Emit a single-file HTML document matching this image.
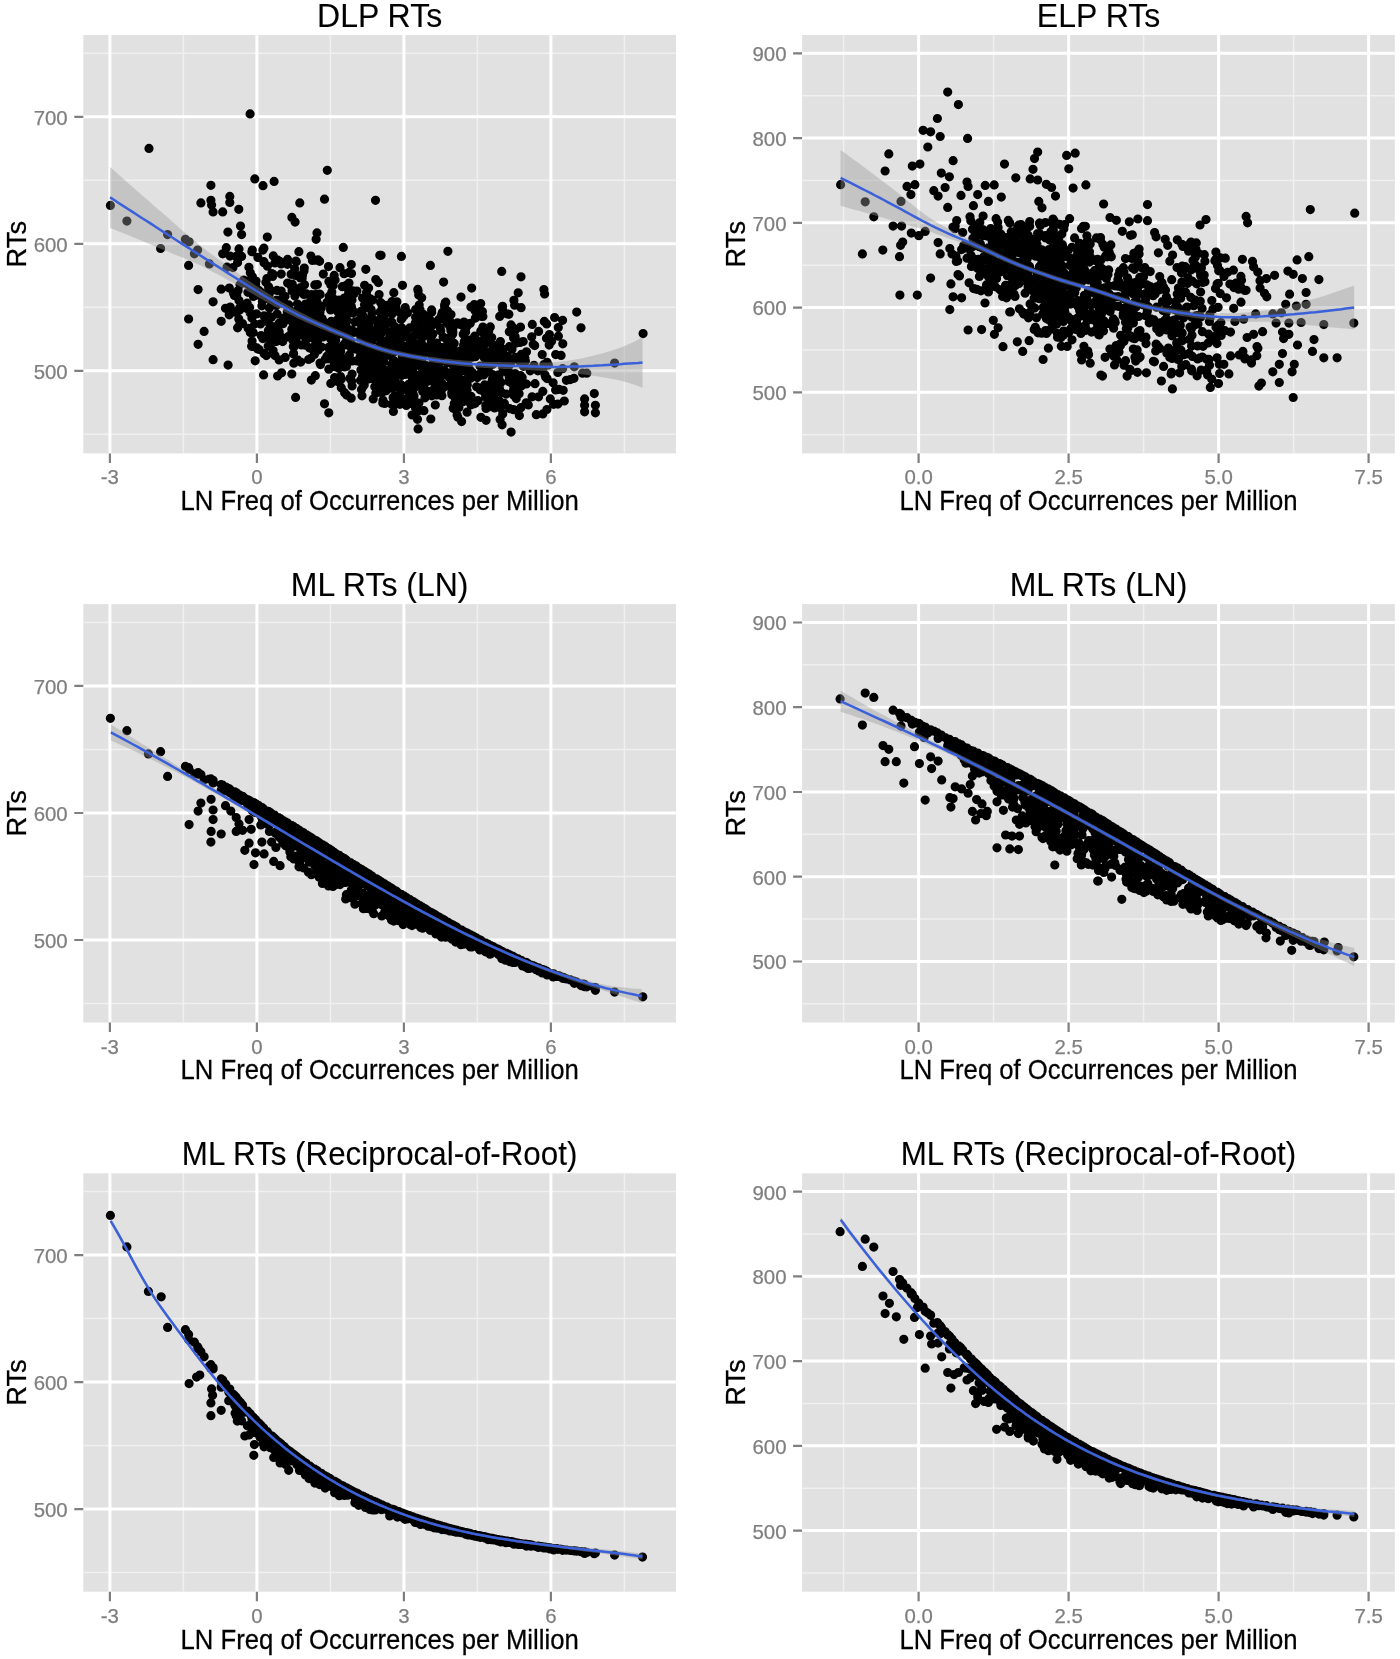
<!DOCTYPE html>
<html><head><meta charset="utf-8"><style>
html,body{margin:0;padding:0;background:#fff;}
svg{display:block;filter:blur(0.45px);}
.tk{font-family:'Liberation Sans', Arial, Helvetica, sans-serif;font-size:20.4px;fill:#7F7F7F;stroke:#7F7F7F;stroke-width:0.25px;}
.tt{font-family:'Liberation Sans', Arial, Helvetica, sans-serif;font-size:32px;fill:#000;stroke:#000;stroke-width:0.1px;}
.at{font-family:'Liberation Sans', Arial, Helvetica, sans-serif;font-size:25.7px;fill:#000;stroke:#000;stroke-width:0.25px;}
</style></head><body>
<svg width="1400" height="1659" viewBox="0 0 1400 1659">
<rect width="1400" height="1659" fill="#fff"/>
<rect x="83.3" y="35.0" width="592.7" height="418.4" fill="#E1E1E1"/>
<path d="M183.4 35.0V453.4M330.4 35.0V453.4M477.4 35.0V453.4M624.4 35.0V453.4M83.3 434.3H676.0M83.3 307.3H676.0M83.3 180.3H676.0M83.3 53.3H676.0" stroke="#F0F0F0" stroke-width="1.5" fill="none"/>
<path d="M109.9 35.0V453.4M256.9 35.0V453.4M403.9 35.0V453.4M550.9 35.0V453.4M83.3 370.8H676.0M83.3 243.8H676.0M83.3 116.8H676.0" stroke="#fff" stroke-width="3" fill="none"/>
<path d="M419.2 305.0h0M492.6 374.6h0M455.9 354.4h0M323.0 336.9h0M343.1 359.2h0M484.4 365.4h0M229.3 288.1h0M468.3 365.1h0M461.6 421.6h0M383.5 353.2h0M343.9 361.0h0M337.5 348.6h0M331.2 321.4h0M378.1 326.5h0M391.9 322.3h0M402.9 369.1h0M558.4 336.2h0M460.4 324.6h0M418.5 320.1h0M544.3 321.4h0M320.2 328.5h0M303.6 322.5h0M416.3 329.6h0M257.7 348.9h0M253.4 296.4h0M394.2 368.2h0M383.1 360.1h0M500.1 419.4h0M420.2 384.8h0M394.0 352.0h0M390.1 322.1h0M329.2 296.3h0M236.7 295.2h0M313.5 326.9h0M435.1 385.2h0M315.9 309.2h0M360.3 348.3h0M227.0 267.2h0M470.9 307.1h0M301.8 317.7h0M334.6 377.5h0M486.7 390.9h0M393.1 397.4h0M476.0 401.0h0M422.6 315.4h0M447.3 353.2h0M279.1 359.9h0M400.1 332.0h0M392.6 311.0h0M483.7 374.9h0M358.3 361.2h0M413.0 366.0h0M265.1 298.7h0M364.6 321.8h0M348.9 298.4h0M300.4 277.9h0M466.9 324.8h0M362.6 298.1h0M533.2 344.3h0M411.1 403.5h0M414.6 359.7h0M422.2 346.9h0M431.3 370.4h0M300.6 287.5h0M377.0 358.0h0M327.0 356.2h0M368.1 297.6h0M281.2 291.0h0M524.9 358.1h0M320.1 294.4h0M430.2 324.3h0M343.2 322.7h0M484.6 384.9h0M427.9 372.2h0M294.2 346.4h0M475.4 356.7h0M512.1 326.7h0M495.0 379.3h0M406.5 390.1h0M298.9 251.7h0M313.5 335.2h0M504.4 403.4h0M402.6 345.7h0M309.9 305.7h0M488.0 386.0h0M423.0 331.9h0M406.5 369.5h0M361.9 370.4h0M370.1 338.5h0M327.0 302.3h0M254.7 324.0h0M485.3 353.0h0M383.4 351.5h0M401.6 375.5h0M348.7 291.9h0M449.7 362.4h0M247.1 303.2h0M360.9 317.8h0M250.3 272.8h0M291.1 274.3h0M524.5 354.6h0M426.9 376.6h0M374.2 362.6h0M396.2 335.7h0M484.2 345.0h0M354.1 293.7h0M411.2 341.7h0M433.0 324.8h0M356.9 291.0h0M395.2 346.4h0M453.2 408.3h0M497.0 401.5h0M300.7 362.1h0M506.7 313.8h0M229.2 314.8h0M450.1 321.6h0M465.3 343.7h0M295.9 261.1h0M372.0 313.0h0M466.6 365.6h0M239.0 300.4h0M420.0 353.8h0M460.5 356.3h0M393.8 368.1h0M443.3 360.9h0M323.3 274.1h0M315.3 375.7h0M358.7 331.7h0M309.6 347.9h0M354.6 332.3h0M513.6 338.0h0M407.4 356.0h0M353.1 313.1h0M335.7 380.9h0M515.6 329.6h0M378.0 366.0h0M534.7 345.6h0M394.4 345.6h0M395.6 375.7h0M492.3 356.8h0M447.5 311.1h0M409.0 345.4h0M373.8 337.3h0M486.0 408.4h0M370.3 298.8h0M502.3 306.8h0M269.4 308.1h0M374.6 352.7h0M395.3 403.0h0M515.1 336.6h0M330.2 305.3h0M464.0 322.0h0M431.3 341.0h0M441.2 390.9h0M420.2 314.1h0M527.5 404.3h0M351.3 343.6h0M367.1 334.2h0M316.6 294.2h0M261.1 293.3h0M319.5 311.3h0M499.4 388.3h0M473.9 403.8h0M287.3 311.7h0M414.3 378.0h0M386.1 390.8h0M412.2 395.3h0M427.2 373.2h0M344.8 393.0h0M520.8 407.7h0M383.0 400.3h0M419.9 350.7h0M421.6 343.8h0M310.9 256.0h0M266.3 355.6h0M370.3 365.8h0M452.9 332.1h0M466.6 369.3h0M444.4 370.4h0M287.6 259.4h0M498.6 374.8h0M462.9 398.8h0M485.8 405.4h0M396.1 341.2h0M499.5 354.4h0M259.1 349.5h0M250.3 332.4h0M243.7 280.0h0M330.6 310.0h0M329.5 348.3h0M312.0 300.4h0M405.9 335.8h0M255.2 360.8h0M411.2 364.9h0M305.5 304.1h0M431.6 376.5h0M244.3 306.4h0M345.8 310.8h0M508.9 314.3h0M399.5 388.4h0M465.6 331.9h0M426.9 318.4h0M415.9 324.6h0M313.1 316.0h0M407.6 391.1h0M255.6 284.5h0M462.8 384.8h0M520.1 342.4h0M478.1 305.4h0M261.1 335.5h0M352.8 290.9h0M347.7 284.9h0M287.4 264.3h0M419.5 357.1h0M461.7 400.1h0M346.6 340.6h0M480.9 417.3h0M461.6 359.0h0M293.3 346.5h0M453.6 366.4h0M487.5 367.1h0M314.9 260.2h0M407.4 313.0h0M422.4 358.3h0M415.6 317.3h0M281.0 336.9h0M427.7 368.4h0M420.8 327.7h0M469.1 402.0h0M463.3 371.0h0M349.9 378.3h0M442.4 356.1h0M482.4 311.6h0M491.1 387.7h0M304.0 309.9h0M248.1 328.3h0M425.2 393.8h0M320.0 363.0h0M405.2 307.6h0M512.0 349.2h0M362.6 364.1h0M330.6 305.9h0M380.8 358.3h0M426.7 332.1h0M282.9 303.4h0M362.9 332.6h0M294.9 296.0h0M428.0 376.1h0M471.0 375.5h0M362.0 395.8h0M360.8 354.7h0M399.8 397.8h0M320.1 328.4h0M329.2 358.1h0M350.6 333.4h0M381.0 333.4h0M275.0 355.6h0M450.0 386.6h0M408.6 384.4h0M343.0 309.8h0M273.3 255.9h0M452.7 334.0h0M294.0 326.2h0M294.7 268.8h0M293.8 363.2h0M274.9 262.9h0M496.0 384.8h0M335.1 280.1h0M344.7 367.0h0M471.7 357.4h0M418.0 362.9h0M311.9 316.9h0M375.8 393.2h0M487.9 385.3h0M361.7 326.2h0M439.6 352.4h0M281.2 274.1h0M443.7 357.4h0M456.1 384.1h0M469.6 354.4h0M430.8 419.0h0M360.5 380.4h0M267.4 266.2h0M395.1 381.5h0M451.2 344.0h0M313.0 322.6h0M334.3 363.0h0M399.0 363.5h0M448.9 376.9h0M492.4 379.3h0M292.1 290.8h0M311.0 299.0h0M462.2 380.3h0M423.7 385.9h0M442.1 350.8h0M562.6 368.7h0M509.3 331.8h0M474.7 336.2h0M456.3 362.5h0M366.4 348.2h0M423.0 384.1h0M311.1 348.6h0M451.7 392.8h0M451.3 373.4h0M442.2 373.3h0M378.1 323.2h0M362.3 353.9h0M372.2 351.2h0M252.1 341.0h0M475.1 310.8h0M400.4 336.7h0M364.6 285.3h0M401.7 327.8h0M442.3 312.5h0M363.1 349.5h0M471.0 339.9h0M501.0 403.0h0M364.5 304.8h0M296.3 261.7h0M452.0 347.6h0M551.6 341.3h0M299.7 275.6h0M440.1 380.8h0M469.5 349.3h0M501.4 392.4h0M291.3 336.5h0M279.2 331.7h0M542.8 370.1h0M288.9 309.3h0M308.8 304.0h0M407.7 400.4h0M378.4 282.6h0M449.5 323.1h0M312.9 297.0h0M499.0 375.7h0M320.7 327.0h0M454.2 343.4h0M268.9 295.5h0M384.7 403.5h0M251.6 277.9h0M346.6 395.1h0M346.2 302.4h0M441.8 347.7h0M380.5 351.2h0M264.0 262.7h0M557.9 404.1h0M489.6 358.4h0M499.7 316.4h0M328.9 334.0h0M366.1 356.3h0M323.5 321.6h0M291.8 329.2h0M251.9 251.7h0M391.6 380.3h0M291.2 286.0h0M308.6 359.5h0M480.2 341.4h0M387.2 353.0h0M310.9 319.9h0M429.7 392.8h0M334.2 344.3h0M396.9 301.8h0M338.7 368.2h0M394.5 386.0h0M420.0 309.4h0M399.0 348.7h0M366.5 292.5h0M459.9 351.2h0M484.4 392.3h0M309.6 321.2h0M295.8 275.4h0M287.6 283.0h0M534.0 365.3h0M510.4 362.9h0M324.5 329.4h0M526.4 384.0h0M318.0 259.8h0M392.3 350.7h0M390.2 387.3h0M499.2 379.7h0M256.0 281.0h0M347.0 314.2h0M413.4 359.8h0M268.4 330.5h0M326.2 325.6h0M382.8 402.9h0M486.9 406.1h0M452.1 334.9h0M470.6 378.3h0M452.1 348.7h0M438.9 319.6h0M476.8 341.9h0M432.5 357.7h0M445.8 338.4h0M343.5 345.3h0M306.0 293.5h0M451.0 347.5h0M305.4 345.2h0M501.0 361.8h0M412.6 360.6h0M350.5 342.2h0M508.2 373.7h0M302.0 331.0h0M394.1 405.0h0M279.1 323.2h0M523.4 366.3h0M407.8 351.0h0M463.4 399.2h0M338.4 310.9h0M462.9 401.7h0M437.7 366.5h0M423.5 314.4h0M514.9 387.3h0M375.4 362.7h0M371.1 309.5h0M435.1 371.3h0M472.3 372.5h0M351.9 329.9h0M429.7 323.8h0M318.4 350.1h0M402.5 386.1h0M454.2 396.6h0M267.9 336.4h0M443.8 387.3h0M240.0 284.8h0M519.1 393.8h0M383.6 344.6h0M369.7 330.9h0M442.0 383.5h0M396.1 347.6h0M444.6 306.8h0M276.3 300.4h0M405.0 374.5h0M403.9 355.6h0M506.2 394.1h0M255.5 295.6h0M380.0 319.4h0M420.6 383.2h0M402.3 360.0h0M271.8 273.5h0M411.9 371.2h0M322.1 318.6h0M314.4 354.5h0M486.1 390.1h0M315.1 338.2h0M380.3 360.5h0M449.4 377.5h0M438.8 377.2h0M402.9 358.6h0M464.3 341.4h0M383.0 342.3h0M418.1 290.8h0M467.7 355.7h0M431.7 312.3h0M423.1 348.2h0M369.0 324.5h0M404.0 399.4h0M366.6 346.9h0M447.9 362.7h0M362.9 349.2h0M383.2 320.5h0M450.7 373.1h0M391.7 364.6h0M352.6 345.5h0M469.9 369.9h0M363.0 328.6h0M475.3 403.3h0M458.4 391.2h0M378.7 337.8h0M440.1 354.9h0M252.7 314.6h0M365.1 360.5h0M480.1 389.8h0M408.8 356.3h0M403.9 316.0h0M428.5 391.4h0M431.6 309.9h0M409.7 327.9h0M372.4 359.3h0M310.8 294.8h0M341.2 379.3h0M341.3 387.7h0M374.8 386.7h0M574.0 378.3h0M356.2 349.2h0M378.7 363.4h0M360.8 337.5h0M409.2 338.8h0M513.5 409.7h0M489.7 384.7h0M362.1 354.3h0M334.4 366.6h0M488.1 407.2h0M389.4 382.1h0M433.5 358.9h0M271.4 290.8h0M482.1 345.5h0M346.4 366.5h0M389.6 375.3h0M315.1 350.8h0M372.3 330.6h0M470.3 323.3h0M470.1 378.0h0M384.8 373.8h0M453.9 350.4h0M381.2 315.0h0M361.2 329.9h0M401.2 319.5h0M316.1 317.8h0M347.3 296.2h0M438.6 319.7h0M454.6 364.4h0M263.9 261.7h0M445.1 354.9h0M467.2 359.7h0M378.2 376.1h0M266.6 317.3h0M432.9 333.8h0M328.8 369.2h0M423.5 336.4h0M362.0 330.1h0M422.0 348.0h0M332.1 332.2h0M385.4 328.5h0M396.4 376.1h0M420.6 353.7h0M316.7 301.0h0M521.3 385.9h0M340.3 304.7h0M344.6 392.7h0M331.6 306.7h0M268.9 316.3h0M373.0 319.5h0M454.9 390.7h0M439.3 379.0h0M314.4 347.6h0M296.0 338.0h0M348.5 344.5h0M454.0 393.6h0M388.1 312.0h0M502.5 309.5h0M426.5 379.9h0M418.2 411.0h0M453.8 324.0h0M449.4 325.5h0M354.0 311.9h0M331.8 292.1h0M376.4 373.9h0M388.4 355.2h0M297.6 359.8h0M377.3 391.6h0M422.6 325.7h0M295.6 336.8h0M296.4 313.3h0M307.8 338.6h0M338.8 306.4h0M521.1 307.7h0M247.5 284.0h0M310.9 358.3h0M305.2 305.4h0M384.9 305.3h0M239.7 310.1h0M381.2 372.4h0M304.5 284.8h0M335.2 325.8h0M460.3 396.8h0M311.0 331.8h0M417.4 380.0h0M369.0 334.4h0M371.7 341.2h0M467.1 325.9h0M303.9 294.5h0M502.7 413.9h0M491.3 350.9h0M429.4 329.5h0M260.5 291.9h0M428.2 325.1h0M413.5 372.8h0M455.0 391.5h0M319.7 294.1h0M516.3 398.6h0M488.7 331.1h0M288.0 336.8h0M347.0 344.8h0M251.6 346.3h0M471.1 404.8h0M499.3 400.8h0M545.6 377.0h0M416.2 344.1h0M428.8 334.0h0M431.8 395.8h0M406.6 387.9h0M515.8 343.2h0M415.2 358.0h0M352.1 386.0h0M393.8 292.7h0M242.5 323.6h0M442.9 352.0h0M435.5 352.5h0M372.5 300.2h0M477.3 377.6h0M450.7 328.8h0M352.3 360.9h0M273.3 274.4h0M294.4 339.4h0M311.0 331.2h0M344.1 273.7h0M378.7 337.0h0M504.4 360.8h0M337.5 319.7h0M493.1 389.8h0M432.3 335.1h0M478.0 400.7h0M368.3 307.7h0M226.3 247.7h0M458.9 379.9h0M328.6 347.4h0M297.9 310.3h0M462.2 361.5h0M433.7 389.6h0M319.3 305.4h0M334.6 343.7h0M509.3 377.3h0M334.9 338.8h0M437.6 349.4h0M293.5 354.0h0M466.5 343.7h0M289.2 319.8h0M394.5 372.1h0M253.1 346.3h0M402.1 390.7h0M475.8 351.6h0M276.2 341.4h0M336.4 328.7h0M453.1 327.4h0M415.3 322.9h0M346.3 285.3h0M420.1 365.9h0M380.4 382.0h0M480.8 330.9h0M341.3 322.9h0M451.3 325.2h0M421.7 356.4h0M447.0 322.4h0M362.4 314.4h0M443.1 337.1h0M436.6 343.0h0M364.6 329.5h0M247.9 292.3h0M521.8 357.7h0M440.3 328.1h0M317.1 338.7h0M444.6 305.0h0M337.6 334.6h0M383.8 317.3h0M480.0 366.1h0M378.8 354.9h0M340.0 267.7h0M344.5 343.9h0M273.1 350.5h0M321.4 347.0h0M335.6 340.5h0M307.6 311.6h0M266.9 278.6h0M383.0 380.2h0M319.9 312.5h0M446.5 339.0h0M502.2 307.0h0M336.1 352.7h0M407.1 335.0h0M392.4 341.3h0M272.2 342.2h0M291.8 315.3h0M488.2 372.0h0M384.9 329.9h0M463.6 345.0h0M268.5 322.6h0M412.2 397.6h0M481.7 316.4h0M482.3 354.9h0M230.0 256.1h0M395.8 307.0h0M360.1 357.0h0M451.9 335.2h0M271.4 317.2h0M333.9 331.7h0M465.9 365.0h0M383.8 348.7h0M380.0 312.1h0M525.4 361.1h0M348.1 340.5h0M256.6 313.9h0M365.7 331.7h0M301.5 345.0h0M275.1 326.5h0M406.1 355.6h0M516.5 382.7h0M408.7 358.2h0M424.3 376.6h0M349.1 272.4h0M406.9 311.9h0M449.9 346.4h0M411.0 356.6h0M463.1 351.8h0M402.2 355.9h0M315.2 312.0h0M409.5 344.9h0M388.7 305.2h0M305.4 317.9h0M417.8 289.4h0M467.1 390.4h0M295.4 293.4h0M401.0 384.7h0M445.3 302.5h0M368.3 354.0h0M335.3 332.1h0M360.9 311.4h0M400.3 312.9h0M433.8 393.9h0M404.2 364.6h0M285.2 357.4h0M467.4 358.1h0M502.7 367.5h0M283.0 323.7h0M329.7 349.7h0M307.8 330.5h0M476.6 386.8h0M497.4 347.2h0M257.9 257.4h0M351.2 398.2h0M313.5 324.6h0M383.8 361.9h0M501.8 348.6h0M270.1 339.4h0M307.1 322.6h0M387.9 382.8h0M396.3 329.7h0M448.2 357.4h0M376.4 351.4h0M297.4 304.1h0M356.4 346.8h0M536.3 414.7h0M449.5 341.8h0M288.7 304.8h0M464.6 367.1h0M345.9 303.4h0M457.4 322.8h0M237.6 327.8h0M483.7 388.3h0M304.3 268.0h0M380.6 302.6h0M427.8 381.2h0M392.6 388.5h0M305.3 337.5h0M296.7 331.5h0M339.1 382.2h0M261.9 305.8h0M320.5 364.6h0M293.6 353.5h0M382.7 319.2h0M357.1 360.9h0M410.4 357.1h0M338.1 311.5h0M252.4 276.7h0M350.9 347.4h0M450.7 359.4h0M331.5 354.9h0M368.6 288.1h0M450.6 340.2h0M369.1 378.8h0M489.0 363.6h0M500.4 341.5h0M345.8 319.4h0M445.8 302.2h0M330.7 284.8h0M296.9 332.8h0M376.5 349.2h0M414.0 396.1h0M507.7 356.5h0M299.0 311.3h0M440.0 356.4h0M385.2 370.3h0M294.2 311.6h0M528.3 405.0h0M436.0 386.5h0M293.2 326.6h0M495.7 353.1h0M283.7 318.0h0M279.6 340.0h0M351.0 311.8h0M508.8 381.6h0M251.9 318.0h0M500.5 408.0h0M416.1 380.8h0M268.7 288.1h0M406.3 405.4h0M381.3 350.1h0M405.3 331.0h0M446.1 372.2h0M431.8 350.7h0M564.3 401.0h0M302.5 275.2h0M465.9 327.4h0M370.2 336.7h0M457.9 417.3h0M490.6 397.0h0M549.4 334.6h0M334.2 275.4h0M380.0 338.0h0M511.0 324.9h0M512.4 383.9h0M361.1 346.8h0M509.8 364.5h0M368.9 330.3h0M361.5 389.5h0M451.0 331.0h0M384.2 306.7h0M378.9 383.6h0M364.2 385.0h0M375.3 334.8h0M297.0 336.5h0M265.9 282.3h0M450.4 355.8h0M405.4 369.0h0M430.2 353.7h0M463.0 386.0h0M324.4 322.4h0M325.4 359.1h0M337.4 355.3h0M344.1 321.7h0M452.1 378.6h0M361.4 355.2h0M349.0 283.0h0M421.8 329.5h0M311.7 294.6h0M285.0 296.3h0M436.3 343.6h0M451.0 314.6h0M342.2 333.8h0M421.7 297.8h0M252.5 332.7h0M368.6 351.7h0M408.4 398.2h0M330.8 339.3h0M355.1 322.0h0M415.6 309.6h0M411.1 376.0h0M301.7 316.5h0M438.6 370.7h0M274.3 333.8h0M526.2 402.8h0M316.4 320.3h0M330.8 383.4h0M315.8 318.4h0M548.4 364.9h0M339.6 353.0h0M414.6 387.6h0M546.9 409.5h0M514.6 305.2h0M256.9 347.9h0M395.6 302.3h0M413.7 336.3h0M437.6 370.7h0M352.1 374.0h0M350.1 303.3h0M227.9 232.1h0M253.2 332.6h0M402.1 362.6h0M272.6 276.5h0M316.5 311.5h0M351.5 273.5h0M270.2 327.3h0M250.6 284.2h0M504.0 404.0h0M375.8 279.6h0M317.2 345.7h0M439.1 363.3h0M234.4 295.6h0M328.5 266.6h0M520.5 375.6h0M492.8 364.3h0M421.7 337.9h0M279.8 261.4h0M347.7 337.4h0M248.9 267.3h0M321.3 307.9h0M247.3 308.7h0M292.3 312.3h0M421.1 355.7h0M282.7 341.6h0M302.2 278.2h0M494.6 407.9h0M352.0 300.0h0M351.4 306.6h0M277.1 314.0h0M461.3 386.2h0M431.3 365.4h0M401.5 338.0h0M417.5 332.5h0M282.7 303.4h0M332.7 297.7h0M409.7 372.4h0M515.7 357.3h0M467.1 412.2h0M422.8 332.7h0M395.1 346.7h0M239.7 307.7h0M490.3 326.9h0M268.6 286.8h0M293.3 313.7h0M435.3 405.0h0M465.7 328.4h0M458.7 378.1h0M379.9 345.0h0M308.9 326.7h0M253.2 291.8h0M477.3 342.6h0M532.3 324.4h0M328.3 358.7h0M482.0 313.5h0M368.1 373.0h0M346.0 325.9h0M392.0 314.0h0M233.0 267.6h0M377.6 376.5h0M315.6 344.1h0M440.0 374.2h0M391.4 352.3h0M482.9 327.0h0M492.4 404.9h0M347.3 320.5h0M338.0 312.0h0M509.3 346.7h0M391.7 336.0h0M281.1 263.9h0M258.7 290.3h0M546.5 338.3h0M408.7 336.6h0M262.9 250.1h0M393.4 411.5h0M391.8 310.1h0M375.9 354.4h0M515.2 373.6h0M513.9 395.4h0M291.8 374.0h0M300.9 328.6h0M369.3 365.7h0M472.0 347.1h0M418.9 403.0h0M444.3 314.6h0M408.0 345.7h0M318.7 331.0h0M467.3 385.0h0M238.8 318.9h0M436.6 394.9h0M314.1 338.4h0M384.2 348.5h0M530.2 370.8h0M399.7 397.5h0M264.0 315.9h0M374.3 374.0h0M427.4 352.6h0M263.9 248.2h0M330.6 308.5h0M242.3 306.1h0M399.9 404.3h0M363.1 386.5h0M391.7 404.3h0M342.0 310.0h0M426.6 381.8h0M307.6 316.2h0M496.0 383.7h0M520.1 362.0h0M389.2 305.6h0M382.9 370.1h0M479.9 374.1h0M340.5 358.0h0M463.2 334.3h0M339.8 364.7h0M441.9 395.7h0M351.6 381.1h0M414.0 400.2h0M503.5 349.3h0M262.8 338.6h0M464.4 332.0h0M400.3 344.8h0M362.5 376.3h0M355.6 347.4h0M269.7 316.5h0M332.2 350.9h0M418.7 295.0h0M281.6 372.8h0M429.6 345.9h0M521.4 354.4h0M535.0 383.7h0M489.8 359.0h0M464.2 334.3h0M309.1 314.0h0M526.5 351.8h0M316.5 300.2h0M482.9 316.5h0M485.9 332.4h0M418.5 324.0h0M395.7 396.4h0M315.9 325.7h0M395.2 377.4h0M340.7 351.2h0M292.2 284.0h0M293.0 340.4h0M462.7 366.2h0M502.1 424.8h0M297.7 320.9h0M238.1 290.6h0M333.6 351.9h0M295.1 338.2h0M312.4 260.5h0M409.6 393.1h0M372.8 378.5h0M374.4 371.3h0M317.4 284.5h0M428.5 347.3h0M340.4 355.2h0M367.3 356.7h0M382.4 314.4h0M495.2 392.9h0M328.9 281.4h0M441.6 314.7h0M345.5 332.3h0M491.6 343.3h0M366.1 318.9h0M392.0 301.5h0M485.6 396.9h0M430.4 320.6h0M280.3 323.8h0M296.0 339.9h0M547.1 362.3h0M249.6 307.5h0M343.3 365.0h0M519.4 415.6h0M239.7 324.4h0M304.0 270.9h0M319.6 261.3h0M277.0 290.4h0M384.4 311.1h0M411.7 371.4h0M347.7 337.9h0M285.9 304.3h0M465.4 396.6h0M463.6 393.5h0M404.8 350.6h0M296.3 325.8h0M400.3 386.5h0M420.2 344.2h0M374.2 353.9h0M481.2 330.9h0M365.2 342.5h0M393.3 360.7h0M287.9 309.7h0M405.2 359.2h0M453.5 382.3h0M444.7 372.8h0M331.8 305.0h0M549.2 345.1h0M441.9 318.9h0M373.2 399.0h0M371.1 357.0h0M456.8 374.6h0M308.4 313.1h0M422.6 371.2h0M441.6 376.0h0M394.5 326.6h0M484.3 357.8h0M383.6 385.6h0M382.8 305.9h0M339.1 300.2h0M500.9 382.4h0M347.2 308.8h0M435.8 382.2h0M369.8 308.3h0M507.6 371.3h0M513.5 390.1h0M250.2 312.9h0M555.6 389.9h0M414.5 349.4h0M271.7 304.1h0M390.1 349.2h0M260.5 324.0h0M401.9 350.2h0M311.4 380.1h0M359.9 332.6h0M344.3 298.1h0M413.9 346.7h0M468.6 374.9h0M508.1 370.1h0M350.4 340.7h0M406.5 371.5h0M230.2 307.0h0M360.9 370.0h0M520.5 327.1h0M289.6 314.7h0M483.2 333.1h0M425.6 365.3h0M341.5 330.6h0M456.5 366.9h0M340.3 317.7h0M491.7 337.6h0M275.5 303.1h0M289.7 335.6h0M449.4 385.4h0M379.1 294.5h0M299.5 325.1h0M393.9 360.5h0M342.3 286.7h0M402.0 318.6h0M447.8 343.5h0M479.0 375.9h0M265.0 295.2h0M411.7 337.7h0M537.9 370.8h0M381.6 392.8h0M454.3 403.6h0M281.4 299.3h0M484.4 351.0h0M409.3 362.2h0M489.4 400.9h0M458.9 407.5h0M483.0 373.8h0M264.2 353.7h0M440.8 331.0h0M314.8 284.9h0M334.2 301.9h0M349.4 354.9h0M411.4 382.7h0M419.8 375.3h0M505.9 370.0h0M237.6 262.4h0M313.8 301.6h0M358.4 321.1h0M467.4 355.6h0M402.1 332.2h0M393.6 305.2h0M451.9 394.8h0M426.2 372.0h0M340.5 376.5h0M277.3 259.8h0M382.2 306.9h0M486.6 339.7h0M413.0 393.3h0M262.3 301.4h0M377.0 353.9h0M363.9 339.3h0M409.4 360.6h0M410.5 338.3h0M515.3 377.2h0M352.6 310.3h0M369.5 336.2h0M416.5 365.2h0M488.8 367.2h0M438.5 373.3h0M384.1 322.9h0M466.4 371.0h0M387.5 340.3h0M522.2 377.4h0M338.6 378.8h0M292.7 286.1h0M471.0 396.3h0M342.4 311.7h0M476.1 349.7h0M415.6 408.3h0M392.9 381.0h0M277.3 327.5h0M458.7 387.7h0M268.2 346.1h0M523.2 341.5h0M485.6 371.1h0M343.9 321.6h0M292.9 328.6h0M488.5 354.0h0M386.2 373.1h0M291.8 315.5h0M390.5 332.0h0M329.0 326.2h0M369.4 358.4h0M422.7 391.4h0M499.4 358.8h0M462.6 351.1h0M303.9 325.2h0M385.6 373.6h0M389.0 332.8h0M545.1 375.1h0M277.2 300.4h0M393.3 339.2h0M499.0 360.2h0M367.3 365.6h0M333.1 285.4h0M403.5 361.5h0M348.2 360.3h0M504.0 371.2h0M276.4 305.6h0M317.7 340.5h0M250.1 113.9h0M149.0 148.4h0M110.4 205.4h0M126.9 221.1h0M167.6 234.6h0M160.6 248.5h0M185.4 239.3h0M189.1 241.8h0M197.6 250.0h0M194.4 253.8h0M209.4 263.9h0M188.6 265.4h0M210.9 185.3h0M200.9 202.9h0M210.9 200.3h0M211.6 205.0h0M213.1 211.9h0M222.7 211.9h0M229.8 196.4h0M229.8 202.4h0M238.8 209.3h0M240.5 226.0h0M241.6 234.6h0M254.8 178.9h0M263.0 185.7h0M274.1 181.4h0M327.3 170.3h0M324.5 199.2h0M375.5 200.3h0M299.8 202.9h0M291.9 217.4h0M295.1 222.1h0M317.0 232.9h0M316.1 239.3h0M267.3 237.1h0M343.3 247.4h0M222.7 253.8h0M239.0 248.9h0M236.2 256.4h0M241.6 256.4h0M252.3 250.0h0M198.1 289.6h0M221.2 289.2h0M233.6 293.5h0M213.1 301.8h0M225.5 308.3h0M235.1 312.1h0M188.6 319.0h0M221.2 321.3h0M204.1 331.4h0M198.1 344.3h0M213.1 359.7h0M228.1 365.1h0M263.6 374.9h0M277.6 376.0h0M295.6 397.4h0M324.5 403.8h0M328.8 412.8h0M351.3 264.6h0M365.8 269.3h0M379.8 255.3h0M447.9 251.3h0M401.4 256.4h0M381.1 255.3h0M430.4 265.4h0M443.6 282.1h0M402.5 285.3h0M501.7 271.4h0M521.0 276.8h0M471.7 288.1h0M461.0 297.1h0M543.9 289.6h0M544.6 293.9h0M518.2 292.8h0M513.9 300.3h0M502.6 306.3h0M474.3 304.6h0M480.7 303.6h0M475.4 318.1h0M576.7 312.1h0M581.0 327.8h0M554.6 317.5h0M562.6 320.3h0M558.3 327.6h0M546.7 323.9h0M538.6 331.4h0M531.7 336.8h0M549.9 340.4h0M562.8 343.8h0M542.2 354.6h0M555.7 354.6h0M561.1 355.4h0M643.1 333.6h0M614.6 363.1h0M574.3 366.8h0M557.8 372.5h0M582.5 373.2h0M586.8 373.2h0M543.9 364.6h0M530.0 368.9h0M511.8 361.0h0M547.1 378.6h0M553.1 382.8h0M566.4 380.3h0M570.3 379.6h0M558.9 389.3h0M563.2 390.3h0M542.8 391.4h0M538.6 396.8h0M532.1 396.8h0M550.3 398.9h0M553.6 404.3h0M594.3 393.6h0M584.6 398.9h0M584.6 405.3h0M584.6 411.8h0M595.4 405.3h0M595.4 412.8h0M542.8 413.9h0M509.6 408.6h0M511.1 432.1h0M418.1 428.9h0M457.1 415.0h0M412.1 415.0h0M417.5 419.3h0M486.1 420.3h0M425.0 397.8h0M423.9 410.7h0" stroke="#000" stroke-width="9.2" stroke-linecap="round" fill="none"/>
<path d="M110.1 167.0L114.6 171.0L119.0 175.0L123.5 178.9L128.0 182.9L132.5 186.8L136.9 190.8L141.4 194.7L145.9 198.6L150.4 202.5L154.8 206.4L159.3 210.2L163.8 214.1L168.3 218.1L172.7 222.0L177.2 225.9L181.7 229.9L186.2 233.7L190.6 237.6L195.1 241.3L199.6 245.0L204.1 248.5L208.5 251.9L213.0 255.3L217.5 258.6L222.0 261.8L226.4 265.1L230.9 268.3L235.4 271.4L239.8 274.6L244.3 277.7L248.8 280.8L253.3 283.8L257.7 286.8L262.2 289.7L266.7 292.6L271.2 295.4L275.6 298.2L280.1 300.9L284.6 303.6L289.1 306.1L293.5 308.6L298.0 311.0L302.5 313.3L307.0 315.6L311.4 317.8L315.9 319.9L320.4 321.9L324.9 323.9L329.3 325.9L333.8 327.9L338.3 329.8L342.8 331.7L347.2 333.6L351.7 335.5L356.2 337.4L360.7 339.1L365.1 340.9L369.6 342.6L374.1 344.1L378.6 345.6L383.0 347.0L387.5 348.3L392.0 349.5L396.4 350.6L400.9 351.6L405.4 352.6L409.9 353.4L414.3 354.2L418.8 355.0L423.3 355.7L427.8 356.4L432.2 357.0L436.7 357.6L441.2 358.2L445.7 358.7L450.1 359.2L454.6 359.7L459.1 360.1L463.6 360.5L468.0 360.8L472.5 361.1L477.0 361.4L481.5 361.6L485.9 361.7L490.4 361.9L494.9 362.0L499.4 362.1L503.8 362.2L508.3 362.3L512.8 362.4L517.3 362.5L521.7 362.5L526.2 362.6L530.7 362.6L535.1 362.6L539.6 362.6L544.1 362.5L548.6 362.4L553.0 362.2L557.5 361.9L562.0 361.4L566.5 360.9L570.9 360.2L575.4 359.5L579.9 358.8L584.4 357.8L588.8 356.8L593.3 355.7L597.8 354.6L602.3 353.4L606.7 352.1L611.2 350.7L615.7 349.3L620.2 347.7L624.6 346.0L629.1 344.1L633.6 342.0L638.1 339.7L642.5 337.2L642.5 387.9L638.1 386.1L633.6 384.4L629.1 383.0L624.6 381.7L620.2 380.6L615.7 379.6L611.2 378.8L606.7 378.0L602.3 377.2L597.8 376.5L593.3 375.8L588.8 375.2L584.4 374.5L579.9 374.0L575.4 373.5L570.9 373.1L566.5 372.6L562.0 372.2L557.5 371.9L553.0 371.5L548.6 371.3L544.1 371.1L539.6 370.8L535.1 370.6L530.7 370.3L526.2 370.1L521.7 369.8L517.3 369.6L512.8 369.3L508.3 369.1L503.8 368.9L499.4 368.6L494.9 368.4L490.4 368.2L485.9 367.9L481.5 367.7L477.0 367.4L472.5 367.0L468.0 366.7L463.6 366.3L459.1 365.8L454.6 365.3L450.1 364.8L445.7 364.2L441.2 363.6L436.7 363.0L432.2 362.3L427.8 361.6L423.3 360.9L418.8 360.1L414.3 359.3L409.9 358.5L405.4 357.6L400.9 356.7L396.4 355.7L392.0 354.7L387.5 353.5L383.0 352.2L378.6 350.9L374.1 349.4L369.6 347.9L365.1 346.3L360.7 344.6L356.2 342.9L351.7 341.2L347.2 339.4L342.8 337.6L338.3 335.8L333.8 334.0L329.3 332.2L324.9 330.3L320.4 328.5L315.9 326.6L311.4 324.6L307.0 322.7L302.5 320.6L298.0 318.5L293.5 316.3L289.1 314.0L284.6 311.7L280.1 309.3L275.6 306.9L271.2 304.4L266.7 301.9L262.2 299.4L257.7 296.9L253.3 294.3L248.8 291.7L244.3 289.2L239.8 286.6L235.4 284.1L230.9 281.6L226.4 279.2L222.0 276.7L217.5 274.3L213.0 271.9L208.5 269.6L204.1 267.3L199.6 265.1L195.1 263.0L190.6 261.0L186.2 259.1L181.7 257.3L177.2 255.5L172.7 253.7L168.3 251.8L163.8 250.0L159.3 248.2L154.8 246.3L150.4 244.4L145.9 242.5L141.4 240.6L136.9 238.8L132.5 236.9L128.0 235.1L123.5 233.3L119.0 231.5L114.6 229.7L110.1 227.9Z" fill="#999" fill-opacity="0.4"/>
<path d="M110.1 197.4L114.6 200.3L119.0 203.2L123.5 206.1L128.0 209.0L132.5 211.9L136.9 214.8L141.4 217.7L145.9 220.5L150.4 223.4L154.8 226.3L159.3 229.2L163.8 232.1L168.3 235.0L172.7 237.8L177.2 240.7L181.7 243.6L186.2 246.4L190.6 249.3L195.1 252.2L199.6 255.0L204.1 257.9L208.5 260.7L213.0 263.6L217.5 266.4L222.0 269.3L226.4 272.1L230.9 275.0L235.4 277.8L239.8 280.6L244.3 283.4L248.8 286.2L253.3 289.0L257.7 291.8L262.2 294.6L266.7 297.3L271.2 299.9L275.6 302.6L280.1 305.1L284.6 307.6L289.1 310.1L293.5 312.5L298.0 314.8L302.5 317.0L307.0 319.1L311.4 321.2L315.9 323.2L320.4 325.2L324.9 327.1L329.3 329.0L333.8 330.9L338.3 332.8L342.8 334.7L347.2 336.5L351.7 338.3L356.2 340.1L360.7 341.9L365.1 343.6L369.6 345.2L374.1 346.8L378.6 348.3L383.0 349.6L387.5 350.9L392.0 352.1L396.4 353.2L400.9 354.2L405.4 355.1L409.9 356.0L414.3 356.8L418.8 357.5L423.3 358.3L427.8 359.0L432.2 359.7L436.7 360.3L441.2 360.9L445.7 361.5L450.1 362.0L454.6 362.5L459.1 363.0L463.6 363.4L468.0 363.8L472.5 364.1L477.0 364.4L481.5 364.6L485.9 364.8L490.4 365.0L494.9 365.2L499.4 365.4L503.8 365.5L508.3 365.7L512.8 365.9L517.3 366.0L521.7 366.2L526.2 366.3L530.7 366.5L535.1 366.6L539.6 366.7L544.1 366.8L548.6 366.8L553.0 366.9L557.5 366.9L562.0 366.8L566.5 366.7L570.9 366.6L575.4 366.5L579.9 366.4L584.4 366.2L588.8 366.0L593.3 365.8L597.8 365.5L602.3 365.3L606.7 365.0L611.2 364.7L615.7 364.5L620.2 364.2L624.6 363.8L629.1 363.5L633.6 363.2L638.1 362.9L642.5 362.5" stroke="#3A60DA" stroke-width="2.5" fill="none"/>
<path d="M109.9 453.4v9.5M256.9 453.4v9.5M403.9 453.4v9.5M550.9 453.4v9.5M74.3 370.8h9M74.3 243.8h9M74.3 116.8h9" stroke="#7F7F7F" stroke-width="2.2" fill="none"/>
<text x="109.9" y="484.3" text-anchor="middle" class="tk">-3</text>
<text x="256.9" y="484.3" text-anchor="middle" class="tk">0</text>
<text x="403.9" y="484.3" text-anchor="middle" class="tk">3</text>
<text x="550.9" y="484.3" text-anchor="middle" class="tk">6</text>
<text x="67.7" y="378.7" text-anchor="end" class="tk">500</text>
<text x="67.7" y="251.7" text-anchor="end" class="tk">600</text>
<text x="67.7" y="124.7" text-anchor="end" class="tk">700</text>
<text transform="translate(379.6,26.7) scale(1.0,1.02)" text-anchor="middle" class="tt">DLP RTs</text>
<text transform="translate(379.6,510.2) scale(1,1.04)" text-anchor="middle" class="at">LN Freq of Occurrences per Million</text>
<text transform="translate(26.3,244.2) rotate(-90) scale(1.06,1.04)" text-anchor="middle" class="at">RTs</text>
<rect x="802.1" y="35.0" width="592.7" height="418.4" fill="#E1E1E1"/>
<path d="M843.6 35.0V453.4M993.6 35.0V453.4M1143.6 35.0V453.4M1293.6 35.0V453.4M802.1 434.7H1394.8M802.1 349.9H1394.8M802.1 265.2H1394.8M802.1 180.4H1394.8M802.1 95.7H1394.8" stroke="#F0F0F0" stroke-width="1.5" fill="none"/>
<path d="M918.6 35.0V453.4M1068.6 35.0V453.4M1218.6 35.0V453.4M1368.6 35.0V453.4M802.1 392.3H1394.8M802.1 307.6H1394.8M802.1 222.8H1394.8M802.1 138.1H1394.8M802.1 53.3H1394.8" stroke="#fff" stroke-width="3" fill="none"/>
<path d="M1128.4 280.6h0M1197.8 315.5h0M1107.1 289.0h0M980.5 265.0h0M1224.8 330.7h0M1028.9 245.4h0M1059.5 224.3h0M1096.3 300.2h0M1116.8 360.0h0M1058.7 238.8h0M1078.4 266.3h0M1118.6 275.1h0M1081.8 281.8h0M1046.8 274.6h0M1072.4 267.8h0M1067.2 346.4h0M1048.6 296.4h0M1112.6 323.0h0M1093.2 292.6h0M1072.5 273.5h0M1138.9 335.0h0M1167.7 245.3h0M1123.9 341.4h0M1058.5 295.9h0M1212.9 309.2h0M1006.5 297.8h0M1165.5 290.2h0M1074.5 264.3h0M1069.6 294.4h0M1177.3 239.8h0M1125.4 299.4h0M1233.7 308.3h0M1189.2 353.4h0M1009.7 312.0h0M1091.3 313.1h0M1154.6 322.8h0M1000.4 271.6h0M1099.7 266.2h0M1251.5 363.1h0M1037.7 331.4h0M1009.8 223.1h0M1048.0 295.7h0M1059.1 298.3h0M1047.3 312.8h0M1076.7 255.7h0M1174.2 329.9h0M1094.3 284.0h0M1110.0 254.6h0M1007.8 250.2h0M994.9 240.2h0M1220.0 270.7h0M1059.7 287.8h0M1218.1 325.3h0M1057.4 256.8h0M1121.7 285.3h0M1126.9 312.0h0M1002.6 258.1h0M996.9 271.1h0M1078.6 262.4h0M1012.4 236.0h0M1049.4 277.7h0M1028.5 317.8h0M1052.8 286.6h0M1081.5 228.6h0M1052.5 292.7h0M1057.4 333.5h0M1087.7 240.8h0M1132.2 284.0h0M986.5 284.9h0M1260.1 288.1h0M1076.4 321.6h0M1206.7 370.2h0M963.7 245.5h0M992.3 268.1h0M1005.2 292.6h0M1202.4 331.7h0M1072.6 319.6h0M1178.4 312.0h0M1135.1 306.2h0M1002.0 237.5h0M1062.6 297.4h0M1056.6 324.2h0M1080.9 333.5h0M1150.7 318.9h0M1000.8 234.0h0M1208.2 343.0h0M1085.8 256.2h0M1063.4 321.4h0M1135.9 267.2h0M1045.4 288.7h0M1139.7 277.4h0M1073.4 264.2h0M1086.1 298.9h0M1027.0 259.5h0M1030.1 303.9h0M1183.4 317.9h0M1107.1 256.8h0M1074.7 261.7h0M1156.6 307.2h0M1202.2 357.0h0M1020.1 234.7h0M1261.4 383.0h0M971.4 266.5h0M1115.7 285.8h0M1042.8 314.1h0M1040.4 225.5h0M1089.5 251.8h0M1113.4 318.9h0M1077.6 305.9h0M1140.1 356.9h0M1219.6 373.5h0M1022.4 254.3h0M1037.4 253.7h0M1114.6 285.7h0M1072.3 276.0h0M1053.3 297.5h0M1091.6 278.1h0M1135.7 361.1h0M1200.8 316.9h0M1214.9 260.8h0M1169.8 261.2h0M1059.6 296.6h0M1191.3 329.1h0M1139.1 254.0h0M1023.7 314.1h0M1221.2 335.5h0M1039.4 266.8h0M1132.0 258.5h0M1135.1 336.9h0M1200.6 292.0h0M1128.1 314.3h0M1241.0 302.2h0M993.1 258.7h0M984.6 260.0h0M1028.4 237.4h0M1106.9 271.2h0M1075.0 323.1h0M1000.4 252.0h0M1029.8 312.3h0M1107.8 323.5h0M1070.7 328.8h0M1153.4 361.3h0M1083.8 312.4h0M1189.1 354.1h0M1152.1 289.1h0M1089.5 262.1h0M1061.9 289.9h0M1032.4 306.6h0M1048.6 251.3h0M1061.3 346.3h0M1062.5 257.6h0M1024.7 248.5h0M1085.1 254.7h0M1008.5 268.3h0M1185.9 364.7h0M1101.4 312.2h0M1004.0 243.4h0M1055.8 305.2h0M1041.1 297.2h0M1019.4 308.8h0M1086.6 330.1h0M1025.7 243.0h0M1018.4 252.4h0M1137.1 349.9h0M1076.2 323.5h0M1129.5 324.6h0M1084.4 269.5h0M1091.5 332.1h0M1052.4 284.2h0M1075.5 329.3h0M1086.7 274.5h0M1058.8 250.9h0M1171.9 358.5h0M1039.2 298.7h0M1033.8 247.0h0M1059.1 294.0h0M1159.5 332.3h0M1178.7 293.9h0M1104.6 287.9h0M1062.4 244.7h0M1123.9 272.1h0M1172.0 335.8h0M1038.5 277.6h0M1128.4 305.4h0M1139.0 357.9h0M1068.3 316.9h0M1016.7 236.1h0M1114.1 356.4h0M1031.6 240.2h0M1063.9 272.8h0M1100.1 298.4h0M1226.5 297.8h0M1017.1 251.2h0M997.7 222.3h0M1098.9 307.4h0M1216.0 327.3h0M988.2 259.3h0M1122.3 231.3h0M979.8 222.6h0M1101.6 327.1h0M1010.4 272.5h0M1126.3 328.7h0M1062.5 281.5h0M1125.2 294.0h0M1041.7 333.2h0M998.1 227.6h0M1025.4 255.3h0M1044.9 298.6h0M1021.5 271.8h0M1029.1 285.5h0M1100.1 291.5h0M1077.8 251.7h0M1171.6 372.3h0M1090.2 243.9h0M1099.1 306.3h0M1139.1 249.0h0M1180.7 298.2h0M1109.0 251.5h0M984.3 234.8h0M1082.2 250.0h0M982.3 247.9h0M1113.6 328.2h0M994.9 236.3h0M1099.1 267.5h0M1018.0 271.6h0M1181.4 272.8h0M1003.8 296.0h0M1126.4 310.6h0M1137.5 251.8h0M1045.1 304.2h0M1110.8 244.9h0M1056.2 240.5h0M1041.8 249.8h0M1042.0 262.5h0M972.8 238.4h0M1129.7 335.6h0M997.1 271.1h0M1028.8 247.1h0M1001.7 254.4h0M1165.2 239.3h0M1096.9 303.8h0M1083.9 299.6h0M1108.7 285.8h0M1166.4 296.8h0M1118.0 296.6h0M1093.5 319.9h0M1052.9 229.4h0M1094.2 314.5h0M1244.8 290.5h0M1105.7 305.2h0M1085.9 330.3h0M1193.0 260.4h0M991.3 277.4h0M994.3 242.6h0M1160.8 324.5h0M1215.5 288.4h0M990.0 255.6h0M978.1 259.4h0M967.1 248.2h0M1107.3 300.9h0M1015.0 296.4h0M1103.8 320.8h0M1127.5 277.8h0M972.5 229.3h0M1186.4 314.4h0M1040.5 296.1h0M1102.2 268.8h0M1061.0 337.6h0M1058.9 291.4h0M1070.9 292.4h0M957.7 261.0h0M1076.0 280.0h0M1043.1 296.0h0M1061.8 307.8h0M1021.0 243.8h0M1057.2 239.7h0M1136.4 302.5h0M1241.5 280.2h0M1028.8 245.1h0M1185.2 266.7h0M1115.8 306.0h0M1005.7 252.1h0M971.9 245.3h0M1191.4 369.1h0M1036.7 271.5h0M1007.1 241.7h0M1125.5 322.2h0M1138.2 261.8h0M1195.5 265.0h0M1090.7 303.7h0M1052.6 231.0h0M1053.9 220.5h0M1030.4 255.2h0M1120.6 335.3h0M1215.6 259.6h0M1001.1 262.1h0M1067.6 295.0h0M1060.6 276.2h0M999.7 272.2h0M1111.3 256.8h0M1240.8 287.0h0M1045.5 235.7h0M1143.5 283.7h0M1197.6 346.0h0M1044.2 279.6h0M1205.0 281.7h0M1149.2 322.8h0M1123.1 308.7h0M1028.1 286.7h0M1045.6 238.0h0M1005.8 237.6h0M1195.8 315.9h0M1166.6 319.6h0M1001.6 245.2h0M1097.2 261.3h0M1032.3 246.4h0M1154.0 319.9h0M1106.4 278.5h0M1217.1 283.9h0M1143.6 276.7h0M1005.6 285.3h0M1064.8 307.4h0M1107.1 302.6h0M1202.1 308.6h0M1064.5 250.2h0M1026.7 249.0h0M1046.8 279.4h0M1039.6 272.1h0M1019.0 283.5h0M1059.1 269.3h0M1039.8 223.2h0M1092.9 277.4h0M1195.2 300.1h0M1221.8 332.2h0M1020.2 268.9h0M1105.6 255.9h0M1130.0 284.4h0M1018.6 272.8h0M1097.4 259.3h0M1029.4 255.6h0M1063.1 277.2h0M1055.0 268.2h0M1168.4 301.0h0M1036.7 282.5h0M1099.2 308.0h0M1109.2 294.1h0M1056.2 310.0h0M1209.5 365.3h0M1056.7 235.8h0M1055.5 286.2h0M1134.6 304.3h0M1088.1 292.9h0M1142.9 304.8h0M1018.7 264.2h0M1017.5 262.4h0M1145.9 337.2h0M1068.0 250.7h0M1181.9 340.0h0M1036.6 239.1h0M1038.0 332.8h0M1184.0 354.7h0M1062.6 247.4h0M1008.0 264.7h0M1033.8 291.7h0M1155.1 293.9h0M1043.2 307.5h0M1102.6 290.0h0M1174.5 329.5h0M1114.8 320.7h0M1150.4 286.7h0M1235.9 283.2h0M1050.0 304.2h0M1188.6 251.2h0M1101.6 313.6h0M1029.7 221.5h0M1013.6 265.4h0M1055.8 299.7h0M1015.0 285.7h0M1155.7 351.0h0M1102.9 244.4h0M987.4 253.2h0M1189.3 244.2h0M1111.5 303.0h0M1078.9 256.3h0M1015.8 274.7h0M1084.4 295.3h0M1204.3 254.7h0M1108.9 304.4h0M1082.2 246.1h0M1114.3 296.9h0M1101.4 319.2h0M1117.9 279.4h0M1029.2 287.6h0M1017.7 227.5h0M970.0 216.8h0M1173.7 309.3h0M956.7 220.6h0M1041.2 255.4h0M1109.1 304.9h0M1090.6 257.5h0M1198.0 323.9h0M1032.3 250.9h0M1009.1 288.8h0M1020.4 262.5h0M1090.2 274.2h0M1048.4 301.4h0M1081.4 300.5h0M1133.4 323.0h0M1054.5 254.0h0M1127.8 328.0h0M975.4 233.3h0M1100.5 237.5h0M1200.3 301.3h0M1211.7 379.1h0M1106.1 289.2h0M1240.9 276.4h0M1037.0 280.7h0M1049.7 240.1h0M1079.9 264.2h0M1092.5 274.4h0M1169.8 321.0h0M1079.8 303.1h0M988.9 258.5h0M1136.5 301.2h0M1034.3 254.2h0M1190.8 297.4h0M1032.0 279.1h0M1049.3 273.8h0M1014.9 251.4h0M1050.7 329.2h0M1112.7 323.7h0M1043.5 299.4h0M989.0 257.0h0M1109.4 304.6h0M1145.6 315.7h0M1007.8 285.5h0M1075.1 260.9h0M996.0 246.6h0M973.6 288.6h0M1065.2 280.5h0M1047.5 311.5h0M1188.2 246.9h0M970.9 255.2h0M1123.3 313.8h0M1145.3 302.5h0M1073.6 290.2h0M1090.8 290.5h0M1039.4 223.2h0M1040.5 265.4h0M990.7 228.6h0M1199.6 270.7h0M980.5 273.7h0M1014.9 242.3h0M1142.8 268.5h0M1081.9 315.6h0M1093.2 260.2h0M1049.1 262.2h0M1020.6 281.4h0M1163.6 287.3h0M1011.6 268.5h0M1049.4 269.3h0M1150.2 271.6h0M1049.8 239.1h0M1220.2 293.6h0M1023.9 229.2h0M1096.5 237.9h0M1098.7 334.7h0M1090.8 305.3h0M1156.5 344.5h0M988.1 247.9h0M1100.4 239.8h0M1160.9 283.4h0M989.9 280.7h0M1100.5 301.8h0M1078.4 249.2h0M1071.1 300.6h0M1098.7 294.2h0M1118.1 286.2h0M1137.4 372.3h0M1196.7 283.8h0M1125.7 287.2h0M1264.5 293.3h0M1127.7 337.0h0M1043.9 298.3h0M1017.3 281.6h0M996.8 247.6h0M1043.7 271.4h0M1010.4 257.1h0M1132.3 234.8h0M1133.9 253.3h0M1115.2 322.6h0M1066.8 303.3h0M1083.2 226.4h0M1041.9 283.1h0M1204.9 261.3h0M972.8 258.2h0M1054.4 286.1h0M1106.3 290.3h0M1025.1 293.2h0M1181.0 350.2h0M1086.6 301.0h0M1064.4 251.8h0M994.2 266.2h0M1046.4 281.2h0M1110.1 311.4h0M1046.4 318.5h0M987.8 268.6h0M1107.8 273.6h0M1051.0 321.6h0M1178.4 288.1h0M1134.4 255.5h0M1142.1 337.4h0M1193.7 305.7h0M1166.9 353.2h0M1056.1 261.1h0M1105.5 289.8h0M1041.8 266.1h0M1029.7 226.3h0M1030.7 254.3h0M1008.3 220.4h0M1037.7 251.5h0M1034.7 308.0h0M1129.6 291.4h0M1040.3 256.9h0M988.3 291.0h0M1074.6 237.9h0M1029.6 266.4h0M1133.8 288.6h0M1034.1 298.3h0M1102.8 289.5h0M1024.0 257.3h0M1086.9 298.5h0M1185.4 309.6h0M1050.9 231.8h0M1096.4 329.6h0M1078.0 317.6h0M996.6 278.4h0M976.1 230.3h0M1177.1 347.2h0M1058.3 269.2h0M1133.0 338.2h0M1072.8 264.4h0M1175.7 350.9h0M1028.3 247.6h0M1087.3 320.7h0M1101.0 270.9h0M1162.0 282.7h0M980.9 290.8h0M1062.8 318.1h0M1085.5 327.4h0M1109.9 349.1h0M1015.9 285.1h0M1099.9 325.5h0M1134.9 357.3h0M1145.1 301.9h0M1034.7 253.4h0M1078.4 330.1h0M1049.8 294.0h0M1067.8 281.4h0M1062.9 288.0h0M1217.0 343.6h0M970.8 220.8h0M1218.3 283.3h0M982.7 229.6h0M999.0 261.9h0M1030.7 281.7h0M1047.5 279.1h0M1182.2 266.2h0M1176.7 342.9h0M1211.8 300.5h0M1068.2 280.4h0M972.8 262.8h0M1118.4 306.3h0M1197.1 375.8h0M1007.4 275.7h0M1172.4 388.9h0M953.0 227.1h0M1144.9 267.7h0M1089.3 243.6h0M1200.6 275.5h0M1188.1 277.7h0M988.3 276.5h0M1090.3 273.5h0M1038.4 289.0h0M1078.1 325.7h0M995.3 286.8h0M1062.4 266.0h0M1071.9 247.3h0M958.0 274.6h0M1085.4 226.3h0M1195.3 257.3h0M993.5 264.4h0M1216.8 334.7h0M1088.4 290.7h0M1031.7 239.3h0M1230.5 332.1h0M1085.1 325.7h0M1077.6 273.2h0M1065.6 276.7h0M1190.4 268.9h0M1013.1 253.4h0M1031.7 245.6h0M1046.8 259.4h0M994.1 233.4h0M1177.6 306.7h0M1088.3 317.2h0M1112.8 304.4h0M1191.9 317.2h0M1089.6 244.4h0M1045.4 222.6h0M1097.3 276.0h0M1090.7 315.4h0M1050.0 300.1h0M1036.2 277.5h0M1061.8 234.0h0M1145.7 293.6h0M1021.6 267.7h0M1257.0 346.5h0M1036.9 244.0h0M1044.6 265.3h0M1011.3 263.3h0M1068.6 278.9h0M1064.6 224.6h0M1131.9 308.6h0M1195.9 249.0h0M1039.5 233.4h0M1166.7 308.6h0M1051.9 248.2h0M1071.6 287.5h0M1012.7 287.0h0M1194.6 325.1h0M1064.9 311.8h0M1136.7 284.7h0M979.4 246.7h0M1135.8 282.3h0M1035.1 245.2h0M1080.6 275.2h0M1129.9 369.3h0M1022.8 261.5h0M1096.4 321.8h0M1174.9 307.9h0M1021.1 224.5h0M1083.9 346.3h0M1025.9 261.9h0M1016.4 266.3h0M1088.6 354.6h0M1081.7 263.8h0M1122.7 298.3h0M1182.2 332.9h0M1138.2 331.7h0M1057.5 292.0h0M1087.8 351.0h0M1129.9 336.7h0M1175.9 326.4h0M1132.2 317.1h0M1091.2 291.9h0M1014.0 294.1h0M1185.8 292.4h0M1046.4 290.8h0M1071.2 329.6h0M1191.6 346.1h0M1031.0 281.6h0M1202.9 282.5h0M1035.7 256.2h0M1001.8 267.4h0M1093.5 289.1h0M1162.5 301.5h0M1070.7 304.1h0M1177.2 294.1h0M1069.5 258.1h0M1168.4 348.1h0M1008.8 255.2h0M1046.8 270.1h0M1011.2 275.7h0M1146.9 284.9h0M1084.3 251.3h0M1125.5 258.6h0M1037.6 278.1h0M1145.6 299.1h0M1251.5 359.9h0M999.4 250.1h0M1054.0 248.6h0M1186.2 307.7h0M1180.1 287.1h0M1187.1 307.0h0M1035.1 247.5h0M1104.2 247.2h0M1001.5 263.8h0M1076.5 278.0h0M1107.1 296.3h0M1041.7 286.4h0M1074.7 284.9h0M1063.5 318.8h0M1001.1 235.8h0M996.1 218.7h0M1158.4 346.7h0M956.0 256.2h0M1243.7 319.2h0M1196.3 242.9h0M1244.9 358.9h0M1159.7 276.6h0M954.9 228.7h0M1009.6 265.6h0M1054.0 306.5h0M1025.3 254.5h0M993.4 266.8h0M1204.2 275.0h0M1201.4 267.7h0M1154.4 361.8h0M1040.6 289.2h0M1180.3 325.2h0M1169.7 357.2h0M1055.0 314.9h0M1012.5 259.7h0M1014.5 269.4h0M1072.0 339.8h0M1173.7 332.7h0M998.6 241.3h0M1076.2 326.1h0M1061.2 310.9h0M1194.5 252.8h0M1018.7 225.2h0M1125.5 360.7h0M1054.9 322.5h0M1123.3 285.9h0M1170.6 357.7h0M1171.4 321.2h0M1178.1 330.0h0M1048.7 257.9h0M1045.3 314.2h0M1011.3 231.8h0M1041.1 278.3h0M1010.4 311.9h0M1159.2 290.0h0M988.6 231.7h0M1027.6 275.9h0M1161.0 322.5h0M1154.8 291.4h0M1233.4 270.2h0M1067.0 276.8h0M987.7 236.2h0M1166.3 312.4h0M1047.4 287.9h0M1156.1 344.2h0M975.2 238.2h0M983.4 257.2h0M1112.0 304.8h0M1132.5 267.9h0M1103.9 275.7h0M1097.5 260.1h0M1111.8 353.1h0M1013.3 246.1h0M994.5 270.9h0M1060.2 306.7h0M1100.8 322.6h0M1039.8 234.4h0M1024.7 241.9h0M1079.6 310.4h0M1072.2 322.3h0M1043.8 273.9h0M1208.5 334.1h0M1215.9 252.0h0M988.4 292.0h0M1086.5 351.6h0M1037.5 280.1h0M1057.5 278.6h0M980.4 243.9h0M999.7 235.0h0M982.9 258.1h0M1012.0 278.3h0M1124.0 365.2h0M999.2 249.4h0M1192.1 281.1h0M1164.7 320.4h0M1043.9 236.5h0M1134.4 302.2h0M1220.5 257.9h0M1009.7 251.3h0M1103.5 331.0h0M1083.5 308.9h0M1052.3 327.3h0M1047.7 331.8h0M1001.6 249.8h0M1123.4 267.7h0M1028.9 270.6h0M1074.8 292.4h0M1208.9 359.4h0M1059.9 246.9h0M1053.5 264.9h0M1210.9 339.6h0M1108.7 269.9h0M1105.8 273.6h0M1034.2 329.4h0M1122.0 272.0h0M1066.1 277.1h0M1100.0 305.8h0M1069.8 297.0h0M1000.0 289.8h0M1189.1 339.5h0M1134.4 269.3h0M1223.9 364.3h0M1051.5 300.4h0M1046.4 333.4h0M1014.5 231.5h0M1051.4 262.0h0M1055.3 271.0h0M1025.8 280.5h0M1043.0 286.7h0M1049.0 256.1h0M1182.2 340.8h0M1079.6 243.3h0M1169.9 330.4h0M989.5 276.3h0M1026.9 228.2h0M1220.9 322.6h0M989.7 236.4h0M996.4 266.9h0M1094.5 270.7h0M1048.1 319.4h0M1028.1 235.2h0M1114.4 353.4h0M1114.5 364.9h0M1026.8 258.6h0M1099.0 276.4h0M1081.3 282.5h0M1178.4 359.8h0M996.0 229.7h0M1036.5 317.8h0M1104.6 310.1h0M982.8 270.3h0M1178.1 327.2h0M1229.9 284.0h0M1055.9 299.3h0M1156.6 286.8h0M1039.8 250.9h0M1218.5 383.6h0M1032.0 306.3h0M961.6 249.6h0M996.0 271.8h0M1082.1 275.7h0M985.0 303.0h0M1238.6 289.2h0M1119.7 271.2h0M1105.5 299.8h0M1118.5 349.0h0M1073.9 283.8h0M1192.0 335.3h0M1139.8 283.4h0M1076.3 287.7h0M1047.0 251.9h0M1016.6 277.0h0M1053.3 230.3h0M1060.9 313.9h0M999.8 242.6h0M1207.6 375.0h0M1041.6 250.1h0M1099.2 335.0h0M995.3 251.9h0M1101.8 325.2h0M1123.2 316.1h0M999.6 251.6h0M1234.9 321.4h0M1021.1 277.4h0M1042.6 273.6h0M1146.0 343.6h0M1057.6 248.3h0M1188.8 281.9h0M1037.6 233.5h0M1053.0 219.0h0M1134.6 338.7h0M1182.9 271.8h0M1191.3 269.8h0M1047.8 275.7h0M1097.2 282.3h0M1072.4 303.2h0M1130.5 235.3h0M1035.3 327.3h0M1176.0 333.0h0M1139.9 294.0h0M1023.8 249.3h0M1053.0 224.1h0M1057.5 337.2h0M1209.8 314.6h0M1081.6 256.5h0M1116.2 345.5h0M1210.1 317.9h0M1069.6 218.7h0M1217.5 265.5h0M1048.6 258.5h0M970.2 246.4h0M1006.1 248.3h0M1134.6 315.0h0M1066.5 284.0h0M1174.2 320.2h0M1097.7 325.6h0M1132.9 293.8h0M1060.8 290.5h0M1109.6 306.3h0M1136.0 307.1h0M1065.6 255.5h0M1088.7 280.0h0M1177.5 359.2h0M1209.4 321.4h0M1060.3 264.1h0M995.6 268.0h0M1177.0 267.5h0M1079.7 258.9h0M1230.6 355.9h0M1153.2 295.7h0M1063.9 228.7h0M1179.7 314.8h0M1100.9 260.1h0M1140.0 330.5h0M1191.7 370.8h0M1108.0 274.5h0M1218.1 307.3h0M1069.9 265.4h0M1066.0 282.5h0M1121.8 287.3h0M1071.2 300.7h0M1138.4 286.6h0M1097.3 261.4h0M1147.6 309.1h0M1171.7 279.7h0M1105.1 357.3h0M1203.1 346.3h0M1158.4 252.8h0M1181.9 244.3h0M975.3 238.4h0M972.4 246.7h0M1120.5 345.6h0M1056.9 266.7h0M1187.4 283.4h0M1068.6 332.7h0M1148.0 285.5h0M1039.2 257.1h0M1119.3 282.2h0M1197.6 359.0h0M1183.6 292.1h0M1063.6 331.1h0M1086.9 235.8h0M1098.2 286.5h0M1059.2 318.1h0M1087.3 240.9h0M1227.7 272.3h0M1189.9 339.4h0M1053.1 310.4h0M1132.5 291.0h0M1218.7 270.8h0M1062.7 247.1h0M1179.1 315.1h0M1163.1 310.6h0M1192.4 356.4h0M1001.0 247.7h0M1206.7 359.3h0M1239.2 355.0h0M1038.2 286.5h0M1120.1 343.9h0M1002.6 296.4h0M1113.0 323.8h0M1138.7 316.5h0M1148.5 306.9h0M1181.9 282.1h0M1048.9 249.5h0M1009.6 270.0h0M1169.0 326.0h0M979.0 245.9h0M1036.5 245.8h0M1037.3 250.0h0M1156.7 328.8h0M1078.7 252.6h0M1175.6 301.8h0M1128.5 288.8h0M1177.2 332.6h0M1159.8 348.4h0M1190.0 327.1h0M1045.3 282.0h0M1061.4 301.1h0M1119.0 351.9h0M1108.6 306.1h0M1157.4 286.5h0M1166.5 329.9h0M1051.2 276.1h0M1010.9 267.8h0M1147.3 311.4h0M1133.3 349.0h0M1045.5 330.5h0M992.2 241.5h0M977.5 268.2h0M1039.6 257.3h0M1044.8 288.1h0M1031.0 250.3h0M989.8 261.5h0M1022.8 312.4h0M1060.3 282.7h0M1003.2 267.8h0M1030.8 249.2h0M1077.9 300.7h0M1178.9 327.9h0M1186.9 280.2h0M947.7 92.1h0M958.4 104.6h0M937.4 118.5h0M923.1 130.3h0M930.6 131.8h0M940.2 136.5h0M967.6 138.4h0M927.8 147.0h0M888.8 153.9h0M885.1 171.0h0M912.3 166.1h0M919.9 164.1h0M953.1 160.7h0M941.3 173.1h0M949.4 176.8h0M907.0 186.4h0M914.9 184.7h0M910.9 194.6h0M933.8 190.7h0M938.1 196.1h0M945.1 187.5h0M961.0 195.4h0M947.7 207.4h0M840.6 184.7h0M865.2 201.8h0M901.0 201.4h0M873.8 216.8h0M893.1 226.1h0M901.6 226.1h0M911.3 233.1h0M918.8 235.7h0M925.2 231.4h0M902.7 242.1h0M900.6 245.3h0M938.1 242.6h0M940.2 253.9h0M882.8 250.1h0M862.4 253.9h0M899.5 256.7h0M930.6 278.1h0M899.9 295.1h0M917.3 295.1h0M1004.5 164.1h0M1015.8 177.8h0M1037.7 152.1h0M1034.5 158.6h0M1033.0 169.3h0M1030.2 178.9h0M1037.7 180.0h0M1046.3 184.3h0M1051.6 187.5h0M1055.5 196.1h0M1038.8 201.4h0M1042.0 207.8h0M1066.6 155.4h0M1075.2 153.2h0M1068.8 168.8h0M1073.1 188.1h0M1085.9 184.9h0M985.2 185.4h0M994.2 184.9h0M967.0 182.1h0M968.1 186.4h0M977.7 194.6h0M973.4 205.7h0M988.4 201.4h0M1001.3 197.1h0M983.1 216.0h0M976.6 225.0h0M982.0 231.4h0M983.1 235.7h0M955.2 226.1h0M962.7 232.5h0M949.8 248.6h0M952.0 253.9h0M956.3 261.4h0M967.0 258.2h0M959.5 276.0h0M950.9 283.9h0M953.1 296.8h0M949.8 309.6h0M961.6 297.8h0M979.4 276.4h0M987.3 285.0h0M969.1 282.8h0M976.6 289.3h0M968.1 330.0h0M981.6 329.6h0M993.3 320.3h0M998.1 327.8h0M994.4 334.3h0M1003.0 346.7h0M1017.3 341.8h0M1029.1 340.7h0M1022.7 351.4h0M1043.1 359.5h0M1048.4 348.2h0M1063.4 335.3h0M1080.6 353.6h0M1081.6 360.0h0M1090.2 363.2h0M1100.9 375.0h0M1103.6 204.0h0M1147.5 204.6h0M1147.5 220.7h0M1129.3 221.8h0M1137.9 219.0h0M1110.0 217.5h0M1116.4 220.3h0M1154.6 232.5h0M1156.1 236.8h0M1200.0 225.0h0M1206.0 219.6h0M1246.1 216.4h0M1247.6 222.8h0M1310.3 209.6h0M1354.7 213.2h0M1182.9 246.4h0M1191.0 242.1h0M1198.3 253.3h0M1172.6 255.0h0M1225.3 258.2h0M1242.4 259.3h0M1252.5 261.4h0M1253.6 266.8h0M1257.8 272.1h0M1297.1 259.9h0M1308.8 256.7h0M1224.0 276.4h0M1260.0 280.7h0M1266.4 278.6h0M1274.6 275.3h0M1287.9 271.1h0M1293.2 274.3h0M1302.4 278.6h0M1318.9 279.6h0M1233.9 287.6h0M1246.1 290.3h0M1266.8 296.8h0M1289.6 294.2h0M1306.1 292.5h0M1285.7 304.3h0M1296.4 306.0h0M1306.1 304.3h0M1255.7 313.9h0M1272.8 313.9h0M1281.4 312.8h0M1276.1 323.1h0M1288.9 323.1h0M1301.1 322.5h0M1323.8 324.6h0M1353.8 323.1h0M1282.5 332.1h0M1288.9 334.3h0M1283.6 338.6h0M1314.0 339.6h0M1297.5 345.0h0M1312.5 351.4h0M1323.8 357.8h0M1337.1 357.8h0M1282.5 353.6h0M1262.6 331.7h0M1253.6 334.3h0M1247.1 337.5h0M1242.9 351.4h0M1245.0 357.8h0M1257.9 348.2h0M1256.8 355.7h0M1279.3 364.3h0M1272.8 371.8h0M1294.3 364.3h0M1292.1 371.8h0M1279.3 382.5h0M1293.2 397.5h0M1258.9 386.1h0M1228.9 373.9h0M1210.3 387.4h0M1201.1 370.1h0M1161.4 381.0h0M1127.1 376.1h0M1130.4 370.7h0M1102.5 376.1h0M1146.4 372.8h0M1171.1 373.9h0M1179.6 372.8h0M1181.8 366.4h0M1163.6 366.4h0M1219.3 364.3h0M1217.1 357.8h0M1200.0 357.8h0" stroke="#000" stroke-width="9.2" stroke-linecap="round" fill="none"/>
<path d="M840.6 149.9L844.9 153.1L849.2 156.3L853.5 159.4L857.9 162.6L862.2 165.8L866.5 169.0L870.8 172.2L875.1 175.4L879.4 178.7L883.8 181.9L888.1 185.2L892.4 188.5L896.7 191.9L901.0 195.4L905.3 199.0L909.7 202.5L914.0 206.0L918.3 209.4L922.6 212.7L926.9 215.9L931.2 218.8L935.6 221.6L939.9 224.1L944.2 226.5L948.5 228.8L952.8 231.1L957.1 233.3L961.4 235.4L965.8 237.5L970.1 239.6L974.4 241.7L978.7 243.8L983.0 245.9L987.3 248.0L991.7 250.1L996.0 252.2L1000.3 254.3L1004.6 256.3L1008.9 258.3L1013.2 260.1L1017.6 262.0L1021.9 263.7L1026.2 265.4L1030.5 267.1L1034.8 268.7L1039.1 270.3L1043.5 271.8L1047.8 273.3L1052.1 274.8L1056.4 276.2L1060.7 277.6L1065.0 279.0L1069.3 280.3L1073.7 281.6L1078.0 282.8L1082.3 284.1L1086.6 285.3L1090.9 286.6L1095.2 288.0L1099.6 289.4L1103.9 290.8L1108.2 292.3L1112.5 293.7L1116.8 295.2L1121.1 296.7L1125.5 298.1L1129.8 299.4L1134.1 300.7L1138.4 301.9L1142.7 303.0L1147.0 304.1L1151.3 305.0L1155.7 305.9L1160.0 306.7L1164.3 307.4L1168.6 308.1L1172.9 308.8L1177.2 309.4L1181.6 309.9L1185.9 310.5L1190.2 311.0L1194.5 311.4L1198.8 311.8L1203.1 312.2L1207.5 312.5L1211.8 312.8L1216.1 313.0L1220.4 313.1L1224.7 313.2L1229.0 313.2L1233.4 313.1L1237.7 312.9L1242.0 312.7L1246.3 312.4L1250.6 312.1L1254.9 311.7L1259.2 311.3L1263.6 310.8L1267.9 310.3L1272.2 309.6L1276.5 308.8L1280.8 307.9L1285.1 306.9L1289.5 305.8L1293.8 304.6L1298.1 303.5L1302.4 302.2L1306.7 301.0L1311.0 299.8L1315.4 298.5L1319.7 297.2L1324.0 295.9L1328.3 294.5L1332.6 293.1L1336.9 291.6L1341.3 290.1L1345.6 288.6L1349.9 287.1L1354.2 285.5L1354.2 329.6L1349.9 329.1L1345.6 328.6L1341.3 328.2L1336.9 327.8L1332.6 327.4L1328.3 327.0L1324.0 326.6L1319.7 326.2L1315.4 325.8L1311.0 325.4L1306.7 325.1L1302.4 324.7L1298.1 324.2L1293.8 323.7L1289.5 323.3L1285.1 322.8L1280.8 322.5L1276.5 322.1L1272.2 321.9L1267.9 321.8L1263.6 321.8L1259.2 321.8L1254.9 321.8L1250.6 321.8L1246.3 321.8L1242.0 321.7L1237.7 321.6L1233.4 321.5L1229.0 321.4L1224.7 321.1L1220.4 320.9L1216.1 320.5L1211.8 320.1L1207.5 319.6L1203.1 319.1L1198.8 318.5L1194.5 317.9L1190.2 317.3L1185.9 316.6L1181.6 315.9L1177.2 315.2L1172.9 314.5L1168.6 313.8L1164.3 313.0L1160.0 312.1L1155.7 311.3L1151.3 310.3L1147.0 309.3L1142.7 308.2L1138.4 307.0L1134.1 305.7L1129.8 304.4L1125.5 303.0L1121.1 301.5L1116.8 300.0L1112.5 298.5L1108.2 297.0L1103.9 295.5L1099.6 294.1L1095.2 292.7L1090.9 291.4L1086.6 290.1L1082.3 288.8L1078.0 287.6L1073.7 286.3L1069.3 285.0L1065.0 283.7L1060.7 282.4L1056.4 281.0L1052.1 279.5L1047.8 278.1L1043.5 276.6L1039.1 275.0L1034.8 273.4L1030.5 271.9L1026.2 270.2L1021.9 268.6L1017.6 266.9L1013.2 265.1L1008.9 263.3L1004.6 261.5L1000.3 259.5L996.0 257.6L991.7 255.6L987.3 253.6L983.0 251.7L978.7 249.7L974.4 247.9L970.1 246.1L965.8 244.4L961.4 242.9L957.1 241.3L952.8 239.8L948.5 238.3L944.2 236.8L939.9 235.3L935.6 233.7L931.2 232.1L926.9 230.6L922.6 229.3L918.3 227.9L914.0 226.7L909.7 225.4L905.3 224.2L901.0 223.0L896.7 221.8L892.4 220.6L888.1 219.3L883.8 218.1L879.4 216.8L875.1 215.5L870.8 214.3L866.5 213.1L862.2 211.8L857.9 210.6L853.5 209.4L849.2 208.2L844.9 207.0L840.6 205.8Z" fill="#999" fill-opacity="0.4"/>
<path d="M840.6 177.9L844.9 180.1L849.2 182.2L853.5 184.4L857.9 186.6L862.2 188.8L866.5 191.0L870.8 193.2L875.1 195.5L879.4 197.7L883.8 200.0L888.1 202.3L892.4 204.6L896.7 206.9L901.0 209.2L905.3 211.6L909.7 214.0L914.0 216.3L918.3 218.7L922.6 221.0L926.9 223.2L931.2 225.5L935.6 227.6L939.9 229.7L944.2 231.7L948.5 233.6L952.8 235.5L957.1 237.3L961.4 239.1L965.8 241.0L970.1 242.9L974.4 244.8L978.7 246.8L983.0 248.8L987.3 250.8L991.7 252.9L996.0 254.9L1000.3 256.9L1004.6 258.9L1008.9 260.8L1013.2 262.6L1017.6 264.4L1021.9 266.1L1026.2 267.8L1030.5 269.5L1034.8 271.1L1039.1 272.6L1043.5 274.2L1047.8 275.7L1052.1 277.2L1056.4 278.6L1060.7 280.0L1065.0 281.3L1069.3 282.7L1073.7 283.9L1078.0 285.2L1082.3 286.5L1086.6 287.7L1090.9 289.0L1095.2 290.3L1099.6 291.7L1103.9 293.2L1108.2 294.6L1112.5 296.1L1116.8 297.6L1121.1 299.1L1125.5 300.5L1129.8 301.9L1134.1 303.2L1138.4 304.5L1142.7 305.6L1147.0 306.7L1151.3 307.7L1155.7 308.6L1160.0 309.4L1164.3 310.2L1168.6 310.9L1172.9 311.6L1177.2 312.3L1181.6 312.9L1185.9 313.5L1190.2 314.1L1194.5 314.7L1198.8 315.2L1203.1 315.7L1207.5 316.1L1211.8 316.4L1216.1 316.7L1220.4 317.0L1224.7 317.2L1229.0 317.3L1233.4 317.3L1237.7 317.3L1242.0 317.2L1246.3 317.1L1250.6 316.9L1254.9 316.7L1259.2 316.5L1263.6 316.3L1267.9 316.0L1272.2 315.8L1276.5 315.5L1280.8 315.2L1285.1 314.9L1289.5 314.5L1293.8 314.2L1298.1 313.8L1302.4 313.4L1306.7 313.0L1311.0 312.6L1315.4 312.2L1319.7 311.7L1324.0 311.2L1328.3 310.7L1332.6 310.2L1336.9 309.7L1341.3 309.2L1345.6 308.6L1349.9 308.1L1354.2 307.6" stroke="#3A60DA" stroke-width="2.5" fill="none"/>
<path d="M918.6 453.4v9.5M1068.6 453.4v9.5M1218.6 453.4v9.5M1368.6 453.4v9.5M793.1 392.3h9M793.1 307.6h9M793.1 222.8h9M793.1 138.1h9M793.1 53.3h9" stroke="#7F7F7F" stroke-width="2.2" fill="none"/>
<text x="918.6" y="484.3" text-anchor="middle" class="tk">0.0</text>
<text x="1068.6" y="484.3" text-anchor="middle" class="tk">2.5</text>
<text x="1218.6" y="484.3" text-anchor="middle" class="tk">5.0</text>
<text x="1368.6" y="484.3" text-anchor="middle" class="tk">7.5</text>
<text x="786.5" y="400.2" text-anchor="end" class="tk">500</text>
<text x="786.5" y="315.4" text-anchor="end" class="tk">600</text>
<text x="786.5" y="230.7" text-anchor="end" class="tk">700</text>
<text x="786.5" y="146.0" text-anchor="end" class="tk">800</text>
<text x="786.5" y="61.2" text-anchor="end" class="tk">900</text>
<text transform="translate(1098.5,26.7) scale(1.0,1.02)" text-anchor="middle" class="tt">ELP RTs</text>
<text transform="translate(1098.5,510.2) scale(1,1.04)" text-anchor="middle" class="at">LN Freq of Occurrences per Million</text>
<text transform="translate(745.1,244.2) rotate(-90) scale(1.06,1.04)" text-anchor="middle" class="at">RTs</text>
<rect x="83.3" y="604.1" width="592.7" height="418.4" fill="#E1E1E1"/>
<path d="M183.4 604.1V1022.5M330.4 604.1V1022.5M477.4 604.1V1022.5M624.4 604.1V1022.5M83.3 1003.5H676.0M83.3 876.5H676.0M83.3 749.5H676.0M83.3 622.4H676.0" stroke="#F0F0F0" stroke-width="1.5" fill="none"/>
<path d="M109.9 604.1V1022.5M256.9 604.1V1022.5M403.9 604.1V1022.5M550.9 604.1V1022.5M83.3 940.0H676.0M83.3 813.0H676.0M83.3 685.9H676.0" stroke="#fff" stroke-width="3" fill="none"/>
<path d="M354.6 866.1h0M443.7 926.1h0M316.6 841.3h0M456.1 926.9h0M318.6 844.9h0M375.3 897.1h0M341.1 863.6h0M292.8 829.9h0M487.9 944.2h0M353.2 877.2h0M449.7 923.7h0M490.5 945.5h0M338.6 855.4h0M229.8 792.7h0M396.5 892.1h0M325.9 850.8h0M484.5 942.8h0M305.1 850.9h0M442.2 936.6h0M247.4 800.4h0M335.5 864.0h0M314.8 851.7h0M477.5 938.9h0M413.2 902.4h0M427.3 924.0h0M275.3 832.4h0M345.3 878.8h0M490.9 946.0h0M416.4 904.8h0M451.3 928.4h0M391.2 888.6h0M317.3 841.8h0M498.8 949.7h0M333.6 852.4h0M306.7 839.8h0M424.8 909.4h0M277.0 831.0h0M453.0 926.3h0M439.9 917.8h0M363.5 872.2h0M394.3 906.4h0M387.8 888.8h0M272.0 820.3h0M274.2 816.2h0M356.1 867.5h0M231.0 791.5h0M311.4 859.5h0M359.3 880.1h0M419.7 909.9h0M394.4 898.0h0M307.8 838.0h0M451.7 924.6h0M460.9 937.4h0M428.0 911.3h0M434.1 914.2h0M330.8 850.1h0M473.3 943.8h0M410.0 899.7h0M309.0 845.1h0M433.2 921.1h0M419.7 905.6h0M406.3 898.1h0M384.2 883.7h0M453.6 928.3h0M444.4 923.8h0M410.9 907.2h0M268.7 819.0h0M324.9 846.2h0M533.3 965.9h0M368.1 873.8h0M421.0 917.7h0M294.2 834.9h0M406.9 897.9h0M415.4 904.6h0M452.4 925.2h0M525.7 962.9h0M380.7 882.2h0M346.3 876.4h0M303.5 833.8h0M351.7 894.4h0M377.8 901.4h0M522.6 966.0h0M393.4 889.8h0M431.0 925.1h0M445.2 921.4h0M238.4 794.6h0M325.2 847.3h0M399.9 894.2h0M264.2 810.9h0M300.6 831.8h0M450.0 924.4h0M430.7 913.5h0M296.6 846.1h0M289.3 829.3h0M474.8 938.9h0M384.5 884.4h0M347.2 860.9h0M441.7 926.5h0M429.5 912.0h0M554.9 975.7h0M283.9 830.0h0M454.0 926.0h0M381.7 882.5h0M329.4 852.7h0M390.4 888.4h0M243.9 797.6h0M291.7 843.8h0M285.9 822.2h0M435.1 915.5h0M439.0 917.5h0M328.2 848.7h0M344.9 863.3h0M455.1 926.4h0M364.6 871.4h0M355.2 883.4h0M512.3 962.3h0M400.9 902.9h0M399.5 896.5h0M415.8 905.8h0M256.3 804.2h0M367.3 885.8h0M459.3 934.1h0M425.3 922.0h0M490.0 954.2h0M345.8 859.9h0M385.2 904.4h0M325.7 855.5h0M311.4 874.7h0M278.9 836.4h0M315.4 841.2h0M304.8 842.3h0M376.7 879.6h0M370.2 883.1h0M452.9 925.2h0M456.5 939.1h0M400.1 897.1h0M426.6 916.3h0M383.6 884.0h0M345.7 899.0h0M391.6 894.9h0M420.6 917.3h0M517.2 961.3h0M467.0 941.7h0M268.5 811.4h0M422.7 926.2h0M278.9 833.0h0M418.5 906.9h0M476.7 938.2h0M436.8 915.9h0M289.9 832.2h0M373.2 878.3h0M314.3 873.5h0M427.5 910.8h0M439.6 917.4h0M446.1 933.7h0M357.1 867.3h0M412.9 901.8h0M318.1 874.1h0M505.2 953.3h0M508.9 954.6h0M250.3 808.0h0M405.2 898.0h0M441.4 937.1h0M324.6 846.9h0M251.9 802.1h0M224.0 791.1h0M438.7 917.8h0M237.2 793.4h0M364.3 895.1h0M461.9 936.6h0M262.0 807.6h0M438.6 933.8h0M374.9 888.0h0M365.1 877.1h0M387.2 886.9h0M356.0 875.5h0M480.6 940.5h0M429.8 914.9h0M364.6 872.3h0M290.2 830.7h0M391.8 888.5h0M573.7 981.1h0M490.6 954.0h0M269.1 825.3h0M357.0 875.2h0M383.8 902.6h0M368.8 901.9h0M287.1 825.2h0M311.7 838.1h0M398.7 893.5h0M442.1 919.7h0M441.0 918.7h0M430.2 930.3h0M430.7 921.7h0M233.4 792.2h0M321.0 844.5h0M352.3 884.1h0M331.6 874.1h0M364.7 871.8h0M367.4 873.3h0M353.0 864.3h0M235.4 793.0h0M481.6 941.6h0M518.2 959.3h0M417.0 904.7h0M336.0 873.6h0M379.4 880.7h0M498.1 949.6h0M413.3 901.7h0M436.2 915.9h0M437.0 916.8h0M535.1 966.7h0M426.2 911.8h0M285.7 845.8h0M392.1 915.5h0M502.1 951.4h0M293.4 835.2h0M261.3 812.9h0M260.9 815.9h0M270.0 821.5h0M304.7 834.4h0M454.7 926.8h0M413.3 907.3h0M444.8 920.4h0M403.6 897.4h0M356.5 867.0h0M458.7 938.7h0M306.6 839.1h0M357.9 868.4h0M371.2 876.0h0M432.2 913.1h0M452.1 924.9h0M405.9 913.9h0M415.3 903.4h0M338.2 855.1h0M411.9 925.6h0M474.8 938.5h0M376.8 879.7h0M449.8 923.9h0M392.7 889.4h0M393.7 921.1h0M415.3 903.8h0M297.0 839.2h0M320.2 843.8h0M308.4 872.2h0M398.8 905.7h0M429.6 912.6h0M438.8 927.3h0M318.2 871.6h0M351.6 864.2h0M299.0 830.1h0M425.9 910.0h0M372.4 876.9h0M336.0 872.0h0M322.9 845.0h0M514.1 957.1h0M386.6 885.4h0M547.7 972.1h0M348.5 872.7h0M320.3 850.4h0M440.9 919.4h0M498.1 950.9h0M304.8 854.9h0M480.6 940.8h0M410.5 900.2h0M495.2 949.0h0M512.7 956.2h0M373.9 879.5h0M510.2 955.2h0M309.9 845.7h0M377.9 880.0h0M377.7 879.7h0M328.5 886.0h0M387.1 886.0h0M450.0 925.0h0M285.7 831.6h0M386.5 914.5h0M396.6 891.5h0M314.7 865.5h0M423.2 915.5h0M330.6 859.5h0M406.8 921.0h0M407.0 898.1h0M449.1 936.8h0M507.4 954.1h0M503.6 953.6h0M391.3 900.4h0M333.3 852.3h0M327.7 848.5h0M458.7 929.7h0M451.9 938.8h0M460.8 939.4h0M471.9 947.0h0M405.5 897.4h0M492.7 946.7h0M426.7 910.7h0M420.7 927.2h0M472.9 936.2h0M425.5 917.5h0M453.9 932.7h0M505.2 955.8h0M366.5 908.4h0M449.6 923.6h0M342.7 858.1h0M387.7 886.1h0M484.4 943.2h0M529.0 964.4h0M513.3 956.7h0M451.3 925.4h0M476.4 938.1h0M488.1 944.2h0M415.7 907.6h0M328.1 849.4h0M241.8 800.5h0M452.2 924.7h0M452.0 928.4h0M444.6 923.3h0M408.9 899.5h0M426.9 911.8h0M441.5 922.4h0M398.0 894.7h0M427.0 913.8h0M322.7 881.5h0M398.6 920.7h0M420.0 909.5h0M406.3 912.8h0M331.8 851.9h0M292.5 845.9h0M426.1 910.9h0M287.3 827.0h0M460.8 931.1h0M310.4 837.6h0M454.9 939.3h0M356.9 866.7h0M494.1 949.1h0M323.1 849.2h0M302.8 838.3h0M431.0 913.4h0M455.4 926.6h0M355.4 866.1h0M384.4 889.7h0M427.8 914.3h0M341.9 857.3h0M364.9 874.9h0M405.7 905.1h0M343.8 859.0h0M299.0 866.8h0M496.8 948.9h0M291.0 847.7h0M541.6 969.3h0M475.2 937.4h0M378.6 881.7h0M480.2 940.2h0M267.4 824.0h0M404.9 896.8h0M356.4 866.3h0M343.3 858.0h0M491.7 946.3h0M254.8 809.0h0M480.7 940.8h0M273.8 815.0h0M431.5 913.5h0M339.4 855.4h0M396.9 916.3h0M503.3 952.2h0M461.7 930.2h0M282.2 840.0h0M344.4 859.6h0M388.1 886.2h0M441.1 929.3h0M229.8 789.4h0M481.3 945.1h0M474.4 937.0h0M517.9 960.0h0M316.4 842.8h0M319.6 844.5h0M471.7 935.7h0M394.2 906.9h0M328.6 853.8h0M241.2 796.9h0M320.5 843.8h0M431.0 915.1h0M445.1 926.1h0M356.6 872.9h0M500.2 951.6h0M393.0 896.3h0M394.8 890.6h0M366.3 872.6h0M368.3 873.7h0M357.7 881.9h0M469.3 939.7h0M377.0 880.2h0M324.7 880.3h0M375.9 878.6h0M503.4 953.5h0M422.4 917.0h0M284.5 834.5h0M372.1 876.2h0M383.2 884.3h0M238.7 799.4h0M520.9 960.4h0M499.7 950.5h0M283.1 820.5h0M402.6 898.1h0M346.3 860.4h0M319.2 877.2h0M336.4 884.4h0M262.4 819.6h0M434.1 914.3h0M359.6 869.8h0M436.9 917.2h0M466.6 932.8h0M407.2 899.1h0M354.0 878.1h0M297.0 829.1h0M425.4 909.0h0M430.9 924.8h0M457.3 942.0h0M296.3 828.3h0M258.8 805.7h0M486.3 944.5h0M414.9 914.4h0M280.2 821.3h0M439.2 917.6h0M263.7 809.5h0M420.8 927.5h0M403.2 919.4h0M440.7 927.8h0M280.1 837.4h0M496.8 949.7h0M509.9 956.3h0M539.0 968.0h0M453.4 939.5h0M346.1 860.1h0M533.0 965.7h0M416.7 908.3h0M441.5 920.1h0M427.7 924.5h0M317.7 859.2h0M477.8 939.9h0M424.3 927.0h0M321.8 864.4h0M362.3 870.2h0M298.2 829.8h0M375.3 905.0h0M545.1 970.6h0M363.7 906.9h0M366.5 895.5h0M463.2 931.2h0M275.5 833.3h0M289.9 851.9h0M448.3 922.5h0M293.7 826.7h0M416.0 908.5h0M467.0 937.1h0M405.0 907.7h0M274.4 815.3h0M317.6 841.7h0M400.0 902.3h0M516.7 959.4h0M425.9 909.6h0M436.2 915.5h0M412.4 902.8h0M349.6 897.4h0M415.2 903.2h0M234.5 797.2h0M370.9 898.3h0M465.7 933.0h0M317.0 841.4h0M424.6 911.2h0M442.0 928.7h0M302.5 832.3h0M479.3 947.8h0M328.2 852.7h0M521.7 962.5h0M354.2 871.1h0M416.1 924.1h0M513.9 957.0h0M467.9 933.7h0M387.6 886.0h0M314.1 839.8h0M416.8 904.4h0M410.6 924.7h0M267.3 824.2h0M363.4 908.7h0M501.5 951.8h0M396.7 892.3h0M310.1 837.1h0M423.6 909.8h0M380.2 881.9h0M498.8 949.7h0M388.5 886.5h0M247.7 805.7h0M304.0 835.9h0M308.4 837.1h0M515.2 962.2h0M357.8 868.2h0M355.3 866.1h0M531.0 966.5h0M317.5 842.0h0M418.5 916.6h0M513.4 957.5h0M497.3 948.8h0M303.7 868.0h0M384.2 898.1h0M330.4 866.4h0M437.0 917.8h0M328.8 848.8h0M308.8 853.6h0M335.8 860.7h0M293.9 827.2h0M441.0 919.2h0M337.8 855.3h0M367.6 897.4h0M336.7 878.9h0M362.8 893.2h0M344.4 868.3h0M356.4 866.2h0M439.2 918.0h0M307.9 844.4h0M433.8 914.3h0M354.9 904.2h0M279.9 837.8h0M290.0 828.1h0M493.8 951.8h0M256.7 812.5h0M336.9 868.6h0M481.1 944.5h0M274.1 818.6h0M318.9 842.5h0M334.9 882.2h0M472.6 943.1h0M288.5 845.0h0M512.3 958.9h0M290.0 850.6h0M405.6 898.7h0M455.3 934.9h0M404.0 896.4h0M392.5 889.0h0M376.4 879.6h0M330.6 850.9h0M550.7 973.5h0M368.5 880.0h0M422.6 928.2h0M409.4 916.0h0M521.2 960.3h0M328.2 864.7h0M302.0 852.2h0M493.3 947.7h0M392.9 889.8h0M422.9 908.4h0M419.2 915.3h0M457.6 938.9h0M473.2 939.7h0M437.3 916.4h0M228.9 788.7h0M473.0 936.3h0M257.0 812.8h0M479.3 939.7h0M221.6 784.9h0M455.6 942.1h0M422.4 915.5h0M247.6 799.7h0M450.3 924.4h0M408.8 900.1h0M290.4 826.0h0M485.5 951.8h0M411.4 925.2h0M382.2 905.0h0M512.2 961.4h0M316.6 841.5h0M308.6 836.2h0M490.9 946.6h0M303.7 833.6h0M467.3 940.8h0M318.6 868.8h0M466.2 938.3h0M369.5 874.4h0M417.4 904.7h0M415.1 903.1h0M366.3 872.6h0M395.0 900.2h0M424.9 909.4h0M295.8 836.7h0M499.6 950.1h0M468.9 935.5h0M318.1 849.3h0M323.0 877.3h0M366.2 872.6h0M454.8 939.1h0M394.6 891.6h0M346.9 860.9h0M454.0 926.1h0M314.4 855.4h0M439.1 933.1h0M450.3 924.1h0M283.3 823.0h0M406.6 913.7h0M412.0 913.7h0M527.3 964.0h0M342.8 860.2h0M381.6 882.2h0M507.9 954.1h0M293.8 859.0h0M492.5 950.1h0M359.3 868.4h0M354.0 864.9h0M556.9 976.5h0M365.3 899.5h0M329.1 848.9h0M317.9 871.0h0M435.9 933.9h0M421.7 915.0h0M326.9 847.7h0M389.7 916.4h0M339.6 856.0h0M473.0 936.2h0M357.4 869.0h0M417.0 914.6h0M498.7 951.0h0M326.8 847.9h0M515.7 961.6h0M387.5 897.8h0M422.7 922.5h0M335.8 854.0h0M435.6 918.0h0M442.8 920.2h0M411.6 912.3h0M480.8 940.4h0M384.3 892.6h0M239.6 795.2h0M498.6 949.7h0M406.1 904.8h0M416.9 904.0h0M413.1 906.7h0M256.3 805.3h0M339.9 861.7h0M278.4 817.5h0M425.0 925.6h0M478.3 940.3h0M427.5 910.5h0M466.1 933.6h0M351.3 863.5h0M251.0 801.7h0M369.8 874.7h0M306.3 834.8h0M344.4 858.6h0M326.8 866.6h0M310.0 856.3h0M434.0 917.7h0M412.9 908.4h0M468.8 934.0h0M538.5 967.8h0M326.4 849.5h0M508.8 958.4h0M453.8 926.4h0M405.0 896.8h0M528.3 964.4h0M393.6 890.0h0M249.1 800.3h0M291.8 826.7h0M346.4 894.7h0M436.1 915.9h0M405.8 914.5h0M432.9 914.9h0M242.6 796.3h0M329.3 882.2h0M403.2 924.6h0M426.0 909.6h0M375.1 880.5h0M321.0 844.5h0M345.6 859.5h0M452.1 939.2h0M441.3 919.9h0M329.1 854.6h0M514.9 962.5h0M257.7 805.3h0M325.6 846.8h0M376.5 879.6h0M463.6 944.2h0M405.5 897.5h0M431.1 912.5h0M515.2 962.4h0M359.7 896.0h0M310.2 837.8h0M369.8 875.9h0M405.1 908.1h0M295.1 839.5h0M255.0 803.4h0M443.4 919.6h0M544.0 970.6h0M505.9 957.5h0M361.9 903.7h0M380.3 881.9h0M470.5 947.0h0M539.2 968.8h0M357.0 894.5h0M515.6 961.6h0M436.7 916.8h0M299.5 863.0h0M379.4 882.2h0M225.9 787.0h0M369.3 895.9h0M396.1 900.4h0M461.8 930.3h0M350.8 864.0h0M424.9 910.4h0M428.1 911.3h0M396.3 891.2h0M416.5 904.6h0M381.6 898.3h0M415.8 909.6h0M381.8 915.9h0M498.0 949.9h0M287.5 823.0h0M481.3 940.7h0M448.1 922.9h0M236.2 792.8h0M441.6 928.4h0M358.6 868.2h0M392.4 888.9h0M394.8 891.2h0M445.6 937.2h0M387.7 894.5h0M421.7 907.9h0M321.3 844.5h0M270.3 812.6h0M429.3 927.5h0M543.7 970.9h0M273.3 819.0h0M497.6 949.8h0M363.8 871.1h0M425.8 909.6h0M334.2 868.8h0M434.9 916.7h0M376.0 878.8h0M461.0 930.2h0M337.1 854.5h0M351.4 863.7h0M419.3 907.6h0M284.6 822.1h0M530.3 965.3h0M415.1 902.9h0M528.1 968.4h0M309.2 836.6h0M439.2 917.5h0M316.2 841.1h0M275.6 816.9h0M377.7 882.3h0M384.2 914.3h0M403.9 904.4h0M383.1 884.2h0M314.4 840.9h0M432.7 913.9h0M334.2 852.4h0M340.6 859.8h0M457.4 928.2h0M432.6 913.5h0M443.6 920.2h0M501.9 958.7h0M477.7 939.4h0M321.4 861.2h0M531.0 965.2h0M395.4 905.3h0M404.0 896.8h0M337.5 882.5h0M364.6 871.5h0M403.8 900.6h0M252.2 802.3h0M441.9 919.1h0M355.3 883.5h0M435.0 914.7h0M444.9 922.2h0M417.7 905.6h0M272.1 814.0h0M405.1 896.9h0M356.6 866.6h0M440.6 918.5h0M439.7 924.4h0M391.4 919.7h0M444.7 931.3h0M298.2 830.5h0M466.9 934.0h0M525.9 962.3h0M493.8 947.2h0M465.7 932.7h0M368.8 874.3h0M506.4 953.3h0M404.9 915.3h0M320.1 843.9h0M400.4 901.0h0M477.1 938.9h0M431.7 913.5h0M471.7 946.8h0M253.1 804.8h0M526.3 963.3h0M502.2 952.1h0M391.5 920.1h0M502.5 953.0h0M310.3 837.6h0M359.2 871.7h0M306.4 846.7h0M429.7 913.6h0M500.2 952.5h0M505.9 953.2h0M274.3 815.3h0M454.0 936.0h0M404.1 896.7h0M321.8 853.7h0M491.7 947.6h0M397.3 908.8h0M256.8 806.5h0M361.8 870.2h0M432.7 914.1h0M477.1 939.9h0M315.4 857.1h0M411.6 906.3h0M277.1 822.3h0M498.0 949.3h0M234.7 791.8h0M527.1 962.9h0M405.6 897.7h0M449.8 924.8h0M429.6 913.0h0M392.1 913.8h0M376.5 879.8h0M318.0 843.0h0M339.6 858.1h0M280.2 818.5h0M334.8 871.3h0M426.0 909.4h0M402.5 895.5h0M406.0 898.8h0M397.4 892.6h0M512.4 957.5h0M476.9 938.5h0M333.7 857.3h0M403.7 895.8h0M525.7 967.1h0M334.6 878.2h0M437.3 922.2h0M424.5 910.7h0M429.6 924.6h0M403.6 896.6h0M447.0 922.1h0M361.7 869.5h0M508.3 954.6h0M406.0 898.7h0M352.6 898.4h0M422.4 909.4h0M433.5 914.4h0M500.9 951.2h0M421.7 915.0h0M395.9 892.3h0M356.3 878.0h0M373.6 878.6h0M339.6 884.0h0M418.1 924.1h0M480.4 940.3h0M411.8 918.4h0M316.6 842.4h0M253.8 802.7h0M485.9 943.2h0M341.9 881.5h0M434.3 914.8h0M512.3 956.7h0M509.7 955.9h0M403.2 897.2h0M498.5 954.6h0M368.2 874.6h0M510.0 961.7h0M431.9 913.5h0M274.5 816.3h0M465.7 933.1h0M303.8 833.5h0M563.7 977.6h0M260.4 807.0h0M451.1 938.1h0M301.2 844.1h0M399.9 894.4h0M360.9 869.3h0M485.0 943.1h0M336.3 854.1h0M441.9 918.8h0M509.8 955.1h0M267.4 816.3h0M440.4 919.3h0M276.0 816.9h0M456.7 927.5h0M479.1 942.6h0M296.8 828.8h0M488.0 952.6h0M376.5 879.3h0M345.2 859.3h0M523.4 963.8h0M363.8 871.1h0M318.6 873.3h0M350.6 876.7h0M495.4 948.2h0M538.3 968.1h0M380.5 882.8h0M389.4 916.1h0M413.0 910.8h0M473.7 939.1h0M234.0 794.3h0M461.2 938.2h0M528.3 966.1h0M368.8 901.6h0M376.4 885.0h0M518.7 959.6h0M369.2 886.3h0M362.0 870.2h0M479.8 949.9h0M384.7 912.1h0M424.3 908.4h0M339.6 875.2h0M432.2 913.3h0M359.9 894.4h0M457.9 931.3h0M389.1 887.5h0M500.9 954.9h0M401.6 895.5h0M479.2 949.1h0M377.1 881.2h0M429.6 912.2h0M334.5 852.7h0M410.3 900.0h0M428.1 919.8h0M313.0 840.2h0M400.7 895.1h0M501.9 952.3h0M316.2 841.7h0M388.1 903.6h0M473.0 936.5h0M373.7 913.7h0M250.1 804.4h0M396.6 892.6h0M382.1 896.8h0M504.3 956.8h0M428.3 925.5h0M456.1 927.4h0M359.9 884.6h0M492.3 946.3h0M470.4 934.9h0M278.9 826.6h0M427.6 911.2h0M495.3 951.3h0M425.1 908.8h0M527.3 963.9h0M332.9 886.5h0M410.6 901.8h0M398.4 903.1h0M341.9 861.2h0M457.4 928.0h0M374.9 887.3h0M424.9 921.7h0M457.6 928.3h0M443.7 920.8h0M282.7 842.1h0M263.2 808.8h0M468.0 933.6h0M425.1 916.5h0M299.7 831.2h0M293.6 857.9h0M390.3 887.5h0M309.1 862.1h0M505.5 960.2h0M322.6 851.8h0M511.5 960.8h0M440.8 919.0h0M403.4 922.1h0M430.0 912.1h0M435.1 916.6h0M339.3 855.8h0M388.1 886.4h0M268.4 814.2h0M259.7 806.5h0M511.4 956.3h0M477.0 939.1h0M450.3 937.7h0M284.1 844.0h0M418.9 905.5h0M440.7 918.4h0M374.7 905.3h0M362.3 882.4h0M443.4 920.0h0M235.3 792.7h0M384.1 883.6h0M331.6 850.6h0M377.8 899.5h0M402.7 896.4h0M372.4 911.1h0M485.5 943.7h0M487.2 949.6h0M451.8 924.7h0M460.9 941.5h0M391.0 895.6h0M335.6 854.7h0M466.7 938.2h0M288.8 841.2h0M412.1 901.7h0M421.1 907.0h0M286.0 823.1h0M317.0 841.5h0M430.3 912.3h0M479.3 942.1h0M365.4 898.1h0M397.9 909.4h0M439.0 917.1h0M409.3 913.2h0M382.3 889.1h0M422.2 917.2h0M439.4 918.1h0M462.7 931.2h0M404.6 897.1h0M427.6 910.8h0M314.3 847.8h0M304.1 848.5h0M465.1 932.3h0M322.5 844.8h0M376.3 890.3h0M488.3 947.8h0M299.3 857.4h0M431.8 914.2h0M329.5 849.2h0M419.4 906.4h0M467.0 943.3h0M468.1 934.0h0M456.4 936.8h0M394.9 917.4h0M400.7 895.1h0M307.3 835.8h0M288.8 824.5h0M448.8 931.0h0M261.8 813.0h0M506.4 958.5h0M311.5 855.8h0M441.9 922.9h0M378.7 896.7h0M416.3 903.9h0M451.0 924.4h0M342.1 870.1h0M469.5 945.7h0M450.7 924.1h0M408.9 901.1h0M407.6 912.9h0M363.7 878.1h0M525.8 964.6h0M364.6 906.8h0M327.4 848.7h0M404.0 897.4h0M501.6 958.1h0M503.6 956.2h0M408.4 899.8h0M365.7 877.4h0M448.6 922.8h0M404.1 896.4h0M468.8 934.4h0M471.8 935.7h0M437.6 930.2h0M528.5 966.4h0M424.7 909.8h0M529.9 965.3h0M425.5 919.3h0M321.0 859.5h0M419.8 925.9h0M453.9 925.7h0M373.0 882.1h0M306.0 844.1h0M356.0 865.9h0M457.4 932.2h0M318.0 842.6h0M236.4 792.8h0M486.2 944.0h0M527.7 966.4h0M482.9 942.2h0M462.7 931.5h0M444.3 924.3h0M402.4 907.5h0M425.5 909.0h0M448.4 922.5h0M350.3 868.3h0M317.3 843.6h0M435.5 931.0h0M414.2 902.5h0M546.4 971.1h0M371.0 888.5h0M370.9 875.5h0M290.8 856.8h0M239.5 801.1h0M296.8 856.1h0M411.6 903.9h0M522.4 961.5h0M287.6 823.5h0M303.6 832.8h0M432.6 927.8h0M343.6 858.3h0M258.6 806.0h0M489.2 945.1h0M300.0 831.5h0M376.1 880.4h0M450.5 927.4h0M457.0 927.4h0M517.7 959.3h0M411.7 920.5h0M299.7 848.1h0M274.5 815.1h0M423.4 918.6h0M398.8 893.4h0M329.7 869.9h0M305.1 840.5h0M355.6 866.0h0M340.0 884.6h0M356.6 888.0h0M355.9 872.3h0M450.0 924.0h0M382.0 883.3h0M476.2 941.9h0M391.3 890.1h0M340.6 876.7h0M502.9 956.2h0M425.4 910.0h0M474.7 938.2h0M325.2 846.8h0M528.8 967.2h0M421.5 907.1h0M361.5 870.0h0M330.2 850.7h0M282.1 833.5h0M251.8 802.3h0M314.5 842.1h0M345.6 882.5h0M397.8 895.6h0M367.1 873.8h0M258.5 806.1h0M298.5 830.1h0M242.3 796.7h0M255.9 804.4h0M342.4 876.1h0M422.3 907.2h0M301.4 831.9h0M487.8 950.9h0M542.1 972.9h0M416.9 904.0h0M259.9 808.8h0M310.2 852.3h0M393.3 893.4h0M507.4 957.4h0M536.1 969.7h0M446.1 922.2h0M490.1 946.9h0M281.4 838.4h0M392.5 889.3h0M385.8 909.3h0M320.5 857.1h0M405.3 906.1h0M405.0 897.5h0M527.5 965.6h0M268.7 813.2h0M342.9 858.5h0M307.0 835.2h0M322.4 883.5h0M347.7 897.8h0M360.1 868.8h0M518.6 960.7h0M350.3 862.5h0M387.1 886.1h0M305.4 857.5h0M321.7 868.8h0M320.6 848.1h0M406.4 898.5h0M343.3 878.6h0M337.3 873.8h0M396.2 891.7h0M240.8 796.5h0M481.1 941.3h0M261.4 807.7h0M370.2 875.4h0M543.7 970.4h0M306.1 846.2h0M258.3 811.6h0M387.6 911.8h0M420.5 913.1h0M363.3 871.4h0M321.5 851.9h0M434.8 914.7h0M411.1 919.4h0M354.8 878.5h0M417.0 914.4h0M473.8 936.7h0M394.2 890.4h0M364.6 875.8h0M417.0 904.5h0M392.0 888.7h0M282.0 821.0h0M494.8 948.1h0M291.6 825.9h0M447.5 922.0h0M375.4 878.8h0M457.9 929.2h0M250.1 801.8h0M185.4 766.4h0M189.1 769.4h0M197.6 772.9h0M194.4 774.0h0M209.4 779.0h0M188.6 767.8h0M210.9 778.9h0M200.9 774.5h0M210.9 779.2h0M211.6 780.3h0M213.1 783.0h0M222.7 785.2h0M229.8 789.2h0M229.8 789.4h0M238.8 798.9h0M240.5 795.5h0M241.6 796.4h0M254.8 812.3h0M263.0 819.5h0M274.1 815.1h0M327.3 873.5h0M324.5 868.7h0M375.5 879.2h0M299.8 833.5h0M291.9 825.7h0M295.1 827.9h0M317.0 841.7h0M316.1 840.7h0M267.3 811.1h0M343.3 858.3h0M222.7 789.4h0M239.0 796.0h0M236.2 796.3h0M241.6 797.1h0M252.3 810.8h0M198.1 774.2h0M221.2 790.2h0M233.6 796.1h0M213.1 781.2h0M225.5 790.6h0M235.1 792.6h0M188.6 767.7h0M221.2 784.5h0M204.1 779.8h0M198.1 772.6h0M213.1 780.3h0M228.1 788.4h0M263.6 808.9h0M277.6 834.6h0M295.6 828.6h0M324.5 846.9h0M328.8 885.4h0M351.3 890.0h0M365.8 883.5h0M379.8 891.6h0M447.9 922.7h0M401.4 894.4h0M381.1 882.1h0M430.4 913.3h0M443.6 919.7h0M402.5 912.2h0M501.7 951.8h0M521.0 961.5h0M471.7 941.6h0M461.0 944.7h0M543.9 970.1h0M544.6 970.2h0M518.2 958.9h0M513.9 958.3h0M502.6 954.3h0M474.3 937.8h0M480.7 940.3h0M475.4 939.0h0M576.7 982.2h0M581.0 985.6h0M554.6 974.7h0M562.6 978.3h0M558.3 976.4h0M546.7 971.4h0M538.6 970.9h0M531.7 965.9h0M549.9 974.1h0M562.8 977.6h0M542.2 969.3h0M555.7 976.1h0M561.1 976.8h0M614.6 992.1h0M574.3 983.3h0M557.8 975.8h0M582.5 984.1h0M586.8 986.8h0M543.9 972.3h0M530.0 968.3h0M511.8 956.0h0M547.1 974.9h0M553.1 976.9h0M566.4 978.9h0M570.3 979.9h0M558.9 975.8h0M563.2 978.5h0M542.8 969.5h0M538.6 968.4h0M532.1 967.5h0M550.3 973.7h0M553.6 973.8h0M594.3 987.7h0M584.6 986.7h0M584.6 984.4h0M584.6 984.8h0M595.4 987.5h0M595.4 990.3h0M542.8 971.1h0M509.6 960.5h0M511.1 956.6h0M418.1 905.0h0M457.1 927.9h0M412.1 901.5h0M417.5 906.5h0M486.1 945.1h0M425.0 908.8h0M423.9 908.9h0M110.4 718.3h0M126.9 730.7h0M160.6 751.7h0M148.4 753.9h0M167.6 776.4h0M189.1 824.6h0M200.9 803.1h0M198.1 811.1h0M211.1 799.3h0M213.1 810.0h0M213.1 819.6h0M211.1 831.4h0M221.2 834.0h0M210.9 842.1h0M225.5 805.7h0M230.8 811.1h0M236.2 817.5h0M239.0 823.9h0M236.2 831.4h0M242.6 830.3h0M249.1 819.6h0M251.2 829.3h0M249.1 843.2h0M244.8 850.3h0M254.0 864.6h0M255.5 852.8h0M260.8 825.0h0M261.9 842.1h0M264.1 853.9h0M269.4 831.4h0M271.6 842.1h0M273.7 861.4h0M280.1 865.7h0M275.9 847.5h0M642.8 996.8h0" stroke="#000" stroke-width="9.2" stroke-linecap="round" fill="none"/>
<path d="M110.9 724.5L115.4 727.3L119.8 730.0L124.3 732.8L128.7 735.6L133.2 738.3L137.7 741.1L142.1 743.9L146.6 746.6L151.0 749.4L155.5 752.2L160.0 755.0L164.4 757.8L168.9 760.6L173.3 763.4L177.8 766.2L182.3 769.0L186.7 771.7L191.2 774.5L195.6 777.2L200.1 779.9L204.6 782.6L209.0 785.3L213.5 788.0L218.0 790.6L222.4 793.3L226.9 796.0L231.3 798.7L235.8 801.4L240.3 804.1L244.7 806.8L249.2 809.5L253.6 812.2L258.1 814.9L262.6 817.6L267.0 820.3L271.5 823.0L275.9 825.7L280.4 828.3L284.9 831.0L289.3 833.7L293.8 836.3L298.2 839.0L302.7 841.7L307.2 844.3L311.6 846.9L316.1 849.6L320.5 852.2L325.0 854.8L329.5 857.5L333.9 860.1L338.4 862.7L342.8 865.3L347.3 867.9L351.8 870.5L356.2 873.1L360.7 875.7L365.1 878.3L369.6 880.8L374.1 883.4L378.5 885.9L383.0 888.4L387.5 891.0L391.9 893.5L396.4 895.9L400.8 898.4L405.3 900.9L409.8 903.3L414.2 905.8L418.7 908.2L423.1 910.6L427.6 912.9L432.1 915.3L436.5 917.6L441.0 920.0L445.4 922.3L449.9 924.6L454.4 926.8L458.8 929.1L463.3 931.3L467.7 933.5L472.2 935.6L476.7 937.8L481.1 939.9L485.6 942.0L490.0 944.1L494.5 946.1L499.0 948.1L503.4 950.1L507.9 952.1L512.3 954.0L516.8 955.8L521.3 957.7L525.7 959.5L530.2 961.3L534.6 963.0L539.1 964.7L543.6 966.3L548.0 967.9L552.5 969.5L557.0 971.0L561.4 972.5L565.9 974.0L570.3 975.4L574.8 976.7L579.3 978.1L583.7 979.3L588.2 980.5L592.6 981.7L597.1 982.9L601.6 984.0L606.0 984.9L610.5 985.8L614.9 986.5L619.4 987.1L623.9 987.6L628.3 988.1L632.8 988.4L637.2 988.8L641.7 989.0L641.7 1003.0L637.2 1001.6L632.8 1000.2L628.3 998.8L623.9 997.3L619.4 995.8L614.9 994.3L610.5 992.9L606.0 991.4L601.6 990.1L597.1 988.7L592.6 987.3L588.2 985.9L583.7 984.5L579.3 983.0L574.8 981.4L570.3 979.9L565.9 978.3L561.4 976.7L557.0 975.0L552.5 973.4L548.0 971.7L543.6 969.9L539.1 968.2L534.6 966.4L530.2 964.5L525.7 962.7L521.3 960.8L516.8 958.9L512.3 957.0L507.9 955.1L503.4 953.1L499.0 951.1L494.5 949.1L490.0 947.1L485.6 945.0L481.1 942.9L476.7 940.8L472.2 938.6L467.7 936.5L463.3 934.3L458.8 932.1L454.4 929.8L449.9 927.6L445.4 925.3L441.0 923.0L436.5 920.6L432.1 918.3L427.6 915.9L423.1 913.6L418.7 911.2L414.2 908.8L409.8 906.3L405.3 903.9L400.8 901.4L396.4 898.9L391.9 896.5L387.5 894.0L383.0 891.4L378.5 888.9L374.1 886.4L369.6 883.8L365.1 881.3L360.7 878.7L356.2 876.1L351.8 873.5L347.3 870.9L342.8 868.3L338.4 865.7L333.9 863.1L329.5 860.5L325.0 857.8L320.5 855.2L316.1 852.6L311.6 849.9L307.2 847.3L302.7 844.7L298.2 842.0L293.8 839.4L289.3 836.7L284.9 834.1L280.4 831.4L275.9 828.8L271.5 826.2L267.0 823.5L262.6 820.9L258.1 818.3L253.6 815.7L249.2 813.1L244.7 810.5L240.3 807.9L235.8 805.3L231.3 802.7L226.9 800.2L222.4 797.6L218.0 795.0L213.5 792.5L209.0 789.9L204.6 787.4L200.1 784.9L195.6 782.4L191.2 780.0L186.7 777.5L182.3 775.2L177.8 772.8L173.3 770.5L168.9 768.2L164.4 766.0L160.0 763.7L155.5 761.5L151.0 759.3L146.6 757.1L142.1 754.9L137.7 752.7L133.2 750.6L128.7 748.5L124.3 746.4L119.8 744.4L115.4 742.4L110.9 740.4Z" fill="#999" fill-opacity="0.4"/>
<path d="M110.9 732.4L115.4 734.8L119.8 737.2L124.3 739.6L128.7 742.0L133.2 744.5L137.7 746.9L142.1 749.4L146.6 751.9L151.0 754.3L155.5 756.8L160.0 759.4L164.4 761.9L168.9 764.4L173.3 767.0L177.8 769.5L182.3 772.1L186.7 774.6L191.2 777.2L195.6 779.8L200.1 782.4L204.6 785.0L209.0 787.6L213.5 790.2L218.0 792.8L222.4 795.5L226.9 798.1L231.3 800.7L235.8 803.4L240.3 806.0L244.7 808.7L249.2 811.3L253.6 814.0L258.1 816.6L262.6 819.3L267.0 821.9L271.5 824.6L275.9 827.2L280.4 829.9L284.9 832.5L289.3 835.2L293.8 837.9L298.2 840.5L302.7 843.2L307.2 845.8L311.6 848.4L316.1 851.1L320.5 853.7L325.0 856.3L329.5 859.0L333.9 861.6L338.4 864.2L342.8 866.8L347.3 869.4L351.8 872.0L356.2 874.6L360.7 877.2L365.1 879.8L369.6 882.3L374.1 884.9L378.5 887.4L383.0 889.9L387.5 892.5L391.9 895.0L396.4 897.4L400.8 899.9L405.3 902.4L409.8 904.8L414.2 907.3L418.7 909.7L423.1 912.1L427.6 914.4L432.1 916.8L436.5 919.1L441.0 921.5L445.4 923.8L449.9 926.1L454.4 928.3L458.8 930.6L463.3 932.8L467.7 935.0L472.2 937.1L476.7 939.3L481.1 941.4L485.6 943.5L490.0 945.6L494.5 947.6L499.0 949.6L503.4 951.6L507.9 953.6L512.3 955.5L516.8 957.4L521.3 959.3L525.7 961.1L530.2 962.9L534.6 964.7L539.1 966.4L543.6 968.1L548.0 969.8L552.5 971.4L557.0 973.0L561.4 974.6L565.9 976.1L570.3 977.6L574.8 979.1L579.3 980.5L583.7 981.9L588.2 983.2L592.6 984.5L597.1 985.8L601.6 987.0L606.0 988.2L610.5 989.3L614.9 990.4L619.4 991.4L623.9 992.4L628.3 993.4L632.8 994.3L637.2 995.2L641.7 996.0" stroke="#3A60DA" stroke-width="2.5" fill="none"/>
<path d="M109.9 1022.5v9.5M256.9 1022.5v9.5M403.9 1022.5v9.5M550.9 1022.5v9.5M74.3 940.0h9M74.3 813.0h9M74.3 685.9h9" stroke="#7F7F7F" stroke-width="2.2" fill="none"/>
<text x="109.9" y="1053.5" text-anchor="middle" class="tk">-3</text>
<text x="256.9" y="1053.5" text-anchor="middle" class="tk">0</text>
<text x="403.9" y="1053.5" text-anchor="middle" class="tk">3</text>
<text x="550.9" y="1053.5" text-anchor="middle" class="tk">6</text>
<text x="67.7" y="947.9" text-anchor="end" class="tk">500</text>
<text x="67.7" y="820.9" text-anchor="end" class="tk">600</text>
<text x="67.7" y="693.8" text-anchor="end" class="tk">700</text>
<text transform="translate(379.6,595.9) scale(1.0,1.02)" text-anchor="middle" class="tt">ML RTs (LN)</text>
<text transform="translate(379.6,1079.3) scale(1,1.04)" text-anchor="middle" class="at">LN Freq of Occurrences per Million</text>
<text transform="translate(26.3,813.3) rotate(-90) scale(1.06,1.04)" text-anchor="middle" class="at">RTs</text>
<rect x="802.1" y="604.1" width="592.7" height="418.4" fill="#E1E1E1"/>
<path d="M843.6 604.1V1022.5M993.6 604.1V1022.5M1143.6 604.1V1022.5M1293.6 604.1V1022.5M802.1 1003.8H1394.8M802.1 919.1H1394.8M802.1 834.3H1394.8M802.1 749.6H1394.8M802.1 664.8H1394.8" stroke="#F0F0F0" stroke-width="1.5" fill="none"/>
<path d="M918.6 604.1V1022.5M1068.6 604.1V1022.5M1218.6 604.1V1022.5M1368.6 604.1V1022.5M802.1 961.5H1394.8M802.1 876.7H1394.8M802.1 792.0H1394.8M802.1 707.2H1394.8M802.1 622.5H1394.8" stroke="#fff" stroke-width="3" fill="none"/>
<path d="M1095.5 833.6h0M1170.1 899.0h0M1084.4 809.8h0M1039.4 785.6h0M1155.3 876.3h0M1172.3 872.6h0M1091.2 822.8h0M1209.4 888.4h0M1138.4 859.3h0M1211.0 888.5h0M1028.4 805.1h0M1216.2 914.0h0M1154.6 853.5h0M1215.8 900.2h0M1060.3 843.7h0M1102.6 869.3h0M1195.2 880.1h0M1129.6 854.5h0M1048.0 788.8h0M1048.0 811.6h0M1217.6 892.7h0M1129.3 854.1h0M990.7 760.8h0M1041.8 819.5h0M1102.8 821.9h0M1027.1 800.6h0M1083.6 809.4h0M1128.4 849.6h0M1000.9 764.3h0M1040.8 785.5h0M1190.2 875.7h0M986.0 757.4h0M1008.4 784.5h0M1169.9 864.1h0M1130.6 863.2h0M1084.7 810.7h0M1182.6 872.5h0M1031.3 804.3h0M961.0 744.9h0M1167.6 862.2h0M1121.2 832.3h0M1057.6 794.5h0M1107.8 843.1h0M1000.1 764.6h0M1052.8 801.4h0M1105.4 822.5h0M1177.8 877.6h0M1053.6 808.7h0M993.5 763.4h0M1002.1 774.5h0M1051.5 795.0h0M1118.5 831.3h0M1137.9 878.1h0M1135.2 884.4h0M1188.1 874.4h0M1131.9 860.3h0M1129.2 867.1h0M1111.1 826.3h0M1128.2 836.7h0M1144.4 847.2h0M1235.3 918.6h0M1024.9 802.4h0M1122.5 843.6h0M1011.7 769.8h0M1030.7 805.2h0M1208.3 916.0h0M1071.2 844.8h0M1105.1 822.4h0M1031.9 785.9h0M1092.8 865.1h0M978.3 766.6h0M1108.1 825.2h0M1221.7 904.2h0M1133.3 869.9h0M1127.9 837.0h0M1102.4 858.3h0M1054.3 798.9h0M1156.3 855.0h0M1068.0 800.0h0M1057.6 804.2h0M1100.8 819.9h0M1234.4 902.6h0M1145.4 871.9h0M1130.1 839.5h0M1012.6 770.6h0M1166.3 860.9h0M1074.8 819.9h0M1119.0 831.3h0M1103.7 833.6h0M1159.6 856.6h0M982.2 755.9h0M1004.7 767.1h0M1046.4 793.8h0M1030.0 820.4h0M1131.8 872.6h0M1009.8 768.9h0M1003.3 779.4h0M1097.0 860.2h0M995.4 772.8h0M1162.2 858.8h0M1056.2 831.2h0M1050.7 791.0h0M1111.8 827.0h0M1235.3 902.7h0M1046.8 835.8h0M1035.0 826.6h0M1063.9 798.0h0M1157.8 894.8h0M1211.4 896.5h0M1019.0 773.5h0M981.1 756.1h0M1051.4 790.7h0M1054.4 828.5h0M1149.0 850.9h0M1131.6 846.6h0M1148.9 850.6h0M1068.8 841.9h0M1075.9 805.9h0M1215.4 912.0h0M989.0 766.5h0M976.5 767.1h0M973.5 759.4h0M1169.0 863.5h0M1094.4 855.1h0M1135.2 888.7h0M1125.0 835.5h0M1167.8 862.8h0M1097.0 821.0h0M1056.0 836.5h0M1008.6 798.9h0M1072.4 824.7h0M1028.3 779.5h0M1208.2 900.0h0M1153.3 871.8h0M1047.1 812.2h0M1093.1 823.1h0M1084.3 810.5h0M1113.5 854.6h0M1217.9 906.3h0M1045.2 825.0h0M1115.7 840.9h0M1091.6 827.1h0M1221.9 909.8h0M1033.3 781.9h0M1123.6 833.9h0M1002.8 782.1h0M1100.0 819.5h0M1224.8 896.7h0M1141.5 886.4h0M981.9 769.7h0M1241.6 906.7h0M1099.1 832.8h0M1107.9 825.5h0M1217.1 916.3h0M1109.0 829.5h0M1033.9 781.9h0M1076.1 823.4h0M1149.5 850.4h0M1069.5 801.8h0M1022.3 775.5h0M1068.1 821.8h0M1006.2 767.6h0M1005.4 776.3h0M1011.0 769.6h0M1092.6 814.7h0M1054.5 801.3h0M1024.9 776.8h0M1146.6 876.2h0M1115.1 839.2h0M1169.9 887.1h0M1020.5 774.3h0M1117.1 848.7h0M1042.7 786.0h0M1089.7 813.0h0M1079.5 807.0h0M1108.7 835.1h0M1105.8 865.7h0M1204.8 902.3h0M1118.1 831.1h0M1060.6 796.1h0M1162.2 861.2h0M1020.7 774.7h0M1156.7 878.2h0M1107.2 845.0h0M1042.1 786.7h0M1150.4 850.6h0M1009.1 769.2h0M983.8 757.5h0M1044.4 804.1h0M1091.7 823.0h0M1119.6 832.2h0M1053.1 792.0h0M1107.7 824.7h0M1238.8 924.1h0M1262.9 918.1h0M1141.9 845.5h0M1050.6 791.7h0M1085.8 845.4h0M1166.3 898.8h0M1192.6 880.2h0M1220.2 894.3h0M1067.8 800.2h0M1057.9 824.2h0M1057.5 799.2h0M1159.5 871.5h0M1223.4 905.1h0M1104.2 826.0h0M1078.9 842.9h0M1128.1 837.0h0M1074.6 803.9h0M1105.7 844.6h0M1026.8 778.3h0M1005.2 767.4h0M1071.3 841.3h0M1043.7 787.2h0M1018.5 785.5h0M1227.9 898.5h0M1135.6 842.3h0M1067.9 836.9h0M1249.9 916.5h0M1007.3 791.3h0M1060.0 850.1h0M1191.4 889.7h0M1229.9 899.8h0M1161.8 875.3h0M1026.3 778.3h0M1104.9 824.2h0M997.0 791.3h0M994.4 772.1h0M1184.0 893.3h0M954.7 741.5h0M1004.6 768.7h0M1006.9 767.7h0M1139.5 844.5h0M1119.0 849.3h0M1032.9 782.0h0M1072.3 839.5h0M1220.3 912.5h0M1031.7 781.2h0M995.8 762.8h0M1123.4 834.6h0M1007.5 767.7h0M1102.7 871.1h0M1041.0 811.5h0M982.4 756.3h0M1126.2 873.9h0M1150.2 851.9h0M1053.1 846.1h0M1019.9 774.1h0M1235.6 902.9h0M1038.9 784.8h0M1039.2 784.8h0M1063.4 797.5h0M1037.9 797.6h0M1039.1 789.3h0M1207.3 912.1h0M1000.3 765.3h0M1174.5 867.4h0M1098.0 837.4h0M983.6 755.9h0M1018.2 787.3h0M1125.5 835.6h0M1103.5 822.1h0M1038.3 785.8h0M1048.4 799.4h0M1208.6 889.2h0M1146.2 891.2h0M1127.0 846.1h0M1207.2 886.9h0M1036.2 783.5h0M1056.2 799.2h0M1175.7 867.1h0M1078.3 807.1h0M1079.6 807.1h0M1166.6 899.9h0M1266.4 919.8h0M1192.7 905.1h0M1155.5 854.8h0M1079.6 806.8h0M1138.1 843.0h0M1034.9 803.9h0M1040.8 785.2h0M1030.3 780.3h0M1131.9 844.0h0M1218.4 893.1h0M1151.2 889.4h0M1043.4 811.5h0M1126.6 837.7h0M1060.4 795.8h0M1171.2 877.8h0M1087.6 812.2h0M1039.9 784.5h0M1048.3 828.9h0M1001.3 794.9h0M1062.5 816.3h0M1058.1 794.9h0M1082.0 809.2h0M1126.0 879.0h0M1209.1 895.4h0M1169.2 863.5h0M1106.5 831.6h0M1062.6 799.8h0M1022.8 775.6h0M1110.4 849.9h0M994.6 786.5h0M990.9 780.6h0M1122.3 833.5h0M1021.3 775.6h0M1179.1 869.4h0M1128.9 837.2h0M1095.8 839.5h0M1212.7 889.4h0M1013.6 797.4h0M1052.2 812.5h0M1092.3 815.1h0M1228.1 898.5h0M999.3 781.7h0M1112.9 828.6h0M1205.2 884.9h0M1016.7 786.7h0M1137.6 858.5h0M1134.1 888.5h0M1062.3 805.7h0M1098.2 826.6h0M1212.2 904.1h0M1084.0 809.8h0M1081.6 808.0h0M1104.4 857.5h0M982.1 762.2h0M1166.7 862.6h0M990.1 766.9h0M1237.3 904.1h0M1231.5 900.8h0M1169.5 864.1h0M1195.6 879.3h0M1116.0 829.1h0M1051.4 812.0h0M1113.3 827.6h0M1131.2 873.5h0M1016.0 772.3h0M1156.6 879.1h0M1051.0 790.9h0M1093.3 850.1h0M1043.4 817.8h0M1046.6 834.8h0M1188.7 875.4h0M1155.3 853.7h0M994.1 786.1h0M1155.5 853.9h0M1207.6 886.7h0M1137.5 862.8h0M1134.6 852.3h0M1042.9 789.4h0M1136.3 841.9h0M1066.1 816.9h0M1206.7 886.1h0M1137.7 844.3h0M1054.8 794.0h0M1191.3 888.6h0M1156.4 854.7h0M1029.6 805.7h0M1032.6 805.3h0M970.4 750.4h0M1155.2 872.6h0M1001.4 765.5h0M1045.2 826.9h0M1146.0 848.1h0M1051.4 823.2h0M1047.3 791.3h0M995.3 781.9h0M989.8 763.8h0M1106.1 851.1h0M1015.2 771.7h0M1227.2 916.6h0M979.1 773.1h0M1053.4 792.0h0M1025.8 823.0h0M1197.1 910.5h0M1149.9 854.3h0M1008.4 768.6h0M991.7 772.2h0M1000.6 791.0h0M1146.9 884.5h0M1149.0 870.1h0M1120.0 870.3h0M1088.4 813.2h0M1083.0 809.1h0M1111.4 826.3h0M1007.7 768.0h0M1162.3 858.7h0M1157.4 864.6h0M1131.7 841.0h0M1037.0 814.8h0M1032.6 798.4h0M1238.5 919.9h0M1218.7 893.6h0M1149.2 864.7h0M1159.6 878.4h0M1082.0 834.8h0M1188.9 875.1h0M1134.1 841.2h0M1077.8 806.1h0M1131.8 887.5h0M999.6 763.7h0M1069.2 801.9h0M1177.5 883.0h0M1086.5 862.9h0M1102.7 820.8h0M1103.7 821.4h0M1215.9 892.4h0M1029.6 779.0h0M1131.8 885.1h0M1080.1 859.5h0M1037.0 802.4h0M989.0 759.5h0M1114.8 862.8h0M1025.8 818.5h0M1108.5 834.6h0M1076.2 806.0h0M1071.3 819.6h0M1192.9 877.4h0M1002.6 766.2h0M1103.8 872.4h0M1073.1 809.3h0M1018.3 773.5h0M1069.3 801.0h0M1185.3 893.3h0M1029.0 779.4h0M1131.4 861.9h0M1043.8 787.2h0M1094.7 850.3h0M1101.5 830.4h0M997.0 763.4h0M1166.3 895.5h0M1066.0 807.6h0M1031.5 782.2h0M1031.1 780.8h0M1242.8 907.1h0M1216.0 916.6h0M1084.2 847.7h0M1044.2 788.7h0M1138.6 843.8h0M990.7 760.1h0M1182.6 873.0h0M961.3 755.4h0M989.4 758.7h0M1057.1 847.2h0M1081.6 809.1h0M960.5 744.5h0M1047.3 788.6h0M1241.5 906.4h0M1156.3 870.1h0M992.7 766.2h0M1188.8 875.2h0M1083.5 809.9h0M1247.1 923.5h0M1054.5 792.8h0M1052.1 827.0h0M1131.3 882.2h0M1088.2 864.3h0M1045.4 835.9h0M1095.9 817.0h0M1121.1 832.3h0M1052.7 846.8h0M1171.3 901.4h0M1149.4 875.2h0M1150.5 851.4h0M1126.6 882.1h0M1035.9 795.8h0M1138.0 865.5h0M1023.7 798.8h0M1016.0 772.1h0M1091.5 814.1h0M1023.2 775.9h0M1012.5 807.1h0M1110.7 833.9h0M1234.9 921.1h0M991.7 761.7h0M1079.1 821.6h0M1002.7 775.6h0M1098.9 819.8h0M1106.7 855.0h0M1088.7 840.6h0M985.3 764.7h0M1136.7 842.2h0M1092.3 826.8h0M1106.4 823.4h0M1128.5 859.4h0M1199.7 882.1h0M1077.2 858.7h0M1202.5 884.1h0M1024.0 792.9h0M1081.1 851.7h0M1024.2 783.6h0M1064.7 804.5h0M1198.7 881.4h0M1234.6 911.6h0M1084.9 811.5h0M1045.4 788.0h0M1054.8 827.1h0M1198.0 880.7h0M1078.0 853.4h0M1029.1 779.4h0M1174.7 866.6h0M1092.8 814.7h0M1075.7 827.1h0M1198.7 881.8h0M1148.6 854.4h0M971.5 759.7h0M1228.9 918.4h0M1081.3 864.9h0M1024.9 821.3h0M1201.4 887.0h0M1074.1 804.4h0M1132.6 842.4h0M1149.9 850.6h0M1028.2 807.2h0M1241.3 917.2h0M1104.1 821.7h0M992.2 768.0h0M1098.5 870.4h0M974.6 769.5h0M1237.7 905.5h0M1128.0 839.2h0M1066.1 819.6h0M1163.6 859.7h0M1162.1 895.6h0M1136.6 842.1h0M1036.9 807.1h0M1003.5 793.5h0M1181.6 879.5h0M1193.0 877.8h0M1059.4 795.8h0M1067.6 824.5h0M1070.9 804.0h0M1045.5 788.0h0M1213.7 890.5h0M1097.4 846.5h0M1138.9 844.1h0M1113.6 856.2h0M1002.5 765.2h0M997.3 763.3h0M1017.4 773.8h0M1090.0 813.5h0M1118.9 831.2h0M1256.4 914.3h0M1197.7 904.8h0M1146.7 849.4h0M1066.9 802.6h0M1059.2 813.3h0M1135.8 856.0h0M1059.4 797.3h0M1154.0 853.7h0M1143.9 892.6h0M1010.6 791.2h0M1165.0 875.0h0M1003.6 771.6h0M1053.8 792.5h0M1234.6 914.5h0M1124.4 840.7h0M1181.7 871.1h0M1208.4 886.9h0M1043.0 838.6h0M1162.6 858.7h0M1064.7 799.6h0M994.9 763.0h0M1007.2 767.8h0M1012.2 797.3h0M1119.7 849.5h0M1122.1 833.1h0M1178.7 877.8h0M1049.2 789.5h0M1153.2 852.4h0M1043.4 792.5h0M1053.0 797.9h0M1125.5 835.6h0M1068.7 800.5h0M1261.5 922.8h0M1053.5 832.7h0M1037.4 820.8h0M1189.7 901.9h0M1187.5 899.0h0M1021.0 774.7h0M1057.8 820.7h0M1092.8 828.9h0M995.3 761.7h0M1064.4 798.3h0M1155.3 855.0h0M1154.8 854.0h0M1017.7 773.1h0M1050.9 801.7h0M1043.8 797.1h0M1132.6 840.1h0M1013.6 771.0h0M1243.6 913.5h0M1009.6 769.3h0M1096.8 819.2h0M1137.4 842.8h0M1218.6 893.2h0M1115.7 839.2h0M1181.4 894.6h0M1097.2 837.5h0M1033.9 782.4h0M1074.4 818.3h0M1114.0 828.0h0M1097.2 854.7h0M1158.8 860.0h0M1099.1 827.2h0M1066.9 851.2h0M1093.9 816.3h0M1094.8 854.1h0M967.3 757.5h0M1055.9 794.8h0M1106.4 865.5h0M1139.7 890.4h0M1075.7 826.4h0M1148.7 858.7h0M1091.4 813.8h0M1064.2 836.4h0M1038.4 784.7h0M1163.2 886.8h0M1206.3 888.6h0M1144.1 875.1h0M1033.8 782.2h0M1138.0 870.8h0M1091.7 840.6h0M1207.5 902.1h0M961.8 753.7h0M1156.1 854.6h0M1083.7 849.7h0M1181.5 871.5h0M1113.8 856.3h0M964.2 759.8h0M1134.4 840.7h0M1097.7 831.3h0M1037.8 815.7h0M1011.1 799.8h0M1069.9 801.3h0M1103.7 827.7h0M1086.1 822.3h0M973.6 765.6h0M1017.5 808.6h0M1131.7 839.4h0M1100.4 820.8h0M1147.7 849.6h0M1073.1 803.3h0M1041.4 808.1h0M1163.3 859.6h0M1033.3 781.5h0M993.4 761.1h0M1064.0 815.5h0M1080.6 823.4h0M1031.4 801.7h0M1222.5 919.8h0M1036.1 831.7h0M1011.1 776.1h0M1126.9 873.5h0M1016.3 772.4h0M1046.1 788.6h0M1073.0 810.1h0M1044.9 792.6h0M1125.1 867.0h0M1015.6 787.0h0M1122.7 834.5h0M1009.5 784.7h0M1108.0 824.0h0M1237.3 917.9h0M1160.1 873.4h0M1217.6 918.1h0M1100.5 851.3h0M1020.0 785.9h0M1064.3 797.9h0M1157.0 866.6h0M1013.6 799.6h0M1127.6 836.3h0M1054.7 844.3h0M1204.4 889.9h0M1060.4 796.6h0M1054.8 813.3h0M1044.5 787.1h0M1099.1 829.6h0M1220.9 920.5h0M1099.2 818.8h0M1147.4 848.8h0M1095.0 832.7h0M1000.5 771.3h0M1109.4 847.8h0M1111.2 864.2h0M1111.6 877.1h0M1049.9 790.9h0M1043.4 786.9h0M1056.1 794.4h0M981.6 756.3h0M1020.6 775.0h0M1047.6 820.6h0M1093.3 815.5h0M1201.9 883.3h0M1136.7 842.1h0M1094.0 817.9h0M1140.8 865.5h0M1079.2 847.2h0M988.6 758.2h0M1133.1 839.7h0M1137.9 843.2h0M1125.4 851.9h0M1180.4 876.0h0M1158.5 866.4h0M1172.7 888.4h0M988.1 762.5h0M1269.5 921.1h0M1109.8 837.3h0M1110.8 827.0h0M1115.5 865.5h0M1044.1 794.2h0M1050.8 841.5h0M1188.8 875.0h0M1112.5 827.6h0M1225.2 905.2h0M1031.2 779.9h0M1109.2 842.5h0M1112.4 836.5h0M984.4 756.7h0M1118.5 831.2h0M1067.1 800.5h0M1076.2 805.3h0M1026.2 777.9h0M1111.2 826.3h0M1129.8 849.4h0M1194.4 879.4h0M1176.9 867.8h0M1238.5 915.5h0M1235.1 902.6h0M1136.7 856.5h0M1046.3 789.7h0M1099.2 844.9h0M1000.7 764.5h0M1104.9 868.5h0M1051.3 820.2h0M1098.4 867.4h0M1149.7 850.2h0M993.4 781.9h0M1188.5 888.2h0M984.8 765.8h0M1088.6 813.2h0M1033.4 783.3h0M985.3 756.9h0M1086.4 811.8h0M1042.4 785.9h0M999.7 764.9h0M1171.3 879.6h0M1039.1 785.2h0M1213.6 890.6h0M1114.4 835.8h0M1061.3 838.3h0M993.4 767.0h0M1181.4 870.2h0M1007.7 782.0h0M1157.0 854.8h0M1096.7 821.7h0M1081.5 855.4h0M999.8 764.6h0M1074.3 814.6h0M973.2 751.0h0M1153.3 891.4h0M1138.3 857.4h0M1014.6 788.9h0M1092.7 848.4h0M1024.5 788.6h0M1139.6 844.1h0M1027.0 787.0h0M1023.3 820.6h0M1047.0 836.4h0M1232.1 911.6h0M1169.5 862.7h0M1070.9 816.7h0M1162.2 859.7h0M1062.6 812.0h0M1026.7 791.2h0M1196.3 897.6h0M984.2 759.7h0M1161.9 873.7h0M1224.8 897.2h0M1000.9 764.7h0M1182.7 879.6h0M1158.1 856.6h0M986.6 757.4h0M1079.1 820.6h0M1042.1 785.6h0M1067.1 845.1h0M1066.6 808.4h0M1069.1 800.9h0M967.1 763.0h0M1044.3 787.2h0M1048.2 818.1h0M1124.0 838.4h0M1135.5 848.7h0M1149.8 874.7h0M1121.0 869.4h0M1195.2 894.5h0M1102.7 820.7h0M1052.9 792.4h0M985.7 757.3h0M1143.5 846.7h0M1104.0 822.1h0M1021.1 775.1h0M1093.1 841.4h0M1216.6 892.2h0M1113.7 830.9h0M1052.0 791.4h0M1165.9 879.4h0M1069.2 836.8h0M972.1 750.8h0M999.6 763.9h0M1225.8 918.2h0M1003.6 794.9h0M1159.0 883.0h0M981.5 755.4h0M1075.0 842.3h0M1046.5 788.5h0M1059.1 841.8h0M1002.9 791.1h0M1070.6 836.6h0M1152.2 852.5h0M1095.9 858.8h0M1013.6 772.1h0M1165.5 861.5h0M1186.8 899.2h0M1081.6 854.2h0M1062.1 798.9h0M974.2 764.3h0M996.7 763.3h0M1065.3 810.9h0M1008.9 781.3h0M1230.7 900.2h0M1122.7 833.6h0M1052.8 832.9h0M1109.0 825.1h0M1022.3 815.9h0M1204.3 901.7h0M1090.8 816.0h0M1136.4 842.9h0M1025.4 805.0h0M1085.2 810.7h0M1140.1 849.2h0M1067.7 800.8h0M994.9 761.7h0M1084.2 826.5h0M1171.2 894.2h0M1082.8 828.7h0M1238.1 904.5h0M1103.4 854.7h0M1190.9 895.3h0M982.4 756.0h0M1119.7 831.6h0M1092.8 842.0h0M1061.8 814.5h0M1198.2 892.6h0M1003.2 765.9h0M1087.7 812.8h0M1051.5 817.2h0M1225.0 896.9h0M1158.5 857.2h0M1029.6 779.9h0M1012.5 770.5h0M977.9 753.5h0M1024.9 776.6h0M1209.3 887.5h0M1187.4 876.2h0M1163.9 859.6h0M1070.3 818.5h0M1086.9 812.3h0M1106.9 824.1h0M1166.9 896.7h0M958.7 751.4h0M1025.2 777.8h0M1108.2 824.8h0M1015.9 772.0h0M1213.6 890.4h0M987.5 758.6h0M1233.5 902.2h0M1032.6 815.2h0M1028.1 790.0h0M1075.1 825.2h0M1121.2 848.8h0M1238.0 911.3h0M1085.7 811.9h0M1196.7 881.2h0M1193.8 892.2h0M1242.2 908.0h0M1062.3 797.6h0M1085.4 811.1h0M976.7 752.9h0M1067.0 824.2h0M1061.0 812.8h0M1011.7 800.4h0M1173.8 901.2h0M1046.0 789.4h0M1013.3 771.0h0M1009.5 773.7h0M978.3 753.7h0M1151.1 866.2h0M1097.4 818.6h0M1095.7 818.2h0M1073.0 803.4h0M1227.2 906.9h0M1065.9 830.7h0M1085.4 862.7h0M1134.0 840.5h0M1209.4 908.1h0M1182.4 898.6h0M1190.5 876.8h0M1025.7 786.2h0M1216.7 892.0h0M1171.1 865.1h0M1056.2 794.0h0M1165.5 860.8h0M1221.0 902.0h0M1147.9 883.8h0M1146.6 857.2h0M1175.8 875.4h0M1189.5 906.5h0M1158.4 858.1h0M999.0 783.2h0M1031.3 801.6h0M1010.8 780.5h0M1083.6 812.7h0M995.1 769.2h0M1101.5 820.2h0M1207.3 886.3h0M1239.6 908.6h0M984.6 757.8h0M1132.1 866.7h0M1016.3 775.0h0M1183.7 872.6h0M981.8 772.0h0M1006.3 767.7h0M1055.0 827.3h0M960.6 747.1h0M1127.1 871.0h0M1030.6 802.6h0M1141.7 845.9h0M1219.2 893.7h0M1084.5 848.5h0M1084.4 810.6h0M1257.7 926.2h0M1053.0 792.2h0M1192.1 883.7h0M1139.9 866.9h0M966.2 748.1h0M1049.7 791.2h0M1141.9 845.4h0M987.7 757.7h0M1182.1 896.9h0M1202.2 883.2h0M1152.3 888.4h0M1167.2 861.3h0M1111.9 827.4h0M1166.4 861.1h0M1083.9 810.4h0M1071.9 802.8h0M1137.3 864.6h0M1083.4 815.7h0M1052.4 791.4h0M1043.0 786.3h0M1077.7 807.1h0M1066.7 816.2h0M1150.8 851.1h0M1159.2 888.4h0M1163.4 896.7h0M1177.8 868.0h0M1062.7 798.4h0M1064.2 797.8h0M1175.7 878.5h0M1025.0 776.7h0M1137.0 842.2h0M1095.9 827.9h0M1128.1 837.4h0M1135.7 842.1h0M1128.7 854.8h0M1036.9 784.1h0M977.8 753.1h0M1220.8 895.0h0M1196.5 899.0h0M1091.7 816.7h0M1126.9 868.5h0M1002.9 780.5h0M1082.0 809.3h0M1109.7 825.6h0M1136.5 885.1h0M1033.5 782.7h0M1003.3 775.6h0M1225.6 906.4h0M1179.1 872.8h0M1024.6 787.8h0M1170.7 898.1h0M1167.6 865.9h0M1025.3 776.8h0M1165.2 860.4h0M1066.7 831.5h0M1057.1 797.6h0M947.7 745.4h0M958.4 743.5h0M937.4 732.9h0M923.1 726.4h0M930.6 730.9h0M940.2 735.6h0M967.6 749.2h0M927.8 732.9h0M912.3 724.1h0M919.9 724.2h0M953.1 741.7h0M941.3 735.0h0M949.4 739.3h0M907.0 717.7h0M914.9 722.3h0M910.9 720.1h0M933.8 731.1h0M938.1 738.5h0M945.1 737.6h0M961.0 745.8h0M947.7 740.1h0M901.0 717.0h0M893.1 710.2h0M901.6 716.0h0M911.3 720.8h0M918.8 723.4h0M925.2 727.0h0M902.7 717.1h0M900.6 714.1h0M938.1 734.0h0M940.2 735.3h0M899.5 713.3h0M930.6 729.8h0M899.9 713.9h0M917.3 723.1h0M1004.5 780.9h0M1015.8 772.6h0M1037.7 783.6h0M1034.5 815.8h0M1033.0 781.5h0M1030.2 811.5h0M1037.7 827.7h0M1046.3 815.8h0M1051.6 816.7h0M1055.5 793.9h0M1038.8 784.0h0M1042.0 837.4h0M1066.6 799.7h0M1075.2 834.4h0M1068.8 801.3h0M1073.1 832.7h0M1085.9 811.1h0M985.2 770.4h0M994.2 773.2h0M967.0 748.0h0M968.1 760.2h0M977.7 758.9h0M973.4 751.7h0M988.4 773.6h0M1001.3 794.2h0M983.1 765.6h0M976.6 764.1h0M982.0 760.6h0M983.1 757.9h0M955.2 741.7h0M962.7 747.8h0M949.8 743.0h0M952.0 749.1h0M956.3 749.5h0M967.0 748.1h0M959.5 750.9h0M950.9 742.9h0M953.1 741.3h0M949.8 745.4h0M961.6 744.9h0M979.4 754.5h0M987.3 758.0h0M969.1 762.7h0M976.6 757.3h0M968.1 756.0h0M981.6 765.7h0M993.3 760.8h0M998.1 763.9h0M994.4 761.2h0M1003.0 774.0h0M1017.3 789.9h0M1029.1 779.4h0M1022.7 797.4h0M1043.1 812.8h0M1048.4 789.6h0M1063.4 810.4h0M1080.6 821.3h0M1081.6 808.2h0M1090.2 813.2h0M1100.9 839.3h0M1103.6 825.7h0M1147.5 849.5h0M1147.5 849.2h0M1129.3 837.9h0M1137.9 862.9h0M1110.0 830.9h0M1116.4 837.7h0M1154.6 853.7h0M1156.1 855.9h0M1200.0 881.8h0M1206.0 894.3h0M1246.1 909.7h0M1247.6 909.5h0M1310.3 945.4h0M1182.9 904.3h0M1191.0 908.9h0M1198.3 881.7h0M1172.6 886.6h0M1225.3 898.8h0M1242.4 906.6h0M1252.5 912.2h0M1253.6 912.9h0M1257.8 925.5h0M1297.1 934.8h0M1308.8 941.0h0M1224.0 898.2h0M1260.0 929.8h0M1266.4 933.1h0M1274.6 924.3h0M1287.9 931.1h0M1293.2 940.3h0M1302.4 937.7h0M1318.9 947.6h0M1233.9 902.3h0M1246.1 925.6h0M1266.8 920.2h0M1289.6 934.2h0M1306.1 942.0h0M1285.7 935.4h0M1296.4 934.8h0M1306.1 939.8h0M1255.7 914.9h0M1272.8 923.2h0M1281.4 930.6h0M1276.1 927.4h0M1288.9 931.3h0M1301.1 941.2h0M1323.8 949.8h0M1353.8 956.8h0M1282.5 929.4h0M1288.9 931.5h0M1283.6 928.5h0M1314.0 941.5h0M1297.5 936.9h0M1312.5 941.3h0M1323.8 948.5h0M1337.1 950.9h0M1282.5 928.1h0M1262.6 926.9h0M1253.6 915.8h0M1247.1 910.0h0M1242.9 907.1h0M1245.0 923.8h0M1257.9 926.9h0M1256.8 926.5h0M1279.3 926.4h0M1272.8 922.8h0M1294.3 933.9h0M1292.1 932.9h0M1279.3 929.7h0M1293.2 933.2h0M1258.9 915.8h0M1228.9 907.3h0M1210.3 904.5h0M1201.1 891.0h0M1161.4 858.1h0M1127.1 842.9h0M1130.4 841.6h0M1102.5 837.9h0M1146.4 848.3h0M1171.1 884.8h0M1179.6 897.4h0M1181.8 870.7h0M1163.6 860.3h0M1219.3 893.6h0M1217.1 892.0h0M1200.0 888.2h0M840.1 698.9h0M865.2 693.1h0M873.8 697.4h0M862.4 725.1h0M883.0 745.6h0M888.8 749.3h0M885.1 761.7h0M896.3 761.7h0M903.8 783.1h0M914.5 746.7h0M901.0 726.1h0M919.4 763.6h0M925.2 800.1h0M930.6 756.8h0M938.1 761.1h0M931.6 768.6h0M919.4 732.1h0M924.1 737.5h0M941.7 779.9h0M947.7 746.1h0M955.2 786.8h0M961.6 788.9h0M968.1 793.2h0M949.8 797.5h0M953.1 798.6h0M950.9 807.1h0M965.9 763.2h0M972.4 776.1h0M970.2 784.6h0M976.6 799.6h0M982.0 803.9h0M972.4 811.4h0M975.6 820.0h0M980.9 813.6h0M987.3 811.4h0M986.3 815.7h0M997.0 801.8h0M1003.4 810.3h0M1014.1 805.0h0M1008.8 792.1h0M1016.3 820.0h0M1019.5 824.3h0M1005.6 835.0h0M1012.0 836.1h0M1019.5 836.1h0M997.0 847.8h0M1009.8 848.9h0M1018.4 849.6h0M1054.8 865.0h0M1097.7 881.1h0M1121.8 899.3h0M1098.2 881.1h0M1234.3 920.7h0M1246.1 923.9h0M1266.0 937.8h0M1280.3 941.1h0M1291.7 950.3h0M1309.3 945.3h0M1318.9 948.6h0M1324.3 942.1h0M1338.2 947.5h0" stroke="#000" stroke-width="9.2" stroke-linecap="round" fill="none"/>
<path d="M840.6 690.6L844.9 693.2L849.2 695.8L853.6 698.3L857.9 700.9L862.2 703.4L866.5 705.8L870.8 708.3L875.1 710.7L879.5 713.0L883.8 715.3L888.1 717.6L892.4 719.9L896.7 722.2L901.0 724.5L905.4 726.8L909.7 729.1L914.0 731.4L918.3 733.7L922.6 735.9L926.9 738.2L931.3 740.4L935.6 742.6L939.9 744.8L944.2 746.9L948.5 749.0L952.8 751.2L957.2 753.3L961.5 755.4L965.8 757.6L970.1 759.7L974.4 761.9L978.7 764.0L983.1 766.2L987.4 768.4L991.7 770.6L996.0 772.8L1000.3 775.0L1004.6 777.3L1009.0 779.5L1013.3 781.8L1017.6 784.0L1021.9 786.3L1026.2 788.6L1030.5 790.9L1034.9 793.2L1039.2 795.5L1043.5 797.8L1047.8 800.1L1052.1 802.4L1056.4 804.7L1060.8 807.1L1065.1 809.4L1069.4 811.8L1073.7 814.2L1078.0 816.5L1082.3 818.9L1086.7 821.3L1091.0 823.7L1095.3 826.1L1099.6 828.5L1103.9 830.9L1108.2 833.3L1112.6 835.7L1116.9 838.1L1121.2 840.5L1125.5 843.0L1129.8 845.4L1134.1 847.8L1138.5 850.2L1142.8 852.7L1147.1 855.1L1151.4 857.5L1155.7 859.9L1160.0 862.3L1164.4 864.7L1168.7 867.1L1173.0 869.5L1177.3 871.9L1181.6 874.3L1185.9 876.7L1190.3 879.0L1194.6 881.4L1198.9 883.7L1203.2 886.1L1207.5 888.4L1211.8 890.7L1216.2 892.9L1220.5 895.2L1224.8 897.4L1229.1 899.6L1233.4 901.8L1237.7 903.9L1242.1 906.0L1246.4 908.1L1250.7 910.2L1255.0 912.3L1259.3 914.3L1263.6 916.3L1268.0 918.2L1272.3 920.2L1276.6 922.1L1280.9 924.0L1285.2 925.8L1289.5 927.6L1293.9 929.4L1298.2 931.2L1302.5 932.9L1306.8 934.5L1311.1 936.1L1315.4 937.6L1319.8 939.0L1324.1 940.3L1328.4 941.6L1332.7 942.8L1337.0 943.9L1341.3 945.0L1345.7 946.1L1350.0 947.1L1354.3 948.1L1354.3 966.1L1350.0 964.1L1345.7 962.1L1341.3 960.0L1337.0 957.9L1332.7 955.8L1328.4 953.7L1324.1 951.6L1319.8 949.5L1315.4 947.4L1311.1 945.2L1306.8 943.2L1302.5 941.1L1298.2 939.1L1293.9 937.0L1289.5 934.9L1285.2 932.8L1280.9 930.7L1276.6 928.6L1272.3 926.4L1268.0 924.2L1263.6 922.0L1259.3 919.8L1255.0 917.6L1250.7 915.4L1246.4 913.1L1242.1 910.8L1237.7 908.6L1233.4 906.3L1229.1 904.0L1224.8 901.7L1220.5 899.4L1216.2 897.1L1211.8 894.7L1207.5 892.4L1203.2 890.1L1198.9 887.7L1194.6 885.4L1190.3 883.0L1185.9 880.7L1181.6 878.3L1177.3 875.9L1173.0 873.5L1168.7 871.1L1164.4 868.7L1160.0 866.3L1155.7 863.9L1151.4 861.5L1147.1 859.1L1142.8 856.7L1138.5 854.3L1134.1 851.9L1129.8 849.4L1125.5 847.0L1121.2 844.6L1116.9 842.2L1112.6 839.8L1108.2 837.4L1103.9 835.0L1099.6 832.6L1095.3 830.2L1091.0 827.8L1086.7 825.5L1082.3 823.1L1078.0 820.7L1073.7 818.4L1069.4 816.0L1065.1 813.7L1060.8 811.4L1056.4 809.0L1052.1 806.7L1047.8 804.4L1043.5 802.1L1039.2 799.8L1034.9 797.5L1030.5 795.3L1026.2 793.0L1021.9 790.8L1017.6 788.5L1013.3 786.3L1009.0 784.1L1004.6 781.8L1000.3 779.6L996.0 777.4L991.7 775.3L987.4 773.1L983.1 770.9L978.7 768.8L974.4 766.6L970.1 764.5L965.8 762.4L961.5 760.3L957.2 758.2L952.8 756.1L948.5 754.1L944.2 752.0L939.9 750.0L935.6 748.1L931.3 746.2L926.9 744.3L922.6 742.4L918.3 740.6L914.0 738.8L909.7 737.0L905.4 735.3L901.0 733.6L896.7 731.8L892.4 730.1L888.1 728.5L883.8 726.8L879.5 725.1L875.1 723.5L870.8 721.9L866.5 720.3L862.2 718.8L857.9 717.4L853.6 716.0L849.2 714.6L844.9 713.2L840.6 711.8Z" fill="#999" fill-opacity="0.4"/>
<path d="M840.6 701.2L844.9 703.2L849.2 705.2L853.6 707.1L857.9 709.1L862.2 711.1L866.5 713.1L870.8 715.1L875.1 717.1L879.5 719.1L883.8 721.0L888.1 723.0L892.4 725.0L896.7 727.0L901.0 729.1L905.4 731.1L909.7 733.1L914.0 735.1L918.3 737.1L922.6 739.2L926.9 741.2L931.3 743.3L935.6 745.3L939.9 747.4L944.2 749.5L948.5 751.6L952.8 753.6L957.2 755.7L961.5 757.9L965.8 760.0L970.1 762.1L974.4 764.3L978.7 766.4L983.1 768.6L987.4 770.8L991.7 772.9L996.0 775.1L1000.3 777.3L1004.6 779.6L1009.0 781.8L1013.3 784.0L1017.6 786.3L1021.9 788.5L1026.2 790.8L1030.5 793.1L1034.9 795.3L1039.2 797.6L1043.5 799.9L1047.8 802.2L1052.1 804.6L1056.4 806.9L1060.8 809.2L1065.1 811.6L1069.4 813.9L1073.7 816.3L1078.0 818.6L1082.3 821.0L1086.7 823.4L1091.0 825.8L1095.3 828.1L1099.6 830.5L1103.9 832.9L1108.2 835.3L1112.6 837.7L1116.9 840.2L1121.2 842.6L1125.5 845.0L1129.8 847.4L1134.1 849.8L1138.5 852.3L1142.8 854.7L1147.1 857.1L1151.4 859.5L1155.7 861.9L1160.0 864.3L1164.4 866.7L1168.7 869.1L1173.0 871.5L1177.3 873.9L1181.6 876.3L1185.9 878.7L1190.3 881.0L1194.6 883.4L1198.9 885.7L1203.2 888.1L1207.5 890.4L1211.8 892.7L1216.2 895.0L1220.5 897.3L1224.8 899.5L1229.1 901.8L1233.4 904.0L1237.7 906.2L1242.1 908.4L1246.4 910.6L1250.7 912.8L1255.0 914.9L1259.3 917.1L1263.6 919.2L1268.0 921.2L1272.3 923.3L1276.6 925.3L1280.9 927.3L1285.2 929.3L1289.5 931.3L1293.9 933.2L1298.2 935.1L1302.5 937.0L1306.8 938.8L1311.1 940.7L1315.4 942.5L1319.8 944.2L1324.1 945.9L1328.4 947.6L1332.7 949.3L1337.0 950.9L1341.3 952.5L1345.7 954.1L1350.0 955.6L1354.3 957.1" stroke="#3A60DA" stroke-width="2.5" fill="none"/>
<path d="M918.6 1022.5v9.5M1068.6 1022.5v9.5M1218.6 1022.5v9.5M1368.6 1022.5v9.5M793.1 961.5h9M793.1 876.7h9M793.1 792.0h9M793.1 707.2h9M793.1 622.5h9" stroke="#7F7F7F" stroke-width="2.2" fill="none"/>
<text x="918.6" y="1053.5" text-anchor="middle" class="tk">0.0</text>
<text x="1068.6" y="1053.5" text-anchor="middle" class="tk">2.5</text>
<text x="1218.6" y="1053.5" text-anchor="middle" class="tk">5.0</text>
<text x="1368.6" y="1053.5" text-anchor="middle" class="tk">7.5</text>
<text x="786.5" y="969.4" text-anchor="end" class="tk">500</text>
<text x="786.5" y="884.6" text-anchor="end" class="tk">600</text>
<text x="786.5" y="799.9" text-anchor="end" class="tk">700</text>
<text x="786.5" y="715.1" text-anchor="end" class="tk">800</text>
<text x="786.5" y="630.4" text-anchor="end" class="tk">900</text>
<text transform="translate(1098.5,595.9) scale(1.0,1.02)" text-anchor="middle" class="tt">ML RTs (LN)</text>
<text transform="translate(1098.5,1079.3) scale(1,1.04)" text-anchor="middle" class="at">LN Freq of Occurrences per Million</text>
<text transform="translate(745.1,813.3) rotate(-90) scale(1.06,1.04)" text-anchor="middle" class="at">RTs</text>
<rect x="83.3" y="1173.3" width="592.7" height="418.4" fill="#E1E1E1"/>
<path d="M183.4 1173.3V1591.7M330.4 1173.3V1591.7M477.4 1173.3V1591.7M624.4 1173.3V1591.7M83.3 1572.6H676.0M83.3 1445.6H676.0M83.3 1318.6H676.0M83.3 1191.6H676.0" stroke="#F0F0F0" stroke-width="1.5" fill="none"/>
<path d="M109.9 1173.3V1591.7M256.9 1173.3V1591.7M403.9 1173.3V1591.7M550.9 1173.3V1591.7M83.3 1509.1H676.0M83.3 1382.1H676.0M83.3 1255.1H676.0" stroke="#fff" stroke-width="3" fill="none"/>
<path d="M354.6 1493.8h0M443.7 1527.2h0M316.6 1471.4h0M456.1 1532.2h0M318.6 1476.6h0M375.3 1503.0h0M341.1 1485.7h0M292.8 1453.7h0M487.9 1538.4h0M353.2 1492.0h0M449.7 1529.1h0M490.5 1538.3h0M338.6 1484.1h0M229.8 1389.1h0M396.5 1514.9h0M325.9 1477.5h0M484.5 1536.8h0M305.1 1470.6h0M442.2 1526.5h0M247.4 1425.8h0M335.5 1483.1h0M314.8 1483.1h0M477.5 1535.5h0M413.2 1517.3h0M427.3 1522.1h0M275.3 1440.8h0M345.3 1488.8h0M490.9 1538.3h0M416.4 1519.0h0M451.3 1529.9h0M391.2 1515.3h0M317.3 1470.8h0M498.8 1540.4h0M333.6 1485.7h0M306.7 1464.2h0M424.8 1521.9h0M277.0 1441.9h0M453.0 1530.4h0M439.9 1526.8h0M363.5 1496.5h0M394.3 1511.8h0M387.8 1507.6h0M272.0 1436.0h0M274.2 1449.2h0M356.1 1493.9h0M231.0 1399.5h0M311.4 1467.8h0M359.3 1498.0h0M419.7 1519.8h0M394.4 1510.5h0M307.8 1465.2h0M451.7 1529.6h0M460.9 1532.2h0M428.0 1523.9h0M434.1 1527.8h0M330.8 1479.8h0M473.3 1534.7h0M410.0 1517.9h0M309.0 1478.6h0M433.2 1523.9h0M419.7 1521.3h0M406.3 1516.8h0M384.2 1506.4h0M453.6 1529.6h0M444.4 1527.0h0M410.9 1516.7h0M268.7 1438.6h0M324.9 1476.1h0M533.3 1545.7h0M368.1 1499.5h0M421.0 1520.3h0M294.2 1454.8h0M406.9 1515.7h0M415.4 1518.4h0M452.4 1529.2h0M525.7 1544.4h0M380.7 1507.4h0M346.3 1490.8h0M303.5 1462.0h0M351.7 1491.9h0M377.8 1503.5h0M522.6 1543.8h0M393.4 1509.8h0M431.0 1523.2h0M445.2 1527.1h0M238.4 1400.3h0M325.2 1488.1h0M399.9 1513.6h0M264.2 1430.7h0M300.6 1459.5h0M450.0 1528.9h0M430.7 1526.6h0M296.6 1457.1h0M289.3 1460.0h0M474.8 1536.2h0M384.5 1506.8h0M347.2 1492.8h0M441.7 1526.4h0M429.5 1524.2h0M554.9 1548.5h0M283.9 1446.4h0M454.0 1530.3h0M381.7 1505.1h0M329.4 1481.6h0M390.4 1513.6h0M243.9 1412.3h0M291.7 1453.3h0M285.9 1449.0h0M435.1 1525.3h0M439.0 1526.4h0M328.2 1480.2h0M344.9 1488.9h0M455.1 1529.8h0M364.6 1498.3h0M355.2 1493.0h0M512.3 1542.5h0M400.9 1512.9h0M399.5 1512.1h0M415.8 1518.6h0M256.3 1421.1h0M367.3 1506.1h0M459.3 1531.0h0M425.3 1522.3h0M490.0 1538.4h0M345.8 1487.5h0M385.2 1506.7h0M325.7 1477.7h0M311.4 1467.9h0M278.9 1442.2h0M315.4 1471.3h0M304.8 1467.2h0M376.7 1503.1h0M370.2 1501.9h0M452.9 1531.3h0M456.5 1530.9h0M400.1 1513.7h0M426.6 1523.7h0M383.6 1506.1h0M345.7 1489.0h0M391.6 1509.0h0M420.6 1523.6h0M517.2 1543.0h0M467.0 1532.8h0M268.5 1433.5h0M422.7 1521.8h0M278.9 1443.7h0M418.5 1519.6h0M476.7 1535.9h0M436.8 1526.5h0M289.9 1451.5h0M373.2 1506.6h0M314.3 1470.7h0M427.5 1521.8h0M439.6 1525.8h0M446.1 1528.5h0M357.1 1494.1h0M412.9 1519.8h0M318.1 1474.8h0M505.2 1541.1h0M508.9 1542.1h0M250.3 1414.1h0M405.2 1514.7h0M441.4 1529.0h0M324.6 1477.5h0M251.9 1418.6h0M224.0 1382.7h0M438.7 1526.0h0M237.2 1399.1h0M364.3 1506.1h0M461.9 1532.2h0M262.0 1426.9h0M438.6 1525.4h0M374.9 1507.4h0M365.1 1498.4h0M387.2 1508.5h0M356.0 1492.8h0M480.6 1536.3h0M429.8 1522.7h0M364.6 1501.9h0M290.2 1451.5h0M391.8 1512.5h0M573.7 1550.8h0M490.6 1539.1h0M269.1 1434.6h0M357.0 1500.2h0M383.8 1506.0h0M368.8 1504.7h0M287.1 1449.6h0M311.7 1473.3h0M398.7 1512.0h0M442.1 1526.6h0M441.0 1525.9h0M430.2 1522.8h0M430.7 1524.8h0M233.4 1394.4h0M321.0 1473.7h0M352.3 1491.0h0M331.6 1483.3h0M364.7 1498.3h0M367.4 1498.7h0M353.0 1492.1h0M235.4 1406.3h0M481.6 1537.0h0M518.2 1544.4h0M417.0 1519.0h0M336.0 1482.4h0M379.4 1503.9h0M498.1 1540.0h0M413.3 1517.2h0M436.2 1526.3h0M437.0 1526.4h0M535.1 1546.0h0M426.2 1521.5h0M285.7 1448.8h0M392.1 1509.5h0M502.1 1540.4h0M293.4 1454.1h0M261.3 1426.2h0M260.9 1425.8h0M270.0 1435.2h0M304.7 1471.8h0M454.7 1530.4h0M413.3 1517.3h0M444.8 1527.1h0M403.6 1514.4h0M356.5 1494.2h0M458.7 1530.9h0M306.6 1463.7h0M357.9 1496.3h0M371.2 1501.4h0M432.2 1523.4h0M452.1 1529.3h0M405.9 1516.2h0M415.3 1518.2h0M338.2 1483.4h0M411.9 1516.6h0M474.8 1535.0h0M376.8 1504.0h0M449.8 1528.5h0M392.7 1510.4h0M393.7 1509.9h0M415.3 1521.5h0M297.0 1464.8h0M320.2 1473.0h0M308.4 1469.0h0M398.8 1511.7h0M429.6 1525.0h0M438.8 1525.4h0M318.2 1472.2h0M351.6 1491.0h0M299.0 1459.3h0M425.9 1524.6h0M372.4 1501.1h0M336.0 1482.2h0M322.9 1475.6h0M514.1 1542.6h0M386.6 1507.9h0M547.7 1547.6h0M348.5 1489.1h0M320.3 1473.4h0M440.9 1526.6h0M498.1 1539.5h0M304.8 1462.5h0M480.6 1537.4h0M410.5 1516.3h0M495.2 1539.8h0M512.7 1542.7h0M373.9 1501.8h0M510.2 1541.8h0M309.9 1466.8h0M377.9 1503.2h0M377.7 1503.8h0M328.5 1478.6h0M387.1 1507.2h0M450.0 1529.8h0M285.7 1464.5h0M386.5 1506.9h0M396.6 1511.6h0M314.7 1469.2h0M423.2 1520.4h0M330.6 1479.0h0M406.8 1514.9h0M407.0 1519.0h0M449.1 1529.6h0M507.4 1541.2h0M503.6 1541.3h0M391.3 1510.9h0M333.3 1481.7h0M327.7 1482.1h0M458.7 1531.1h0M451.9 1530.6h0M460.8 1531.3h0M471.9 1534.6h0M405.5 1515.1h0M492.7 1539.3h0M426.7 1522.8h0M420.7 1519.8h0M472.9 1534.6h0M425.5 1522.8h0M453.9 1530.3h0M505.2 1541.3h0M366.5 1499.0h0M449.6 1531.0h0M342.7 1486.5h0M387.7 1508.4h0M484.4 1536.7h0M529.0 1545.7h0M513.3 1542.5h0M451.3 1529.3h0M476.4 1535.9h0M488.1 1538.0h0M415.7 1521.3h0M328.1 1483.5h0M241.8 1404.2h0M452.2 1529.3h0M452.0 1529.3h0M444.6 1527.3h0M408.9 1515.8h0M426.9 1522.1h0M441.5 1526.8h0M398.0 1511.7h0M427.0 1523.4h0M322.7 1478.4h0M398.6 1512.5h0M420.0 1523.0h0M406.3 1515.6h0M331.8 1484.1h0M292.5 1453.9h0M426.1 1522.8h0M287.3 1449.9h0M460.8 1531.5h0M310.4 1466.5h0M454.9 1529.8h0M356.9 1493.9h0M494.1 1538.8h0M323.1 1477.7h0M302.8 1462.7h0M431.0 1526.2h0M455.4 1530.5h0M355.4 1492.9h0M384.4 1506.8h0M427.8 1522.0h0M341.9 1487.4h0M364.9 1497.3h0M405.7 1517.6h0M343.8 1487.3h0M299.0 1458.6h0M496.8 1539.8h0M291.0 1460.1h0M541.6 1546.7h0M475.2 1534.8h0M378.6 1503.9h0M480.2 1537.3h0M267.4 1433.3h0M404.9 1514.2h0M356.4 1494.1h0M343.3 1486.2h0M491.7 1538.8h0M254.8 1432.6h0M480.7 1536.4h0M273.8 1437.7h0M431.5 1523.1h0M339.4 1485.6h0M396.9 1515.9h0M503.3 1540.8h0M461.7 1531.5h0M282.2 1446.4h0M344.4 1495.4h0M388.1 1507.9h0M441.1 1526.3h0M229.8 1389.1h0M481.3 1536.6h0M474.4 1535.1h0M517.9 1543.0h0M316.4 1471.7h0M319.6 1484.6h0M471.7 1535.3h0M394.2 1510.5h0M328.6 1478.0h0M241.2 1408.9h0M320.5 1475.1h0M431.0 1524.4h0M445.1 1529.4h0M356.6 1494.5h0M500.2 1540.7h0M393.0 1512.5h0M394.8 1510.2h0M366.3 1497.9h0M368.3 1499.3h0M357.7 1495.4h0M469.3 1534.6h0M377.0 1502.8h0M324.7 1477.2h0M375.9 1502.2h0M503.4 1540.5h0M422.4 1521.0h0M284.5 1447.1h0M372.1 1500.9h0M383.2 1508.2h0M238.7 1401.1h0M520.9 1543.8h0M499.7 1540.3h0M283.1 1446.3h0M402.6 1514.1h0M346.3 1488.5h0M319.2 1473.8h0M336.4 1483.3h0M262.4 1428.2h0M434.1 1524.2h0M359.6 1494.9h0M436.9 1524.8h0M466.6 1534.2h0M407.2 1515.9h0M354.0 1496.1h0M297.0 1456.8h0M425.4 1521.5h0M430.9 1523.1h0M457.3 1530.7h0M296.3 1456.6h0M258.8 1423.0h0M486.3 1537.1h0M414.9 1517.9h0M280.2 1443.6h0M439.2 1525.6h0M263.7 1428.0h0M420.8 1520.3h0M403.2 1513.5h0M440.7 1525.8h0M280.1 1449.0h0M496.8 1540.1h0M509.9 1542.4h0M539.0 1546.7h0M453.4 1529.4h0M346.1 1493.2h0M533.0 1545.7h0M416.7 1518.8h0M441.5 1527.1h0M427.7 1522.2h0M317.7 1472.0h0M477.8 1535.5h0M424.3 1521.4h0M321.8 1473.8h0M362.3 1498.5h0M298.2 1458.4h0M375.3 1509.9h0M545.1 1547.2h0M363.7 1496.8h0M366.5 1498.8h0M463.2 1532.2h0M275.5 1439.4h0M289.9 1456.5h0M448.3 1528.3h0M293.7 1457.6h0M416.0 1518.2h0M467.0 1533.7h0M405.0 1514.1h0M274.4 1447.3h0M317.6 1473.6h0M400.0 1514.2h0M516.7 1542.9h0M425.9 1521.4h0M436.2 1524.6h0M412.4 1517.0h0M349.6 1489.7h0M415.2 1518.1h0M234.5 1395.4h0M370.9 1504.6h0M465.7 1532.6h0M317.0 1480.8h0M424.6 1521.6h0M442.0 1527.1h0M302.5 1469.5h0M479.3 1536.6h0M328.2 1478.4h0M521.7 1544.5h0M354.2 1492.0h0M416.1 1518.0h0M513.9 1544.2h0M467.9 1533.3h0M387.6 1508.4h0M314.1 1470.5h0M416.8 1518.6h0M410.6 1517.3h0M267.3 1434.7h0M363.4 1497.6h0M501.5 1540.2h0M396.7 1511.6h0M310.1 1466.8h0M423.6 1520.8h0M380.2 1505.7h0M498.8 1540.5h0M388.5 1508.2h0M247.7 1411.2h0M304.0 1463.9h0M308.4 1465.8h0M515.2 1543.2h0M357.8 1493.7h0M355.3 1493.3h0M531.0 1546.2h0M317.5 1474.7h0M418.5 1519.6h0M513.4 1542.2h0M497.3 1540.8h0M303.7 1462.3h0M384.2 1506.6h0M330.4 1479.3h0M437.0 1525.4h0M328.8 1485.2h0M308.8 1466.4h0M335.8 1482.8h0M293.9 1455.2h0M441.0 1525.9h0M337.8 1488.6h0M367.6 1499.7h0M336.7 1482.6h0M362.8 1496.3h0M344.4 1487.5h0M356.4 1493.0h0M439.2 1525.4h0M307.9 1465.3h0M433.8 1524.2h0M354.9 1502.8h0M279.9 1444.1h0M290.0 1451.5h0M493.8 1539.6h0M256.7 1421.6h0M336.9 1483.1h0M481.1 1536.0h0M274.1 1439.0h0M318.9 1478.7h0M334.9 1482.7h0M472.6 1535.5h0M288.5 1450.5h0M512.3 1542.3h0M290.0 1461.1h0M405.6 1515.5h0M455.3 1530.0h0M404.0 1515.6h0M392.5 1513.8h0M376.4 1503.1h0M330.6 1480.8h0M550.7 1548.3h0M368.5 1506.7h0M422.6 1522.6h0M409.4 1515.7h0M521.2 1543.9h0M328.2 1478.0h0M302.0 1460.8h0M493.3 1538.6h0M392.9 1509.4h0M422.9 1521.3h0M419.2 1519.2h0M457.6 1531.1h0M473.2 1535.0h0M437.3 1525.7h0M228.9 1392.2h0M473.0 1535.2h0M257.0 1432.4h0M479.3 1535.8h0M221.6 1382.8h0M455.6 1530.6h0M422.4 1520.5h0M247.6 1411.8h0M450.3 1529.1h0M408.8 1516.0h0M290.4 1452.5h0M485.5 1538.2h0M411.4 1516.8h0M382.2 1505.3h0M512.2 1542.1h0M316.6 1470.4h0M308.6 1474.3h0M490.9 1539.6h0M303.7 1462.6h0M467.3 1533.9h0M318.6 1477.3h0M466.2 1532.7h0M369.5 1499.7h0M417.4 1522.6h0M415.1 1521.5h0M366.3 1498.0h0M395.0 1511.4h0M424.9 1522.5h0M295.8 1462.4h0M499.6 1541.0h0M468.9 1534.5h0M318.1 1472.2h0M323.0 1475.5h0M366.2 1498.5h0M454.8 1530.1h0M394.6 1510.1h0M346.9 1488.1h0M454.0 1529.8h0M314.4 1469.1h0M439.1 1525.5h0M450.3 1528.6h0M283.3 1457.7h0M406.6 1515.3h0M412.0 1517.4h0M527.3 1545.3h0M342.8 1487.2h0M381.6 1509.7h0M507.9 1541.4h0M293.8 1454.8h0M492.5 1538.4h0M359.3 1495.2h0M354.0 1494.6h0M556.9 1548.7h0M365.3 1498.0h0M329.1 1485.8h0M317.9 1472.6h0M435.9 1526.4h0M421.7 1520.0h0M326.9 1476.8h0M389.7 1516.0h0M339.6 1484.6h0M473.0 1534.6h0M357.4 1493.8h0M417.0 1522.7h0M498.7 1540.2h0M326.8 1478.1h0M515.7 1543.3h0M387.5 1508.3h0M422.7 1522.7h0M335.8 1482.2h0M435.6 1525.8h0M442.8 1526.7h0M411.6 1517.1h0M480.8 1536.2h0M384.3 1507.2h0M239.6 1403.2h0M498.6 1539.9h0M406.1 1518.3h0M416.9 1521.5h0M413.1 1517.6h0M256.3 1422.3h0M339.9 1493.5h0M278.4 1451.3h0M425.0 1521.4h0M478.3 1535.5h0M427.5 1522.1h0M466.1 1533.4h0M351.3 1490.6h0M251.0 1415.5h0M369.8 1499.8h0M306.3 1465.6h0M344.4 1487.4h0M326.8 1477.0h0M310.0 1466.2h0M434.0 1523.9h0M412.9 1517.5h0M468.8 1535.0h0M538.5 1547.5h0M326.4 1479.4h0M508.8 1542.5h0M453.8 1529.8h0M405.0 1514.3h0M528.3 1545.3h0M393.6 1511.7h0M249.1 1413.0h0M291.8 1454.0h0M346.4 1487.9h0M436.1 1525.1h0M405.8 1514.7h0M432.9 1524.9h0M242.6 1405.3h0M329.3 1478.6h0M403.2 1515.2h0M426.0 1521.4h0M375.1 1505.4h0M321.0 1473.5h0M345.6 1487.5h0M452.1 1529.0h0M441.3 1526.8h0M329.1 1479.8h0M514.9 1543.4h0M257.7 1424.8h0M325.6 1477.8h0M376.5 1503.8h0M463.6 1532.5h0M405.5 1515.2h0M431.1 1523.2h0M515.2 1543.0h0M359.7 1500.3h0M310.2 1472.9h0M369.8 1509.4h0M405.1 1514.3h0M295.1 1455.6h0M255.0 1419.3h0M443.4 1526.9h0M544.0 1547.3h0M505.9 1541.6h0M361.9 1498.6h0M380.3 1507.5h0M470.5 1533.7h0M539.2 1546.7h0M357.0 1496.0h0M515.6 1543.6h0M436.7 1524.8h0M299.5 1470.4h0M379.4 1507.0h0M225.9 1384.4h0M369.3 1503.4h0M396.1 1512.5h0M461.8 1531.6h0M350.8 1492.2h0M424.9 1521.1h0M428.1 1522.4h0M396.3 1511.2h0M416.5 1520.0h0M381.6 1506.0h0M415.8 1519.6h0M381.8 1504.8h0M498.0 1540.1h0M287.5 1460.7h0M481.3 1536.3h0M448.1 1528.7h0M236.2 1397.6h0M441.6 1526.3h0M358.6 1505.3h0M392.4 1511.6h0M394.8 1510.3h0M445.6 1528.1h0M387.7 1507.6h0M421.7 1520.1h0M321.3 1473.3h0M270.3 1447.7h0M429.3 1526.1h0M543.7 1547.5h0M273.3 1438.3h0M497.6 1539.6h0M363.8 1496.8h0M425.8 1521.9h0M334.2 1481.6h0M434.9 1524.8h0M376.0 1504.2h0M461.0 1532.4h0M337.1 1484.5h0M351.4 1491.2h0M419.3 1519.3h0M284.6 1447.1h0M530.3 1545.6h0M415.1 1522.5h0M528.1 1544.7h0M309.2 1477.2h0M439.2 1526.7h0M316.2 1470.3h0M275.6 1447.2h0M377.7 1503.1h0M384.2 1506.3h0M403.9 1514.3h0M383.1 1505.7h0M314.4 1469.0h0M432.7 1524.6h0M334.2 1481.0h0M340.6 1489.3h0M457.4 1532.0h0M432.6 1523.4h0M443.6 1527.6h0M501.9 1541.2h0M477.7 1535.9h0M321.4 1478.2h0M531.0 1545.1h0M395.4 1512.2h0M404.0 1514.6h0M337.5 1483.1h0M364.6 1498.7h0M403.8 1518.0h0M252.2 1419.1h0M441.9 1527.0h0M355.3 1493.3h0M435.0 1525.3h0M444.9 1528.8h0M417.7 1521.8h0M272.1 1447.5h0M405.1 1514.3h0M356.6 1493.7h0M440.6 1526.6h0M439.7 1526.3h0M391.4 1510.3h0M444.7 1529.6h0M298.2 1458.3h0M466.9 1532.8h0M525.9 1544.3h0M493.8 1540.0h0M465.7 1534.3h0M368.8 1500.1h0M506.4 1541.7h0M404.9 1514.3h0M320.1 1474.1h0M400.4 1513.3h0M477.1 1536.5h0M431.7 1523.1h0M471.7 1534.7h0M253.1 1417.2h0M526.3 1546.1h0M502.2 1540.9h0M391.5 1509.0h0M502.5 1540.4h0M310.3 1466.7h0M359.2 1494.7h0M306.4 1463.9h0M429.7 1522.6h0M500.2 1540.0h0M505.9 1542.7h0M274.3 1449.9h0M454.0 1529.8h0M404.1 1516.3h0M321.8 1478.4h0M491.7 1539.5h0M397.3 1513.5h0M256.8 1421.4h0M361.8 1501.3h0M432.7 1523.5h0M477.1 1536.6h0M315.4 1470.0h0M411.6 1517.2h0M277.1 1441.9h0M498.0 1539.5h0M234.7 1405.1h0M527.1 1544.9h0M405.6 1516.5h0M449.8 1530.8h0M429.6 1522.6h0M392.1 1509.3h0M376.5 1503.4h0M318.0 1471.9h0M339.6 1484.6h0M280.2 1443.2h0M334.8 1481.6h0M426.0 1522.0h0M402.5 1513.8h0M406.0 1515.6h0M397.4 1517.1h0M512.4 1542.3h0M476.9 1535.6h0M333.7 1481.7h0M403.7 1514.2h0M525.7 1544.2h0M334.6 1492.7h0M437.3 1528.2h0M424.5 1523.6h0M429.6 1524.8h0M403.6 1517.5h0M447.0 1529.9h0M361.7 1496.0h0M508.3 1541.9h0M406.0 1514.5h0M352.6 1492.0h0M422.4 1522.0h0M433.5 1523.8h0M500.9 1541.9h0M421.7 1520.7h0M395.9 1512.3h0M356.3 1493.1h0M373.6 1502.9h0M339.6 1484.5h0M418.1 1519.9h0M480.4 1535.9h0M411.8 1517.2h0M316.6 1481.9h0M253.8 1417.8h0M485.9 1537.9h0M341.9 1486.4h0M434.3 1524.2h0M512.3 1542.1h0M509.7 1541.7h0M403.2 1517.8h0M498.5 1540.8h0M368.2 1499.1h0M510.0 1541.6h0M431.9 1523.2h0M274.5 1438.3h0M465.7 1532.9h0M303.8 1462.3h0M563.7 1550.0h0M260.4 1425.6h0M451.1 1529.6h0M301.2 1460.3h0M399.9 1512.5h0M360.9 1498.7h0M485.0 1536.9h0M336.3 1488.5h0M441.9 1527.5h0M509.8 1541.6h0M267.4 1432.0h0M440.4 1525.8h0M276.0 1439.8h0M456.7 1530.6h0M479.1 1536.6h0M296.8 1456.7h0M488.0 1539.6h0M376.5 1502.5h0M345.2 1487.8h0M523.4 1544.1h0M363.8 1496.7h0M318.6 1475.4h0M350.6 1491.5h0M495.4 1539.4h0M538.3 1546.1h0M380.5 1505.5h0M389.4 1512.1h0M413.0 1517.2h0M473.7 1534.5h0M234.0 1395.3h0M461.2 1531.7h0M528.3 1544.7h0M368.8 1499.9h0M376.4 1503.1h0M518.7 1543.8h0M369.2 1506.6h0M362.0 1495.9h0M479.8 1535.9h0M384.7 1506.5h0M424.3 1521.4h0M339.6 1493.6h0M432.2 1525.2h0M359.9 1496.2h0M457.9 1530.9h0M389.1 1509.7h0M500.9 1540.3h0M401.6 1513.1h0M479.2 1536.9h0M377.1 1503.1h0M429.6 1525.0h0M334.5 1481.7h0M410.3 1518.2h0M428.1 1526.2h0M313.0 1469.1h0M400.7 1514.8h0M501.9 1540.7h0M316.2 1472.0h0M388.1 1508.1h0M473.0 1534.8h0M373.7 1502.2h0M250.1 1413.7h0M396.6 1511.6h0M382.1 1505.0h0M504.3 1541.4h0M428.3 1522.2h0M456.1 1531.2h0M359.9 1504.5h0M492.3 1538.5h0M470.4 1534.1h0M278.9 1450.4h0M427.6 1522.1h0M495.3 1539.8h0M425.1 1521.7h0M527.3 1544.6h0M332.9 1484.1h0M410.6 1516.4h0M398.4 1514.2h0M341.9 1492.7h0M457.4 1531.1h0M374.9 1502.0h0M424.9 1521.0h0M457.6 1531.2h0M443.7 1527.9h0M282.7 1447.1h0M263.2 1431.0h0M468.0 1533.3h0M425.1 1524.4h0M299.7 1460.1h0M293.6 1454.3h0M390.3 1508.8h0M309.1 1466.3h0M505.5 1541.6h0M322.6 1475.0h0M511.5 1542.1h0M440.8 1526.2h0M403.4 1513.7h0M430.0 1524.7h0M435.1 1524.9h0M339.3 1495.7h0M388.1 1508.5h0M268.4 1434.0h0M259.7 1423.9h0M511.4 1542.1h0M477.0 1535.9h0M450.3 1530.5h0M284.1 1446.6h0M418.9 1519.0h0M440.7 1525.9h0M374.7 1503.9h0M362.3 1496.8h0M443.4 1528.7h0M235.3 1397.7h0M384.1 1508.6h0M331.6 1486.7h0M377.8 1503.4h0M402.7 1513.9h0M372.4 1509.9h0M485.5 1537.0h0M487.2 1538.1h0M451.8 1529.7h0M460.9 1531.3h0M391.0 1509.3h0M335.6 1482.0h0M466.7 1533.4h0M288.8 1457.5h0M412.1 1518.0h0M421.1 1519.8h0M286.0 1454.8h0M317.0 1480.8h0M430.3 1523.9h0M479.3 1535.7h0M365.4 1507.5h0M397.9 1514.1h0M439.0 1525.8h0M409.3 1515.7h0M382.3 1506.0h0M422.2 1521.5h0M439.4 1527.4h0M462.7 1532.8h0M404.6 1514.7h0M427.6 1522.3h0M314.3 1469.0h0M304.1 1462.0h0M465.1 1532.6h0M322.5 1483.4h0M376.3 1503.2h0M488.3 1537.5h0M299.3 1458.9h0M431.8 1523.2h0M329.5 1478.4h0M419.4 1519.8h0M467.0 1533.0h0M468.1 1534.9h0M456.4 1530.1h0M394.9 1510.5h0M400.7 1512.6h0M307.3 1471.7h0M288.8 1451.9h0M448.8 1528.8h0M261.8 1426.4h0M506.4 1541.0h0M311.5 1472.5h0M441.9 1529.6h0M378.7 1506.5h0M416.3 1519.1h0M451.0 1530.6h0M342.1 1485.7h0M469.5 1533.4h0M450.7 1529.6h0M408.9 1516.4h0M407.6 1516.5h0M363.7 1497.4h0M525.8 1544.5h0M364.6 1497.6h0M327.4 1479.7h0M404.0 1516.6h0M501.6 1540.6h0M503.6 1541.3h0M408.4 1515.4h0M365.7 1503.5h0M448.6 1529.2h0M404.1 1514.5h0M468.8 1533.9h0M471.8 1534.8h0M437.6 1525.4h0M528.5 1544.7h0M424.7 1523.1h0M529.9 1545.1h0M425.5 1521.2h0M321.0 1476.9h0M419.8 1520.5h0M453.9 1529.8h0M373.0 1501.1h0M306.0 1463.3h0M356.0 1493.8h0M457.4 1531.6h0M318.0 1478.2h0M236.4 1399.8h0M486.2 1537.8h0M527.7 1545.8h0M482.9 1537.2h0M462.7 1531.8h0M444.3 1529.2h0M402.4 1513.1h0M425.5 1523.0h0M448.4 1529.9h0M350.3 1490.0h0M317.3 1472.0h0M435.5 1524.9h0M414.2 1518.6h0M546.4 1548.0h0M371.0 1505.7h0M370.9 1500.7h0M290.8 1452.6h0M239.5 1412.7h0M296.8 1457.1h0M411.6 1516.5h0M522.4 1544.3h0M287.6 1452.3h0M303.6 1461.8h0M432.6 1525.5h0M343.6 1486.5h0M258.6 1433.6h0M489.2 1538.4h0M300.0 1461.4h0M376.1 1504.0h0M450.5 1528.9h0M457.0 1530.3h0M517.7 1543.3h0M411.7 1518.1h0M299.7 1459.9h0M274.5 1438.3h0M423.4 1520.9h0M398.8 1512.3h0M329.7 1478.4h0M305.1 1463.4h0M355.6 1499.8h0M340.0 1485.4h0M356.6 1493.8h0M355.9 1496.1h0M450.0 1529.7h0M382.0 1505.4h0M476.2 1536.3h0M391.3 1509.5h0M340.6 1486.8h0M502.9 1540.4h0M425.4 1522.2h0M474.7 1534.7h0M325.2 1476.6h0M528.8 1544.9h0M421.5 1519.9h0M361.5 1496.0h0M330.2 1479.2h0M282.1 1460.1h0M251.8 1427.8h0M314.5 1469.4h0M345.6 1487.8h0M397.8 1512.0h0M367.1 1507.2h0M258.5 1423.2h0M298.5 1458.9h0M242.3 1405.4h0M255.9 1419.9h0M342.4 1485.9h0M422.3 1520.6h0M301.4 1460.1h0M487.8 1538.3h0M542.1 1546.8h0M416.9 1520.3h0M259.9 1437.1h0M310.2 1467.9h0M393.3 1510.3h0M507.4 1541.9h0M536.1 1546.6h0M446.1 1527.6h0M490.1 1538.0h0M281.4 1444.2h0M392.5 1509.6h0M385.8 1507.8h0M320.5 1474.0h0M405.3 1514.4h0M405.0 1519.3h0M527.5 1545.1h0M268.7 1446.2h0M342.9 1487.4h0M307.0 1465.4h0M322.4 1479.3h0M347.7 1495.2h0M360.1 1496.2h0M518.6 1544.3h0M350.3 1490.3h0M387.1 1507.6h0M305.4 1475.1h0M321.7 1474.9h0M320.6 1474.1h0M406.4 1517.0h0M343.3 1486.2h0M337.3 1485.5h0M396.2 1511.7h0M240.8 1407.1h0M481.1 1536.9h0M261.4 1425.7h0M370.2 1499.7h0M543.7 1547.9h0M306.1 1463.6h0M258.3 1431.7h0M387.6 1510.3h0M420.5 1524.4h0M363.3 1497.0h0M321.5 1478.0h0M434.8 1524.6h0M411.1 1517.1h0M354.8 1492.7h0M417.0 1518.8h0M473.8 1534.9h0M394.2 1509.9h0M364.6 1500.4h0M417.0 1519.9h0M392.0 1513.7h0M282.0 1457.5h0M494.8 1538.9h0M291.6 1453.0h0M447.5 1527.8h0M375.4 1502.3h0M457.9 1532.2h0M250.1 1424.7h0M185.4 1329.7h0M189.1 1340.1h0M197.6 1346.8h0M194.4 1342.2h0M209.4 1366.0h0M188.6 1339.5h0M210.9 1368.5h0M200.9 1351.7h0M210.9 1364.7h0M211.6 1365.9h0M213.1 1369.0h0M222.7 1380.0h0M229.8 1392.8h0M229.8 1389.4h0M238.8 1401.6h0M240.5 1402.4h0M241.6 1404.8h0M254.8 1419.0h0M263.0 1443.4h0M274.1 1438.0h0M327.3 1477.0h0M324.5 1476.2h0M375.5 1502.4h0M299.8 1458.9h0M291.9 1453.5h0M295.1 1455.3h0M317.0 1472.3h0M316.1 1471.4h0M267.3 1431.7h0M343.3 1486.7h0M222.7 1380.4h0M239.0 1401.7h0M236.2 1397.2h0M241.6 1420.8h0M252.3 1416.4h0M198.1 1348.8h0M221.2 1387.2h0M233.6 1395.2h0M213.1 1367.5h0M225.5 1384.0h0M235.1 1413.3h0M188.6 1334.4h0M221.2 1378.9h0M204.1 1356.8h0M198.1 1347.7h0M213.1 1367.8h0M228.1 1388.7h0M263.6 1437.7h0M277.6 1448.3h0M295.6 1455.9h0M324.5 1475.5h0M328.8 1481.4h0M351.3 1490.5h0M365.8 1498.2h0M379.8 1504.5h0M447.9 1530.2h0M401.4 1513.4h0M381.1 1506.1h0M430.4 1522.8h0M443.6 1528.5h0M402.5 1516.5h0M501.7 1541.4h0M521.0 1543.7h0M471.7 1535.1h0M461.0 1532.7h0M543.9 1547.1h0M544.6 1547.9h0M518.2 1543.2h0M513.9 1542.7h0M502.6 1540.4h0M474.3 1534.5h0M480.7 1536.4h0M475.4 1535.0h0M576.7 1551.2h0M581.0 1551.7h0M554.6 1548.5h0M562.6 1550.3h0M558.3 1549.0h0M546.7 1547.5h0M538.6 1546.4h0M531.7 1545.2h0M549.9 1548.9h0M562.8 1549.5h0M542.2 1546.8h0M555.7 1549.2h0M561.1 1549.4h0M614.6 1555.1h0M574.3 1550.9h0M557.8 1549.3h0M582.5 1551.8h0M586.8 1552.5h0M543.9 1547.8h0M530.0 1545.1h0M511.8 1542.6h0M547.1 1548.1h0M553.1 1548.5h0M566.4 1550.1h0M570.3 1550.5h0M558.9 1549.1h0M563.2 1550.1h0M542.8 1547.3h0M538.6 1546.3h0M532.1 1545.7h0M550.3 1547.8h0M553.6 1549.9h0M594.3 1553.7h0M584.6 1551.9h0M584.6 1553.5h0M584.6 1552.4h0M595.4 1553.1h0M595.4 1553.1h0M542.8 1547.3h0M509.6 1542.2h0M511.1 1542.2h0M418.1 1519.6h0M457.1 1530.4h0M412.1 1517.7h0M417.5 1519.9h0M486.1 1537.1h0M425.0 1521.4h0M423.9 1521.3h0M110.4 1215.4h0M126.9 1246.9h0M148.4 1291.4h0M161.2 1296.8h0M167.6 1327.4h0M199.8 1375.0h0M196.6 1377.1h0M189.1 1383.6h0M211.6 1388.9h0M212.6 1395.3h0M210.9 1402.9h0M221.2 1410.3h0M210.9 1415.7h0M228.7 1400.7h0M236.2 1415.7h0M237.3 1421.1h0M244.8 1436.0h0M249.1 1435.0h0M254.4 1444.6h0M253.8 1455.3h0M264.1 1446.8h0M273.7 1457.5h0M280.1 1462.9h0M288.7 1470.3h0M642.5 1557.1h0" stroke="#000" stroke-width="9.2" stroke-linecap="round" fill="none"/>
<path d="M110.6 1217.8L115.1 1225.4L119.5 1233.4L124.0 1241.6L128.5 1250.0L132.9 1258.4L137.4 1266.7L141.9 1274.9L146.4 1282.7L150.8 1290.1L155.3 1297.0L159.8 1303.6L164.2 1310.0L168.7 1316.1L173.2 1322.3L177.6 1328.4L182.1 1334.5L186.6 1340.5L191.1 1346.5L195.5 1352.4L200.0 1358.2L204.5 1364.0L208.9 1369.6L213.4 1375.1L217.9 1380.5L222.3 1385.8L226.8 1390.9L231.3 1395.9L235.8 1400.7L240.2 1405.5L244.7 1410.1L249.2 1414.6L253.6 1419.0L258.1 1423.2L262.6 1427.4L267.0 1431.4L271.5 1435.4L276.0 1439.2L280.5 1442.9L284.9 1446.6L289.4 1450.1L293.9 1453.5L298.3 1456.9L302.8 1460.1L307.3 1463.3L311.7 1466.4L316.2 1469.4L320.7 1472.3L325.1 1475.2L329.6 1477.9L334.1 1480.6L338.6 1483.2L343.0 1485.7L347.5 1488.2L352.0 1490.6L356.4 1492.9L360.9 1495.1L365.4 1497.3L369.8 1499.4L374.3 1501.4L378.8 1503.4L383.3 1505.3L387.7 1507.1L392.2 1508.9L396.7 1510.6L401.1 1512.3L405.6 1513.9L410.1 1515.5L414.5 1517.0L419.0 1518.4L423.5 1519.8L428.0 1521.2L432.4 1522.5L436.9 1523.7L441.4 1525.0L445.8 1526.1L450.3 1527.2L454.8 1528.3L459.2 1529.4L463.7 1530.4L468.2 1531.3L472.6 1532.3L477.1 1533.2L481.6 1534.0L486.1 1534.9L490.5 1535.7L495.0 1536.5L499.5 1537.2L503.9 1537.9L508.4 1538.6L512.9 1539.3L517.3 1539.9L521.8 1540.5L526.3 1541.1L530.8 1541.7L535.2 1542.2L539.7 1542.8L544.2 1543.3L548.6 1543.8L553.1 1544.3L557.6 1544.7L562.0 1545.2L566.5 1545.6L571.0 1546.1L575.5 1546.5L579.9 1546.9L584.4 1547.4L588.9 1547.8L593.3 1548.2L597.8 1548.7L602.3 1549.1L606.7 1549.5L611.2 1550.0L615.7 1550.4L620.2 1550.9L624.6 1551.4L629.1 1551.9L633.6 1552.4L638.0 1552.9L642.5 1553.5L642.5 1559.5L638.0 1558.8L633.6 1558.1L629.1 1557.4L624.6 1556.8L620.2 1556.2L615.7 1555.5L611.2 1554.9L606.7 1554.3L602.3 1553.7L597.8 1553.1L593.3 1552.5L588.9 1552.0L584.4 1551.4L579.9 1550.8L575.5 1550.2L571.0 1549.7L566.5 1549.1L562.0 1548.5L557.6 1547.9L553.1 1547.4L548.6 1546.8L544.2 1546.2L539.7 1545.6L535.2 1545.0L530.8 1544.4L526.3 1543.7L521.8 1543.1L517.3 1542.4L512.9 1541.7L508.4 1541.0L503.9 1540.3L499.5 1539.6L495.0 1538.9L490.5 1538.1L486.1 1537.3L481.6 1536.4L477.1 1535.6L472.6 1534.7L468.2 1533.8L463.7 1532.8L459.2 1531.8L454.8 1530.7L450.3 1529.7L445.8 1528.5L441.4 1527.4L436.9 1526.2L432.4 1524.9L428.0 1523.6L423.5 1522.3L419.0 1520.9L414.5 1519.4L410.1 1517.9L405.6 1516.4L401.1 1514.8L396.7 1513.1L392.2 1511.4L387.7 1509.6L383.3 1507.8L378.8 1505.9L374.3 1503.9L369.8 1501.9L365.4 1499.8L360.9 1497.6L356.4 1495.4L352.0 1493.1L347.5 1490.7L343.0 1488.3L338.6 1485.8L334.1 1483.2L329.6 1480.5L325.1 1477.7L320.7 1474.9L316.2 1472.0L311.7 1469.0L307.3 1465.9L302.8 1462.8L298.3 1459.5L293.9 1456.2L289.4 1452.8L284.9 1449.2L280.5 1445.6L276.0 1441.9L271.5 1438.1L267.0 1434.2L262.6 1430.1L258.1 1426.0L253.6 1421.7L249.2 1417.4L244.7 1412.9L240.2 1408.3L235.8 1403.6L231.3 1398.7L226.8 1393.8L222.3 1388.7L217.9 1383.4L213.4 1378.1L208.9 1372.6L204.5 1367.0L200.0 1361.2L195.5 1355.4L191.1 1349.6L186.6 1343.7L182.1 1337.7L177.6 1331.7L173.2 1325.7L168.7 1319.7L164.2 1313.7L159.8 1307.5L155.3 1301.1L150.8 1294.3L146.4 1287.1L141.9 1279.5L137.4 1271.5L132.9 1263.4L128.5 1255.2L124.0 1247.0L119.5 1239.0L115.1 1231.2L110.6 1223.8Z" fill="#999" fill-opacity="0.4"/>
<path d="M110.6 1220.8L115.1 1228.3L119.5 1236.2L124.0 1244.3L128.5 1252.6L132.9 1260.9L137.4 1269.1L141.9 1277.2L146.4 1284.9L150.8 1292.2L155.3 1299.1L159.8 1305.6L164.2 1311.8L168.7 1317.9L173.2 1324.0L177.6 1330.0L182.1 1336.1L186.6 1342.1L191.1 1348.0L195.5 1353.9L200.0 1359.7L204.5 1365.5L208.9 1371.1L213.4 1376.6L217.9 1382.0L222.3 1387.2L226.8 1392.3L231.3 1397.3L235.8 1402.2L240.2 1406.9L244.7 1411.5L249.2 1416.0L253.6 1420.4L258.1 1424.6L262.6 1428.8L267.0 1432.8L271.5 1436.7L276.0 1440.6L280.5 1444.3L284.9 1447.9L289.4 1451.4L293.9 1454.9L298.3 1458.2L302.8 1461.5L307.3 1464.6L311.7 1467.7L316.2 1470.7L320.7 1473.6L325.1 1476.5L329.6 1479.2L334.1 1481.9L338.6 1484.5L343.0 1487.0L347.5 1489.5L352.0 1491.8L356.4 1494.1L360.9 1496.4L365.4 1498.5L369.8 1500.6L374.3 1502.7L378.8 1504.6L383.3 1506.5L387.7 1508.4L392.2 1510.2L396.7 1511.9L401.1 1513.5L405.6 1515.1L410.1 1516.7L414.5 1518.2L419.0 1519.7L423.5 1521.0L428.0 1522.4L432.4 1523.7L436.9 1525.0L441.4 1526.2L445.8 1527.3L450.3 1528.5L454.8 1529.5L459.2 1530.6L463.7 1531.6L468.2 1532.5L472.6 1533.5L477.1 1534.4L481.6 1535.2L486.1 1536.1L490.5 1536.9L495.0 1537.7L499.5 1538.4L503.9 1539.1L508.4 1539.8L512.9 1540.5L517.3 1541.2L521.8 1541.8L526.3 1542.4L530.8 1543.0L535.2 1543.6L539.7 1544.2L544.2 1544.7L548.6 1545.3L553.1 1545.8L557.6 1546.3L562.0 1546.9L566.5 1547.4L571.0 1547.9L575.5 1548.4L579.9 1548.9L584.4 1549.4L588.9 1549.9L593.3 1550.4L597.8 1550.9L602.3 1551.4L606.7 1551.9L611.2 1552.5L615.7 1553.0L620.2 1553.5L624.6 1554.1L629.1 1554.7L633.6 1555.2L638.0 1555.9L642.5 1556.5" stroke="#3A60DA" stroke-width="2.5" fill="none"/>
<path d="M109.9 1591.7v9.5M256.9 1591.7v9.5M403.9 1591.7v9.5M550.9 1591.7v9.5M74.3 1509.1h9M74.3 1382.1h9M74.3 1255.1h9" stroke="#7F7F7F" stroke-width="2.2" fill="none"/>
<text x="109.9" y="1622.6" text-anchor="middle" class="tk">-3</text>
<text x="256.9" y="1622.6" text-anchor="middle" class="tk">0</text>
<text x="403.9" y="1622.6" text-anchor="middle" class="tk">3</text>
<text x="550.9" y="1622.6" text-anchor="middle" class="tk">6</text>
<text x="67.7" y="1517.0" text-anchor="end" class="tk">500</text>
<text x="67.7" y="1390.0" text-anchor="end" class="tk">600</text>
<text x="67.7" y="1263.0" text-anchor="end" class="tk">700</text>
<text transform="translate(379.6,1165.0) scale(0.98,1.02)" text-anchor="middle" class="tt">ML RTs (Reciprocal-of-Root)</text>
<text transform="translate(379.6,1648.5) scale(1,1.04)" text-anchor="middle" class="at">LN Freq of Occurrences per Million</text>
<text transform="translate(26.3,1382.5) rotate(-90) scale(1.06,1.04)" text-anchor="middle" class="at">RTs</text>
<rect x="802.1" y="1173.3" width="592.7" height="418.4" fill="#E1E1E1"/>
<path d="M843.6 1173.3V1591.7M993.6 1173.3V1591.7M1143.6 1173.3V1591.7M1293.6 1173.3V1591.7M802.1 1573.0H1394.8M802.1 1488.2H1394.8M802.1 1403.5H1394.8M802.1 1318.7H1394.8M802.1 1234.0H1394.8" stroke="#F0F0F0" stroke-width="1.5" fill="none"/>
<path d="M918.6 1173.3V1591.7M1068.6 1173.3V1591.7M1218.6 1173.3V1591.7M1368.6 1173.3V1591.7M802.1 1530.6H1394.8M802.1 1445.8H1394.8M802.1 1361.1H1394.8M802.1 1276.3H1394.8M802.1 1191.6H1394.8" stroke="#fff" stroke-width="3" fill="none"/>
<path d="M1095.5 1453.5h0M1170.1 1483.9h0M1084.4 1450.8h0M1039.4 1423.7h0M1155.3 1481.8h0M1172.3 1484.1h0M1091.2 1470.7h0M1209.4 1494.8h0M1138.4 1476.5h0M1211.0 1495.3h0M1028.4 1410.6h0M1216.2 1501.1h0M1154.6 1480.4h0M1215.8 1497.3h0M1060.3 1432.8h0M1102.6 1457.2h0M1195.2 1491.5h0M1129.6 1469.3h0M1048.0 1430.7h0M1048.0 1428.0h0M1217.6 1496.6h0M1129.3 1478.1h0M990.7 1378.8h0M1041.8 1421.1h0M1102.8 1457.9h0M1027.1 1409.3h0M1083.6 1449.7h0M1128.4 1469.4h0M1000.9 1405.4h0M1040.8 1421.5h0M1190.2 1489.6h0M986.0 1377.8h0M1008.4 1394.9h0M1169.9 1483.5h0M1130.6 1469.7h0M1084.7 1447.8h0M1182.6 1487.6h0M1031.3 1413.7h0M961.0 1349.0h0M1167.6 1483.1h0M1121.2 1466.1h0M1057.6 1431.6h0M1107.8 1472.7h0M1000.1 1386.9h0M1052.8 1427.9h0M1105.4 1467.8h0M1177.8 1486.7h0M1053.6 1428.5h0M993.5 1381.0h0M1002.1 1388.7h0M1051.5 1431.9h0M1118.5 1465.6h0M1137.9 1472.3h0M1135.2 1471.4h0M1188.1 1489.8h0M1131.9 1470.4h0M1129.2 1468.7h0M1111.1 1461.2h0M1128.2 1474.9h0M1144.4 1475.5h0M1235.3 1500.0h0M1024.9 1410.3h0M1122.5 1467.0h0M1011.7 1397.4h0M1030.7 1413.7h0M1208.3 1498.7h0M1071.2 1439.7h0M1105.1 1457.9h0M1031.9 1433.4h0M1092.8 1467.6h0M978.3 1365.9h0M1108.1 1460.3h0M1221.7 1497.5h0M1133.3 1471.8h0M1127.9 1474.8h0M1102.4 1456.6h0M1054.3 1431.5h0M1156.3 1484.0h0M1068.0 1438.1h0M1057.6 1432.9h0M1100.8 1456.3h0M1234.4 1501.1h0M1145.4 1475.4h0M1130.1 1469.1h0M1012.6 1408.0h0M1166.3 1487.5h0M1074.8 1441.8h0M1119.0 1464.5h0M1103.7 1469.6h0M1159.6 1480.1h0M982.2 1370.0h0M1004.7 1393.0h0M1046.4 1425.5h0M1030.0 1412.3h0M1131.8 1470.5h0M1009.8 1395.1h0M1003.3 1389.4h0M1097.0 1463.0h0M995.4 1382.1h0M1162.2 1484.1h0M1056.2 1430.9h0M1050.7 1437.7h0M1111.8 1477.4h0M1235.3 1501.0h0M1046.8 1425.8h0M1035.0 1431.1h0M1063.9 1435.7h0M1157.8 1479.5h0M1211.4 1495.6h0M1019.0 1403.0h0M981.1 1369.1h0M1051.4 1427.0h0M1054.4 1451.2h0M1149.0 1486.6h0M1131.6 1474.0h0M1148.9 1477.3h0M1068.8 1438.6h0M1075.9 1443.3h0M1215.4 1499.2h0M989.0 1383.2h0M976.5 1365.1h0M973.5 1368.0h0M1169.0 1483.7h0M1094.4 1457.7h0M1135.2 1484.7h0M1125.0 1467.5h0M1167.8 1486.1h0M1097.0 1466.7h0M1056.0 1430.1h0M1008.6 1418.9h0M1072.4 1440.7h0M1028.3 1437.9h0M1208.2 1495.0h0M1153.3 1486.2h0M1047.1 1424.8h0M1093.1 1451.9h0M1084.3 1447.2h0M1113.5 1462.0h0M1217.9 1496.7h0M1045.2 1423.9h0M1115.7 1470.0h0M1091.6 1451.4h0M1221.9 1497.2h0M1033.3 1414.1h0M1123.6 1466.3h0M1002.8 1389.1h0M1100.0 1455.6h0M1224.8 1498.8h0M1141.5 1477.9h0M981.9 1390.4h0M1241.6 1501.7h0M1099.1 1465.3h0M1107.9 1459.3h0M1217.1 1496.7h0M1109.0 1460.1h0M1033.9 1414.9h0M1076.1 1443.5h0M1149.5 1476.7h0M1069.5 1439.0h0M1022.3 1405.5h0M1068.1 1437.7h0M1006.2 1392.1h0M1005.4 1392.2h0M1011.0 1396.1h0M1092.6 1456.8h0M1054.5 1429.5h0M1024.9 1407.7h0M1146.6 1476.6h0M1115.1 1469.6h0M1169.9 1483.4h0M1020.5 1404.1h0M1117.1 1463.5h0M1042.7 1422.1h0M1089.7 1450.7h0M1079.5 1449.5h0M1108.7 1459.9h0M1105.8 1459.0h0M1204.8 1493.7h0M1118.1 1464.5h0M1060.6 1437.0h0M1162.2 1484.5h0M1020.7 1404.6h0M1156.7 1479.6h0M1107.2 1459.6h0M1042.1 1420.4h0M1150.4 1487.3h0M1009.1 1405.2h0M983.8 1373.0h0M1044.4 1431.4h0M1091.7 1452.6h0M1119.6 1465.0h0M1053.1 1444.6h0M1107.7 1473.6h0M1238.8 1500.9h0M1262.9 1505.9h0M1141.9 1479.9h0M1050.6 1426.6h0M1085.8 1449.0h0M1166.3 1483.6h0M1192.6 1490.1h0M1220.2 1496.8h0M1067.8 1438.0h0M1057.9 1431.3h0M1057.5 1431.2h0M1159.5 1480.3h0M1223.4 1498.3h0M1104.2 1457.7h0M1078.9 1444.2h0M1128.1 1470.5h0M1074.6 1443.3h0M1105.7 1459.5h0M1026.8 1409.5h0M1005.2 1392.1h0M1071.3 1453.0h0M1043.7 1421.8h0M1018.5 1426.3h0M1227.9 1503.2h0M1135.6 1471.9h0M1067.9 1438.5h0M1249.9 1503.2h0M1007.3 1408.0h0M1060.0 1433.4h0M1191.4 1489.8h0M1229.9 1499.2h0M1161.8 1488.8h0M1026.3 1409.5h0M1104.9 1458.4h0M997.0 1385.0h0M994.4 1398.7h0M1184.0 1488.0h0M954.7 1342.6h0M1004.6 1399.2h0M1006.9 1393.7h0M1139.5 1485.7h0M1119.0 1465.4h0M1032.9 1418.3h0M1072.3 1446.5h0M1220.3 1496.8h0M1031.7 1413.3h0M995.8 1382.8h0M1123.4 1466.9h0M1007.5 1399.1h0M1102.7 1469.3h0M1041.0 1420.2h0M982.4 1370.1h0M1126.2 1467.8h0M1150.2 1478.0h0M1053.1 1429.4h0M1019.9 1404.4h0M1235.6 1500.3h0M1038.9 1419.2h0M1039.2 1419.0h0M1063.4 1435.0h0M1037.9 1419.8h0M1039.1 1429.9h0M1207.3 1494.8h0M1000.3 1386.6h0M1174.5 1485.6h0M1098.0 1469.5h0M983.6 1372.0h0M1018.2 1403.0h0M1125.5 1468.0h0M1103.5 1462.6h0M1038.3 1424.6h0M1048.4 1426.7h0M1208.6 1494.5h0M1146.2 1476.2h0M1127.0 1469.0h0M1207.2 1494.1h0M1036.2 1417.2h0M1056.2 1443.2h0M1175.7 1485.3h0M1078.3 1464.1h0M1079.6 1445.5h0M1166.6 1490.3h0M1266.4 1506.6h0M1192.7 1490.3h0M1155.5 1478.8h0M1079.6 1444.5h0M1138.1 1477.5h0M1034.9 1432.1h0M1040.8 1425.7h0M1030.3 1412.0h0M1131.9 1470.1h0M1218.4 1501.8h0M1151.2 1477.4h0M1043.4 1422.3h0M1126.6 1468.6h0M1060.4 1434.7h0M1171.2 1484.9h0M1087.6 1449.3h0M1039.9 1433.2h0M1048.3 1448.3h0M1001.3 1402.9h0M1062.5 1435.5h0M1058.1 1433.2h0M1082.0 1445.9h0M1126.0 1477.9h0M1209.1 1495.8h0M1169.2 1484.6h0M1106.5 1459.6h0M1062.6 1434.8h0M1022.8 1419.8h0M1110.4 1461.2h0M994.6 1382.0h0M990.9 1392.4h0M1122.3 1467.7h0M1021.3 1404.9h0M1179.1 1486.2h0M1128.9 1469.2h0M1095.8 1460.8h0M1212.7 1496.4h0M1013.6 1399.5h0M1052.2 1428.2h0M1092.3 1451.9h0M1228.1 1499.3h0M999.3 1387.6h0M1112.9 1462.5h0M1205.2 1493.4h0M1016.7 1401.3h0M1137.6 1483.7h0M1134.1 1472.0h0M1062.3 1435.7h0M1098.2 1470.4h0M1212.2 1496.8h0M1084.0 1463.6h0M1081.6 1450.1h0M1104.4 1465.2h0M982.1 1369.7h0M1166.7 1482.3h0M990.1 1391.2h0M1237.3 1502.9h0M1231.5 1504.1h0M1169.5 1483.2h0M1195.6 1492.0h0M1116.0 1463.4h0M1051.4 1430.0h0M1113.3 1463.0h0M1131.2 1480.1h0M1016.0 1401.0h0M1156.6 1482.9h0M1051.0 1445.0h0M1093.3 1452.8h0M1043.4 1421.8h0M1046.6 1423.6h0M1188.7 1489.6h0M1155.3 1479.2h0M994.1 1387.9h0M1155.5 1479.0h0M1207.6 1494.2h0M1137.5 1473.1h0M1134.6 1477.8h0M1042.9 1439.2h0M1136.3 1472.6h0M1066.1 1444.0h0M1206.7 1495.5h0M1137.7 1473.0h0M1054.8 1429.7h0M1191.3 1490.8h0M1156.4 1481.7h0M1029.6 1411.8h0M1032.6 1413.8h0M970.4 1358.9h0M1155.2 1478.7h0M1001.4 1388.0h0M1045.2 1422.8h0M1146.0 1475.7h0M1051.4 1436.8h0M1047.3 1424.7h0M995.3 1383.3h0M989.8 1377.5h0M1106.1 1458.5h0M1015.2 1416.1h0M1227.2 1503.6h0M979.1 1382.9h0M1053.4 1428.5h0M1025.8 1410.2h0M1197.1 1491.5h0M1149.9 1481.5h0M1008.4 1394.1h0M991.7 1385.5h0M1000.6 1387.0h0M1146.9 1477.2h0M1149.0 1476.3h0M1120.0 1481.9h0M1088.4 1450.8h0M1083.0 1446.9h0M1111.4 1462.1h0M1007.7 1398.0h0M1162.3 1480.9h0M1157.4 1479.9h0M1131.7 1469.9h0M1037.0 1419.8h0M1032.6 1414.0h0M1238.5 1501.4h0M1218.7 1496.5h0M1149.2 1478.3h0M1159.6 1482.2h0M1082.0 1446.4h0M1188.9 1492.9h0M1134.1 1472.3h0M1077.8 1444.3h0M1131.8 1480.7h0M999.6 1386.0h0M1069.2 1450.5h0M1177.5 1486.1h0M1086.5 1448.7h0M1102.7 1458.1h0M1103.7 1466.7h0M1215.9 1499.2h0M1029.6 1412.8h0M1131.8 1469.8h0M1080.1 1444.9h0M1037.0 1416.7h0M989.0 1398.5h0M1114.8 1463.4h0M1025.8 1418.5h0M1108.5 1460.4h0M1076.2 1442.9h0M1071.3 1442.3h0M1192.9 1490.3h0M1002.6 1397.3h0M1103.8 1459.2h0M1073.1 1441.8h0M1018.3 1402.8h0M1069.3 1453.0h0M1185.3 1490.2h0M1029.0 1411.9h0M1131.4 1470.7h0M1043.8 1446.7h0M1094.7 1453.5h0M1101.5 1456.4h0M997.0 1386.0h0M1166.3 1486.7h0M1066.0 1436.9h0M1031.5 1412.6h0M1031.1 1428.8h0M1242.8 1501.6h0M1216.0 1496.4h0M1084.2 1448.3h0M1044.2 1422.3h0M1138.6 1480.7h0M990.7 1390.1h0M1182.6 1487.4h0M961.3 1349.1h0M989.4 1382.5h0M1057.1 1448.8h0M1081.6 1447.4h0M960.5 1347.6h0M1047.3 1424.9h0M1241.5 1501.6h0M1156.3 1481.8h0M992.7 1380.2h0M1188.8 1489.5h0M1083.5 1446.9h0M1247.1 1503.1h0M1054.5 1429.0h0M1052.1 1427.8h0M1131.3 1470.0h0M1088.2 1465.0h0M1045.4 1430.7h0M1095.9 1454.3h0M1121.1 1465.7h0M1052.7 1435.5h0M1171.3 1484.1h0M1149.4 1477.4h0M1150.5 1477.5h0M1126.6 1475.7h0M1035.9 1423.5h0M1138.0 1472.3h0M1023.7 1425.9h0M1016.0 1425.9h0M1091.5 1451.4h0M1023.2 1410.6h0M1012.5 1398.2h0M1110.7 1461.5h0M1234.9 1502.9h0M991.7 1384.9h0M1079.1 1444.6h0M1002.7 1388.9h0M1098.9 1454.9h0M1106.7 1459.0h0M1088.7 1450.9h0M985.3 1373.4h0M1136.7 1472.2h0M1092.3 1457.8h0M1106.4 1459.5h0M1128.5 1468.4h0M1199.7 1494.4h0M1077.2 1446.8h0M1202.5 1498.1h0M1024.0 1429.2h0M1081.1 1446.5h0M1024.2 1424.2h0M1064.7 1436.4h0M1198.7 1492.1h0M1234.6 1501.5h0M1084.9 1452.6h0M1045.4 1423.6h0M1054.8 1443.5h0M1198.0 1491.9h0M1078.0 1444.8h0M1029.1 1412.5h0M1174.7 1485.7h0M1092.8 1462.5h0M1075.7 1442.7h0M1198.7 1491.6h0M1148.6 1481.3h0M971.5 1359.1h0M1228.9 1498.7h0M1081.3 1456.1h0M1024.9 1415.1h0M1201.4 1492.4h0M1074.1 1441.3h0M1132.6 1470.3h0M1149.9 1484.7h0M1028.2 1436.3h0M1241.3 1502.0h0M1104.1 1457.9h0M992.2 1381.6h0M1098.5 1455.0h0M974.6 1362.3h0M1237.7 1502.5h0M1128.0 1468.2h0M1066.1 1440.8h0M1163.6 1482.1h0M1162.1 1484.6h0M1136.6 1472.2h0M1036.9 1418.6h0M1003.5 1395.5h0M1181.6 1487.3h0M1193.0 1491.2h0M1059.4 1433.1h0M1067.6 1438.2h0M1070.9 1439.7h0M1045.5 1422.8h0M1213.7 1495.8h0M1097.4 1459.6h0M1138.9 1478.3h0M1113.6 1463.5h0M1002.5 1389.9h0M997.3 1385.6h0M1017.4 1416.5h0M1090.0 1468.5h0M1118.9 1464.4h0M1256.4 1503.9h0M1197.7 1493.8h0M1146.7 1475.5h0M1066.9 1438.2h0M1059.2 1452.1h0M1135.8 1472.0h0M1059.4 1432.7h0M1154.0 1485.9h0M1143.9 1474.6h0M1010.6 1415.8h0M1165.0 1482.5h0M1003.6 1389.5h0M1053.8 1429.7h0M1234.6 1503.3h0M1124.4 1467.0h0M1181.7 1489.9h0M1208.4 1494.4h0M1043.0 1434.3h0M1162.6 1483.3h0M1064.7 1436.6h0M994.9 1399.0h0M1007.2 1393.0h0M1012.2 1408.7h0M1119.7 1464.8h0M1122.1 1478.2h0M1178.7 1486.1h0M1049.2 1425.7h0M1153.2 1478.6h0M1043.4 1422.1h0M1053.0 1428.4h0M1125.5 1467.6h0M1068.7 1438.7h0M1261.5 1505.2h0M1053.5 1431.9h0M1037.4 1417.2h0M1189.7 1490.1h0M1187.5 1490.3h0M1021.0 1406.0h0M1057.8 1431.7h0M1092.8 1452.5h0M995.3 1389.8h0M1064.4 1436.1h0M1155.3 1478.7h0M1154.8 1482.8h0M1017.7 1402.8h0M1050.9 1426.6h0M1043.8 1429.2h0M1132.6 1483.7h0M1013.6 1400.6h0M1243.6 1506.0h0M1009.6 1395.2h0M1096.8 1454.3h0M1137.4 1474.3h0M1218.6 1498.6h0M1115.7 1462.9h0M1181.4 1486.8h0M1097.2 1456.6h0M1033.9 1415.0h0M1074.4 1444.4h0M1114.0 1476.4h0M1097.2 1455.2h0M1158.8 1480.5h0M1099.1 1455.5h0M1066.9 1437.5h0M1093.9 1452.7h0M1094.8 1452.8h0M967.3 1355.4h0M1055.9 1430.3h0M1106.4 1458.8h0M1139.7 1472.9h0M1075.7 1442.3h0M1148.7 1476.2h0M1091.4 1467.1h0M1064.2 1436.2h0M1038.4 1433.1h0M1163.2 1483.0h0M1206.3 1494.1h0M1144.1 1474.5h0M1033.8 1429.4h0M1138.0 1477.6h0M1091.7 1452.1h0M1207.5 1494.2h0M961.8 1349.2h0M1156.1 1479.1h0M1083.7 1460.8h0M1181.5 1487.3h0M1113.8 1462.1h0M964.2 1367.8h0M1134.4 1471.4h0M1097.7 1455.2h0M1037.8 1417.8h0M1011.1 1397.2h0M1069.9 1439.7h0M1103.7 1457.9h0M1086.1 1466.7h0M973.6 1361.8h0M1017.5 1403.2h0M1131.7 1470.5h0M1100.4 1456.7h0M1147.7 1476.0h0M1073.1 1454.7h0M1041.4 1420.7h0M1163.3 1481.8h0M1033.3 1419.4h0M993.4 1380.5h0M1064.0 1436.5h0M1080.6 1447.3h0M1031.4 1412.9h0M1222.5 1501.8h0M1036.1 1416.2h0M1011.1 1396.5h0M1126.9 1468.9h0M1016.3 1401.4h0M1046.1 1428.1h0M1073.0 1441.3h0M1044.9 1437.8h0M1125.1 1467.5h0M1015.6 1400.4h0M1122.7 1467.9h0M1009.5 1396.6h0M1108.0 1459.8h0M1237.3 1500.8h0M1160.1 1480.3h0M1217.6 1497.0h0M1100.5 1472.1h0M1020.0 1421.4h0M1064.3 1436.0h0M1157.0 1485.1h0M1013.6 1408.5h0M1127.6 1468.9h0M1054.7 1429.3h0M1204.4 1493.9h0M1060.4 1433.4h0M1054.8 1450.7h0M1044.5 1449.0h0M1099.1 1455.0h0M1220.9 1500.6h0M1099.2 1455.5h0M1147.4 1475.9h0M1095.0 1468.1h0M1000.5 1386.9h0M1109.4 1465.3h0M1111.2 1469.4h0M1111.6 1462.1h0M1049.9 1431.8h0M1043.4 1421.7h0M1056.1 1431.0h0M981.6 1369.1h0M1020.6 1404.1h0M1047.6 1424.9h0M1093.3 1455.0h0M1201.9 1492.8h0M1136.7 1472.2h0M1094.0 1461.7h0M1140.8 1473.4h0M1079.2 1452.4h0M988.6 1379.9h0M1133.1 1470.7h0M1137.9 1473.0h0M1125.4 1474.9h0M1180.4 1487.0h0M1158.5 1479.9h0M1172.7 1484.5h0M988.1 1376.6h0M1269.5 1507.4h0M1109.8 1475.3h0M1110.8 1463.3h0M1115.5 1463.2h0M1044.1 1422.4h0M1050.8 1427.0h0M1188.8 1492.4h0M1112.5 1461.6h0M1225.2 1502.7h0M1031.2 1413.9h0M1109.2 1478.1h0M1112.4 1475.4h0M984.4 1372.1h0M1118.5 1477.8h0M1067.1 1440.8h0M1076.2 1443.4h0M1026.2 1409.4h0M1111.2 1462.3h0M1129.8 1469.0h0M1194.4 1491.2h0M1176.9 1485.8h0M1238.5 1502.5h0M1235.1 1501.7h0M1136.7 1471.9h0M1046.3 1425.7h0M1099.2 1455.2h0M1000.7 1404.3h0M1104.9 1463.7h0M1051.3 1427.6h0M1098.4 1459.2h0M1149.7 1478.5h0M993.4 1381.3h0M1188.5 1492.5h0M984.8 1372.7h0M1088.6 1467.1h0M1033.4 1441.1h0M985.3 1374.5h0M1086.4 1450.5h0M1042.4 1420.8h0M999.7 1386.0h0M1171.3 1484.2h0M1039.1 1418.9h0M1213.6 1495.4h0M1114.4 1462.4h0M1061.3 1442.6h0M993.4 1380.5h0M1181.4 1488.7h0M1007.7 1406.1h0M1157.0 1479.2h0M1096.7 1453.8h0M1081.5 1445.6h0M999.8 1387.3h0M1074.3 1443.2h0M973.2 1370.3h0M1153.3 1488.1h0M1138.3 1473.1h0M1014.6 1399.0h0M1092.7 1452.2h0M1024.5 1422.5h0M1139.6 1473.9h0M1027.0 1410.1h0M1023.3 1425.6h0M1047.0 1439.7h0M1232.1 1500.4h0M1169.5 1483.3h0M1070.9 1439.8h0M1162.2 1480.9h0M1062.6 1434.6h0M1026.7 1409.2h0M1196.3 1491.0h0M984.2 1380.6h0M1161.9 1488.3h0M1224.8 1497.8h0M1000.9 1394.9h0M1182.7 1487.9h0M1158.1 1479.6h0M986.6 1374.9h0M1079.1 1454.3h0M1042.1 1420.9h0M1067.1 1438.4h0M1066.6 1438.6h0M1069.1 1456.5h0M967.1 1354.4h0M1044.3 1442.2h0M1048.2 1431.4h0M1124.0 1466.7h0M1135.5 1478.7h0M1149.8 1480.7h0M1121.0 1465.9h0M1195.2 1490.7h0M1102.7 1473.8h0M1052.9 1441.5h0M985.7 1373.0h0M1143.5 1475.1h0M1104.0 1470.2h0M1021.1 1404.7h0M1093.1 1454.5h0M1216.6 1496.2h0M1113.7 1462.9h0M1052.0 1427.4h0M1165.9 1482.1h0M1069.2 1451.4h0M972.1 1360.2h0M999.6 1385.9h0M1225.8 1498.1h0M1003.6 1399.3h0M1159.0 1479.9h0M981.5 1381.2h0M1075.0 1442.5h0M1046.5 1424.9h0M1059.1 1432.8h0M1002.9 1389.5h0M1070.6 1460.3h0M1152.2 1477.8h0M1095.9 1465.2h0M1013.6 1405.4h0M1165.5 1482.1h0M1186.8 1488.6h0M1081.6 1447.4h0M1062.1 1442.1h0M974.2 1363.1h0M996.7 1384.1h0M1065.3 1447.5h0M1008.9 1394.3h0M1230.7 1499.2h0M1122.7 1466.5h0M1052.8 1432.0h0M1109.0 1460.0h0M1022.3 1406.1h0M1204.3 1493.0h0M1090.8 1470.8h0M1136.4 1472.0h0M1025.4 1412.8h0M1085.2 1463.1h0M1140.1 1473.2h0M1067.7 1437.9h0M994.9 1383.9h0M1084.2 1447.5h0M1171.2 1484.8h0M1082.8 1447.1h0M1238.1 1504.5h0M1103.4 1457.5h0M1190.9 1490.8h0M982.4 1370.9h0M1119.7 1465.8h0M1092.8 1451.9h0M1061.8 1435.7h0M1198.2 1491.7h0M1003.2 1390.1h0M1087.7 1453.4h0M1051.5 1433.6h0M1225.0 1499.9h0M1158.5 1482.6h0M1029.6 1422.1h0M1012.5 1397.7h0M977.9 1375.9h0M1024.9 1410.9h0M1209.3 1495.0h0M1187.4 1488.5h0M1163.9 1481.7h0M1070.3 1439.6h0M1086.9 1459.3h0M1106.9 1469.7h0M1166.9 1486.0h0M958.7 1345.9h0M1025.2 1410.0h0M1108.2 1463.0h0M1015.9 1403.3h0M1213.6 1496.2h0M987.5 1374.8h0M1233.5 1500.0h0M1032.6 1413.4h0M1028.1 1430.3h0M1075.1 1442.7h0M1121.2 1465.5h0M1238.0 1503.8h0M1085.7 1455.5h0M1196.7 1496.8h0M1193.8 1493.8h0M1242.2 1502.5h0M1062.3 1439.9h0M1085.4 1462.9h0M976.7 1364.1h0M1067.0 1440.5h0M1061.0 1433.4h0M1011.7 1397.2h0M1173.8 1485.6h0M1046.0 1423.6h0M1013.3 1399.0h0M1009.5 1394.7h0M978.3 1367.4h0M1151.1 1477.6h0M1097.4 1465.6h0M1095.7 1456.0h0M1073.0 1441.4h0M1227.2 1498.5h0M1065.9 1436.8h0M1085.4 1448.4h0M1134.0 1470.6h0M1209.4 1495.7h0M1182.4 1488.4h0M1190.5 1490.5h0M1025.7 1408.4h0M1216.7 1496.3h0M1171.1 1489.4h0M1056.2 1452.4h0M1165.5 1484.3h0M1221.0 1497.0h0M1147.9 1476.4h0M1146.6 1475.8h0M1175.8 1489.8h0M1189.5 1490.5h0M1158.4 1480.0h0M999.0 1395.5h0M1031.3 1415.1h0M1010.8 1411.9h0M1083.6 1447.1h0M995.1 1382.2h0M1101.5 1457.5h0M1207.3 1494.0h0M1239.6 1501.4h0M984.6 1372.0h0M1132.1 1470.9h0M1016.3 1407.8h0M1183.7 1487.5h0M981.8 1375.2h0M1006.3 1418.0h0M1055.0 1430.1h0M960.6 1348.2h0M1127.1 1468.2h0M1030.6 1413.1h0M1141.7 1481.8h0M1219.2 1497.5h0M1084.5 1448.2h0M1084.4 1447.4h0M1257.7 1504.7h0M1053.0 1428.7h0M1192.1 1490.1h0M1139.9 1473.4h0M966.2 1354.1h0M1049.7 1434.5h0M1141.9 1473.9h0M987.7 1375.1h0M1182.1 1488.0h0M1202.2 1493.2h0M1152.3 1477.5h0M1167.2 1488.3h0M1111.9 1461.8h0M1166.4 1482.6h0M1083.9 1447.9h0M1071.9 1440.7h0M1137.3 1472.5h0M1083.4 1447.2h0M1052.4 1437.9h0M1043.0 1428.4h0M1077.7 1459.0h0M1066.7 1452.5h0M1150.8 1484.6h0M1159.2 1484.1h0M1163.4 1482.1h0M1177.8 1489.2h0M1062.7 1434.5h0M1064.2 1435.4h0M1175.7 1488.5h0M1025.0 1410.6h0M1137.0 1473.6h0M1095.9 1459.5h0M1128.1 1468.3h0M1135.7 1476.9h0M1128.7 1469.0h0M1036.9 1417.1h0M977.8 1365.4h0M1220.8 1498.7h0M1196.5 1492.1h0M1091.7 1452.3h0M1126.9 1480.4h0M1002.9 1389.8h0M1082.0 1446.0h0M1109.7 1461.7h0M1136.5 1481.7h0M1033.5 1414.7h0M1003.3 1389.9h0M1225.6 1498.4h0M1179.1 1486.2h0M1024.6 1407.3h0M1170.7 1486.0h0M1167.6 1482.6h0M1025.3 1417.3h0M1165.2 1483.1h0M1066.7 1437.1h0M1057.1 1432.1h0M947.7 1334.9h0M958.4 1345.9h0M937.4 1322.6h0M923.1 1307.0h0M930.6 1315.0h0M940.2 1333.7h0M967.6 1355.8h0M927.8 1313.1h0M912.3 1294.2h0M919.9 1305.8h0M953.1 1341.3h0M941.3 1327.3h0M949.4 1349.0h0M907.0 1288.2h0M914.9 1298.5h0M910.9 1292.6h0M933.8 1323.2h0M938.1 1333.0h0M945.1 1331.6h0M961.0 1348.1h0M947.7 1334.5h0M901.0 1281.7h0M893.1 1271.5h0M901.6 1285.2h0M911.3 1294.2h0M918.8 1303.2h0M925.2 1311.3h0M902.7 1283.0h0M900.6 1285.3h0M938.1 1323.4h0M940.2 1325.8h0M899.5 1279.6h0M930.6 1315.3h0M899.9 1279.7h0M917.3 1307.6h0M1004.5 1390.7h0M1015.8 1421.1h0M1037.7 1417.7h0M1034.5 1415.0h0M1033.0 1421.9h0M1030.2 1412.2h0M1037.7 1418.0h0M1046.3 1432.5h0M1051.6 1427.8h0M1055.5 1430.5h0M1038.8 1419.8h0M1042.0 1420.5h0M1066.6 1437.3h0M1075.2 1442.9h0M1068.8 1438.5h0M1073.1 1453.9h0M1085.9 1448.6h0M985.2 1373.3h0M994.2 1382.0h0M967.0 1355.3h0M968.1 1355.9h0M977.7 1366.6h0M973.4 1363.2h0M988.4 1376.4h0M1001.3 1396.1h0M983.1 1370.9h0M976.6 1365.2h0M982.0 1370.9h0M983.1 1381.3h0M955.2 1343.6h0M962.7 1350.1h0M949.8 1336.4h0M952.0 1339.0h0M956.3 1352.8h0M967.0 1368.2h0M959.5 1346.5h0M950.9 1346.6h0M953.1 1343.7h0M949.8 1344.1h0M961.6 1350.9h0M979.4 1367.2h0M987.3 1374.5h0M969.1 1368.6h0M976.6 1373.8h0M968.1 1355.8h0M981.6 1388.6h0M993.3 1380.4h0M998.1 1385.0h0M994.4 1381.8h0M1003.0 1389.0h0M1017.3 1402.0h0M1029.1 1427.7h0M1022.7 1413.9h0M1043.1 1421.7h0M1048.4 1425.3h0M1063.4 1438.4h0M1080.6 1446.1h0M1081.6 1445.7h0M1090.2 1456.0h0M1100.9 1464.2h0M1103.6 1457.2h0M1147.5 1477.2h0M1147.5 1478.8h0M1129.3 1469.5h0M1137.9 1474.1h0M1110.0 1470.2h0M1116.4 1465.0h0M1154.6 1478.9h0M1156.1 1479.5h0M1200.0 1493.0h0M1206.0 1494.5h0M1246.1 1503.6h0M1247.6 1503.0h0M1310.3 1511.9h0M1182.9 1487.4h0M1191.0 1492.8h0M1198.3 1495.0h0M1172.6 1485.4h0M1225.3 1499.2h0M1242.4 1501.9h0M1252.5 1504.0h0M1253.6 1506.3h0M1257.8 1505.4h0M1297.1 1510.4h0M1308.8 1512.3h0M1224.0 1501.8h0M1260.0 1505.2h0M1266.4 1505.7h0M1274.6 1507.4h0M1287.9 1509.2h0M1293.2 1510.8h0M1302.4 1511.5h0M1318.9 1514.1h0M1233.9 1499.7h0M1246.1 1502.3h0M1266.8 1507.0h0M1289.6 1510.2h0M1306.1 1512.1h0M1285.7 1512.3h0M1296.4 1510.4h0M1306.1 1511.4h0M1255.7 1504.7h0M1272.8 1509.5h0M1281.4 1508.4h0M1276.1 1507.3h0M1288.9 1511.2h0M1301.1 1511.3h0M1323.8 1513.7h0M1353.8 1516.9h0M1282.5 1508.2h0M1288.9 1512.9h0M1283.6 1509.1h0M1314.0 1512.4h0M1297.5 1510.3h0M1312.5 1513.6h0M1323.8 1515.1h0M1337.1 1515.2h0M1282.5 1509.1h0M1262.6 1505.8h0M1253.6 1507.0h0M1247.1 1503.2h0M1242.9 1502.0h0M1245.0 1502.4h0M1257.9 1504.6h0M1256.8 1504.2h0M1279.3 1508.3h0M1272.8 1506.8h0M1294.3 1510.0h0M1292.1 1509.9h0M1279.3 1508.5h0M1293.2 1510.9h0M1258.9 1505.7h0M1228.9 1503.5h0M1210.3 1497.1h0M1201.1 1492.3h0M1161.4 1480.8h0M1127.1 1468.5h0M1130.4 1470.3h0M1102.5 1457.1h0M1146.4 1475.6h0M1171.1 1484.0h0M1179.6 1486.5h0M1181.8 1487.7h0M1163.6 1481.7h0M1219.3 1498.6h0M1217.1 1500.1h0M1200.0 1492.8h0M840.1 1231.7h0M865.2 1239.2h0M873.8 1247.1h0M862.4 1266.4h0M883.0 1296.0h0M889.4 1303.3h0M885.1 1313.6h0M896.3 1316.8h0M903.8 1339.3h0M914.5 1317.4h0M919.4 1334.6h0M930.6 1336.1h0M931.6 1344.0h0M938.1 1343.1h0M941.7 1356.8h0M925.2 1368.2h0M947.7 1372.5h0M958.4 1372.5h0M954.1 1374.6h0M950.9 1388.1h0M967.0 1380.0h0M970.2 1377.9h0M973.4 1390.7h0M977.7 1397.1h0M975.6 1403.6h0M984.1 1401.4h0M988.4 1402.5h0M996.6 1429.3h0M1004.5 1427.1h0M1009.8 1431.4h0M1018.4 1433.6h0M1016.3 1416.4h0M1022.7 1422.8h0M1042.0 1444.3h0M1048.4 1450.7h0M1057.0 1459.3h0M1067.7 1455.0h0M1076.3 1457.1h0M1095.6 1471.1h0M1120.7 1483.6h0" stroke="#000" stroke-width="9.2" stroke-linecap="round" fill="none"/>
<path d="M840.7 1216.9L845.0 1222.8L849.3 1228.7L853.6 1234.5L858.0 1240.3L862.3 1246.0L866.6 1251.7L870.9 1257.3L875.2 1262.8L879.5 1268.3L883.9 1273.7L888.2 1279.0L892.5 1284.3L896.8 1289.4L901.1 1294.5L905.4 1299.5L909.8 1304.5L914.1 1309.4L918.4 1314.2L922.7 1319.0L927.0 1323.7L931.3 1328.3L935.7 1332.9L940.0 1337.4L944.3 1341.8L948.6 1346.2L952.9 1350.5L957.2 1354.7L961.5 1358.9L965.9 1363.0L970.2 1367.0L974.5 1371.0L978.8 1374.9L983.1 1378.7L987.4 1382.5L991.8 1386.1L996.1 1389.8L1000.4 1393.3L1004.7 1396.7L1009.0 1400.1L1013.3 1403.4L1017.7 1406.7L1022.0 1409.8L1026.3 1412.9L1030.6 1416.0L1034.9 1418.9L1039.2 1421.8L1043.6 1424.6L1047.9 1427.4L1052.2 1430.1L1056.5 1432.7L1060.8 1435.3L1065.1 1437.8L1069.4 1440.2L1073.8 1442.6L1078.1 1444.9L1082.4 1447.2L1086.7 1449.4L1091.0 1451.5L1095.3 1453.6L1099.7 1455.7L1104.0 1457.6L1108.3 1459.6L1112.6 1461.5L1116.9 1463.3L1121.2 1465.1L1125.6 1466.8L1129.9 1468.5L1134.2 1470.2L1138.5 1471.8L1142.8 1473.3L1147.1 1474.8L1151.4 1476.3L1155.8 1477.7L1160.1 1479.1L1164.4 1480.4L1168.7 1481.7L1173.0 1483.0L1177.3 1484.2L1181.7 1485.4L1186.0 1486.6L1190.3 1487.7L1194.6 1488.8L1198.9 1489.8L1203.2 1490.8L1207.6 1491.8L1211.9 1492.8L1216.2 1493.7L1220.5 1494.6L1224.8 1495.4L1229.1 1496.3L1233.5 1497.1L1237.8 1497.9L1242.1 1498.6L1246.4 1499.4L1250.7 1500.1L1255.0 1500.8L1259.3 1501.4L1263.7 1502.1L1268.0 1502.7L1272.3 1503.3L1276.6 1503.9L1280.9 1504.5L1285.2 1505.0L1289.6 1505.6L1293.9 1506.1L1298.2 1506.6L1302.5 1507.1L1306.8 1507.5L1311.1 1507.9L1315.5 1508.3L1319.8 1508.7L1324.1 1509.0L1328.4 1509.3L1332.7 1509.5L1337.0 1509.8L1341.4 1510.1L1345.7 1510.3L1350.0 1510.6L1354.3 1510.8L1354.3 1516.9L1350.0 1516.3L1345.7 1515.8L1341.4 1515.2L1337.0 1514.6L1332.7 1514.0L1328.4 1513.4L1324.1 1512.9L1319.8 1512.3L1315.5 1511.7L1311.1 1511.2L1306.8 1510.6L1302.5 1510.1L1298.2 1509.6L1293.9 1509.1L1289.6 1508.6L1285.2 1508.0L1280.9 1507.5L1276.6 1506.9L1272.3 1506.3L1268.0 1505.7L1263.7 1505.1L1259.3 1504.4L1255.0 1503.8L1250.7 1503.1L1246.4 1502.4L1242.1 1501.6L1237.8 1500.9L1233.5 1500.1L1229.1 1499.3L1224.8 1498.4L1220.5 1497.6L1216.2 1496.7L1211.9 1495.8L1207.6 1494.8L1203.2 1493.8L1198.9 1492.8L1194.6 1491.8L1190.3 1490.7L1186.0 1489.6L1181.7 1488.4L1177.3 1487.2L1173.0 1486.0L1168.7 1484.7L1164.4 1483.4L1160.1 1482.1L1155.8 1480.7L1151.4 1479.3L1147.1 1477.8L1142.8 1476.3L1138.5 1474.8L1134.2 1473.2L1129.9 1471.5L1125.6 1469.8L1121.2 1468.1L1116.9 1466.3L1112.6 1464.5L1108.3 1462.6L1104.0 1460.6L1099.7 1458.7L1095.3 1456.6L1091.0 1454.5L1086.7 1452.4L1082.4 1450.2L1078.1 1447.9L1073.8 1445.6L1069.4 1443.2L1065.1 1440.8L1060.8 1438.3L1056.5 1435.7L1052.2 1433.1L1047.9 1430.4L1043.6 1427.6L1039.2 1424.8L1034.9 1421.9L1030.6 1419.0L1026.3 1415.9L1022.0 1412.8L1017.7 1409.7L1013.3 1406.4L1009.0 1403.1L1004.7 1399.7L1000.4 1396.3L996.1 1392.8L991.8 1389.1L987.4 1385.5L983.1 1381.7L978.8 1377.9L974.5 1374.0L970.2 1370.0L965.9 1366.0L961.5 1361.9L957.2 1357.7L952.9 1353.5L948.6 1349.2L944.3 1344.8L940.0 1340.4L935.7 1335.9L931.3 1331.3L927.0 1326.7L922.7 1322.0L918.4 1317.2L914.1 1312.4L909.8 1307.5L905.4 1302.5L901.1 1297.5L896.8 1292.5L892.5 1287.4L888.2 1282.2L883.9 1277.1L879.5 1271.9L875.2 1266.6L870.9 1261.3L866.6 1256.0L862.3 1250.6L858.0 1245.1L853.6 1239.7L849.3 1234.1L845.0 1228.5L840.7 1222.8Z" fill="#999" fill-opacity="0.4"/>
<path d="M840.7 1219.8L845.0 1225.6L849.3 1231.4L853.6 1237.1L858.0 1242.7L862.3 1248.3L866.6 1253.8L870.9 1259.3L875.2 1264.7L879.5 1270.1L883.9 1275.4L888.2 1280.6L892.5 1285.8L896.8 1291.0L901.1 1296.0L905.4 1301.0L909.8 1306.0L914.1 1310.9L918.4 1315.7L922.7 1320.5L927.0 1325.2L931.3 1329.8L935.7 1334.4L940.0 1338.9L944.3 1343.3L948.6 1347.7L952.9 1352.0L957.2 1356.2L961.5 1360.4L965.9 1364.5L970.2 1368.5L974.5 1372.5L978.8 1376.4L983.1 1380.2L987.4 1384.0L991.8 1387.6L996.1 1391.3L1000.4 1394.8L1004.7 1398.2L1009.0 1401.6L1013.3 1404.9L1017.7 1408.2L1022.0 1411.3L1026.3 1414.4L1030.6 1417.5L1034.9 1420.4L1039.2 1423.3L1043.6 1426.1L1047.9 1428.9L1052.2 1431.6L1056.5 1434.2L1060.8 1436.8L1065.1 1439.3L1069.4 1441.7L1073.8 1444.1L1078.1 1446.4L1082.4 1448.7L1086.7 1450.9L1091.0 1453.0L1095.3 1455.1L1099.7 1457.2L1104.0 1459.1L1108.3 1461.1L1112.6 1463.0L1116.9 1464.8L1121.2 1466.6L1125.6 1468.3L1129.9 1470.0L1134.2 1471.7L1138.5 1473.3L1142.8 1474.8L1147.1 1476.3L1151.4 1477.8L1155.8 1479.2L1160.1 1480.6L1164.4 1481.9L1168.7 1483.2L1173.0 1484.5L1177.3 1485.7L1181.7 1486.9L1186.0 1488.1L1190.3 1489.2L1194.6 1490.3L1198.9 1491.3L1203.2 1492.3L1207.6 1493.3L1211.9 1494.3L1216.2 1495.2L1220.5 1496.1L1224.8 1496.9L1229.1 1497.8L1233.5 1498.6L1237.8 1499.4L1242.1 1500.1L1246.4 1500.9L1250.7 1501.6L1255.0 1502.3L1259.3 1502.9L1263.7 1503.6L1268.0 1504.2L1272.3 1504.8L1276.6 1505.4L1280.9 1506.0L1285.2 1506.5L1289.6 1507.1L1293.9 1507.6L1298.2 1508.1L1302.5 1508.6L1306.8 1509.1L1311.1 1509.6L1315.5 1510.0L1319.8 1510.5L1324.1 1510.9L1328.4 1511.4L1332.7 1511.8L1337.0 1512.2L1341.4 1512.6L1345.7 1513.0L1350.0 1513.4L1354.3 1513.9" stroke="#3A60DA" stroke-width="2.5" fill="none"/>
<path d="M918.6 1591.7v9.5M1068.6 1591.7v9.5M1218.6 1591.7v9.5M1368.6 1591.7v9.5M793.1 1530.6h9M793.1 1445.8h9M793.1 1361.1h9M793.1 1276.3h9M793.1 1191.6h9" stroke="#7F7F7F" stroke-width="2.2" fill="none"/>
<text x="918.6" y="1622.6" text-anchor="middle" class="tk">0.0</text>
<text x="1068.6" y="1622.6" text-anchor="middle" class="tk">2.5</text>
<text x="1218.6" y="1622.6" text-anchor="middle" class="tk">5.0</text>
<text x="1368.6" y="1622.6" text-anchor="middle" class="tk">7.5</text>
<text x="786.5" y="1538.5" text-anchor="end" class="tk">500</text>
<text x="786.5" y="1453.8" text-anchor="end" class="tk">600</text>
<text x="786.5" y="1369.0" text-anchor="end" class="tk">700</text>
<text x="786.5" y="1284.2" text-anchor="end" class="tk">800</text>
<text x="786.5" y="1199.5" text-anchor="end" class="tk">900</text>
<text transform="translate(1098.5,1165.0) scale(0.98,1.02)" text-anchor="middle" class="tt">ML RTs (Reciprocal-of-Root)</text>
<text transform="translate(1098.5,1648.5) scale(1,1.04)" text-anchor="middle" class="at">LN Freq of Occurrences per Million</text>
<text transform="translate(745.1,1382.5) rotate(-90) scale(1.06,1.04)" text-anchor="middle" class="at">RTs</text>
</svg></body></html>
